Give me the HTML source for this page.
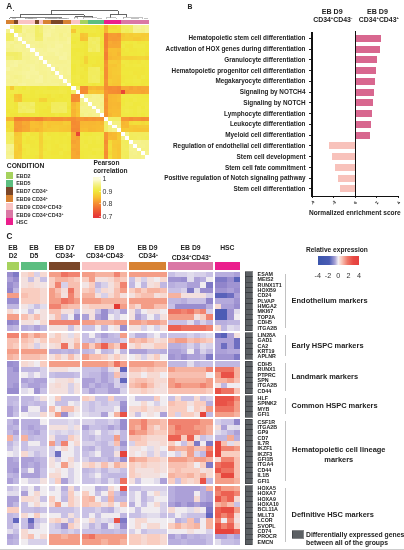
<!DOCTYPE html>
<html><head><meta charset="utf-8"><title>Figure</title>
<style>html,body{margin:0;padding:0;background:#fff;width:404px;height:550px;overflow:hidden} svg{display:block;filter:blur(0.45px)} text{shape-rendering:auto}</style>
</head><body>
<svg width="404" height="550" viewBox="0 0 404 550" shape-rendering="crispEdges"><rect x="0" y="0" width="404" height="550" fill="#fff"/>
<text x="6.2" y="8.9" font-family="Liberation Sans, Arial, sans-serif" font-weight="bold" font-size="8.2" fill="#222">A</text>
<circle cx="13.4" cy="10.4" r="0.55" fill="#666"/>
<rect x="5.90" y="19.6" width="4.15" height="4.6" fill="#d78232"/>
<rect x="10.00" y="19.6" width="4.15" height="4.6" fill="#d78232"/>
<rect x="14.09" y="19.6" width="4.15" height="4.6" fill="#7a4628"/>
<rect x="18.19" y="19.6" width="4.15" height="4.6" fill="#fac3c3"/>
<rect x="22.29" y="19.6" width="4.15" height="4.6" fill="#fac3c3"/>
<rect x="26.39" y="19.6" width="4.15" height="4.6" fill="#fac3c3"/>
<rect x="30.48" y="19.6" width="4.15" height="4.6" fill="#fac3c3"/>
<rect x="34.58" y="19.6" width="4.15" height="4.6" fill="#7a4628"/>
<rect x="38.68" y="19.6" width="4.15" height="4.6" fill="#fac3c3"/>
<rect x="42.77" y="19.6" width="4.15" height="4.6" fill="#d78232"/>
<rect x="46.87" y="19.6" width="4.15" height="4.6" fill="#d78232"/>
<rect x="50.97" y="19.6" width="4.15" height="4.6" fill="#7a4628"/>
<rect x="55.06" y="19.6" width="4.15" height="4.6" fill="#7a4628"/>
<rect x="59.16" y="19.6" width="4.15" height="4.6" fill="#7a4628"/>
<rect x="63.26" y="19.6" width="4.15" height="4.6" fill="#d78232"/>
<rect x="67.36" y="19.6" width="4.15" height="4.6" fill="#d78232"/>
<rect x="71.45" y="19.6" width="4.15" height="4.6" fill="#fac3c3"/>
<rect x="75.55" y="19.6" width="4.15" height="4.6" fill="#fac3c3"/>
<rect x="79.65" y="19.6" width="4.15" height="4.6" fill="#a6d25e"/>
<rect x="83.74" y="19.6" width="4.15" height="4.6" fill="#a6d25e"/>
<rect x="87.84" y="19.6" width="4.15" height="4.6" fill="#5cbe80"/>
<rect x="91.94" y="19.6" width="4.15" height="4.6" fill="#5cbe80"/>
<rect x="96.03" y="19.6" width="4.15" height="4.6" fill="#5cbe80"/>
<rect x="100.13" y="19.6" width="4.15" height="4.6" fill="#5cbe80"/>
<rect x="104.23" y="19.6" width="4.15" height="4.6" fill="#eb1e8c"/>
<rect x="108.33" y="19.6" width="4.15" height="4.6" fill="#eb1e8c"/>
<rect x="112.42" y="19.6" width="4.15" height="4.6" fill="#eb1e8c"/>
<rect x="116.52" y="19.6" width="4.15" height="4.6" fill="#eb1e8c"/>
<rect x="120.62" y="19.6" width="4.15" height="4.6" fill="#da78a5"/>
<rect x="124.71" y="19.6" width="4.15" height="4.6" fill="#da78a5"/>
<rect x="128.81" y="19.6" width="4.15" height="4.6" fill="#da78a5"/>
<rect x="132.91" y="19.6" width="4.15" height="4.6" fill="#da78a5"/>
<rect x="137.00" y="19.6" width="4.15" height="4.6" fill="#da78a5"/>
<rect x="141.10" y="19.6" width="4.15" height="4.6" fill="#da78a5"/>
<rect x="145.20" y="19.6" width="4.15" height="4.6" fill="#da78a5"/>
<rect x="5.90" y="25.30" width="4.16" height="3.88" fill="#ffffff"/>
<rect x="10.00" y="25.30" width="4.16" height="3.88" fill="#f5f28e"/>
<rect x="14.09" y="25.30" width="4.16" height="3.88" fill="#f2ed65"/>
<rect x="18.19" y="25.30" width="4.16" height="3.88" fill="#f2ed62"/>
<rect x="22.29" y="25.30" width="4.16" height="3.88" fill="#f6f394"/>
<rect x="26.39" y="25.30" width="4.16" height="3.88" fill="#f6f394"/>
<rect x="30.48" y="25.30" width="4.16" height="3.88" fill="#f5f28b"/>
<rect x="34.58" y="25.30" width="4.16" height="3.88" fill="#f2ed64"/>
<rect x="38.68" y="25.30" width="4.16" height="3.88" fill="#f3ef72"/>
<rect x="42.77" y="25.30" width="4.16" height="3.88" fill="#f6f397"/>
<rect x="46.87" y="25.30" width="4.16" height="3.88" fill="#f6f396"/>
<rect x="50.97" y="25.30" width="4.16" height="3.88" fill="#f7f5a4"/>
<rect x="55.06" y="25.30" width="4.16" height="3.88" fill="#f6f292"/>
<rect x="59.16" y="25.30" width="4.16" height="3.88" fill="#f6f398"/>
<rect x="63.26" y="25.30" width="4.16" height="3.88" fill="#f6f292"/>
<rect x="67.36" y="25.30" width="4.16" height="3.88" fill="#f6f395"/>
<rect x="71.45" y="25.30" width="4.16" height="3.88" fill="#f0e83e"/>
<rect x="75.55" y="25.30" width="4.16" height="3.88" fill="#f0e944"/>
<rect x="79.65" y="25.30" width="4.16" height="3.88" fill="#f0e941"/>
<rect x="83.74" y="25.30" width="4.16" height="3.88" fill="#f0e83c"/>
<rect x="87.84" y="25.30" width="4.16" height="3.88" fill="#f0e83f"/>
<rect x="91.94" y="25.30" width="4.16" height="3.88" fill="#f0e83e"/>
<rect x="96.03" y="25.30" width="4.16" height="3.88" fill="#f1e53b"/>
<rect x="100.13" y="25.30" width="4.16" height="3.88" fill="#f0e83f"/>
<rect x="104.23" y="25.30" width="4.16" height="3.88" fill="#f7b132"/>
<rect x="108.33" y="25.30" width="4.16" height="3.88" fill="#f3da39"/>
<rect x="112.42" y="25.30" width="4.16" height="3.88" fill="#f3d838"/>
<rect x="116.52" y="25.30" width="4.16" height="3.88" fill="#f2df3a"/>
<rect x="120.62" y="25.30" width="4.16" height="3.88" fill="#f2ec5d"/>
<rect x="124.71" y="25.30" width="4.16" height="3.88" fill="#f2ed60"/>
<rect x="128.81" y="25.30" width="4.16" height="3.88" fill="#f2ed62"/>
<rect x="132.91" y="25.30" width="4.16" height="3.88" fill="#f6f293"/>
<rect x="137.00" y="25.30" width="4.16" height="3.88" fill="#f6f396"/>
<rect x="141.10" y="25.30" width="4.16" height="3.88" fill="#f5f28d"/>
<rect x="145.20" y="25.30" width="4.16" height="3.88" fill="#f6f394"/>
<rect x="5.90" y="29.12" width="4.16" height="3.88" fill="#f5f28e"/>
<rect x="10.00" y="29.12" width="4.16" height="3.88" fill="#ffffff"/>
<rect x="14.09" y="29.12" width="4.16" height="3.88" fill="#f2ed63"/>
<rect x="18.19" y="29.12" width="4.16" height="3.88" fill="#f3ee6b"/>
<rect x="22.29" y="29.12" width="4.16" height="3.88" fill="#f6f399"/>
<rect x="26.39" y="29.12" width="4.16" height="3.88" fill="#f5f28b"/>
<rect x="30.48" y="29.12" width="4.16" height="3.88" fill="#f5f28c"/>
<rect x="34.58" y="29.12" width="4.16" height="3.88" fill="#f2ed68"/>
<rect x="38.68" y="29.12" width="4.16" height="3.88" fill="#f3ef75"/>
<rect x="42.77" y="29.12" width="4.16" height="3.88" fill="#f6f39a"/>
<rect x="46.87" y="29.12" width="4.16" height="3.88" fill="#f7f49d"/>
<rect x="50.97" y="29.12" width="4.16" height="3.88" fill="#f6f397"/>
<rect x="55.06" y="29.12" width="4.16" height="3.88" fill="#f6f292"/>
<rect x="59.16" y="29.12" width="4.16" height="3.88" fill="#f6f290"/>
<rect x="63.26" y="29.12" width="4.16" height="3.88" fill="#f6f290"/>
<rect x="67.36" y="29.12" width="4.16" height="3.88" fill="#f6f394"/>
<rect x="71.45" y="29.12" width="4.16" height="3.88" fill="#f6c934"/>
<rect x="75.55" y="29.12" width="4.16" height="3.88" fill="#f1ea48"/>
<rect x="79.65" y="29.12" width="4.16" height="3.88" fill="#f0e83e"/>
<rect x="83.74" y="29.12" width="4.16" height="3.88" fill="#f0e942"/>
<rect x="87.84" y="29.12" width="4.16" height="3.88" fill="#f0e941"/>
<rect x="91.94" y="29.12" width="4.16" height="3.88" fill="#f0e943"/>
<rect x="96.03" y="29.12" width="4.16" height="3.88" fill="#f0e83e"/>
<rect x="100.13" y="29.12" width="4.16" height="3.88" fill="#f1e53b"/>
<rect x="104.23" y="29.12" width="4.16" height="3.88" fill="#f7b432"/>
<rect x="108.33" y="29.12" width="4.16" height="3.88" fill="#f2e03a"/>
<rect x="112.42" y="29.12" width="4.16" height="3.88" fill="#f2df3a"/>
<rect x="116.52" y="29.12" width="4.16" height="3.88" fill="#f2dd39"/>
<rect x="120.62" y="29.12" width="4.16" height="3.88" fill="#f2ed60"/>
<rect x="124.71" y="29.12" width="4.16" height="3.88" fill="#f1ec59"/>
<rect x="128.81" y="29.12" width="4.16" height="3.88" fill="#f2ed62"/>
<rect x="132.91" y="29.12" width="4.16" height="3.88" fill="#f6f290"/>
<rect x="137.00" y="29.12" width="4.16" height="3.88" fill="#f5f28b"/>
<rect x="141.10" y="29.12" width="4.16" height="3.88" fill="#f5f187"/>
<rect x="145.20" y="29.12" width="4.16" height="3.88" fill="#f6f395"/>
<rect x="5.90" y="32.94" width="4.16" height="3.88" fill="#f2ed65"/>
<rect x="10.00" y="32.94" width="4.16" height="3.88" fill="#f2ed63"/>
<rect x="14.09" y="32.94" width="4.16" height="3.88" fill="#ffffff"/>
<rect x="18.19" y="32.94" width="4.16" height="3.88" fill="#f7f39b"/>
<rect x="22.29" y="32.94" width="4.16" height="3.88" fill="#f5f28b"/>
<rect x="26.39" y="32.94" width="4.16" height="3.88" fill="#f6f397"/>
<rect x="30.48" y="32.94" width="4.16" height="3.88" fill="#f6f291"/>
<rect x="34.58" y="32.94" width="4.16" height="3.88" fill="#f2ed67"/>
<rect x="38.68" y="32.94" width="4.16" height="3.88" fill="#f2ee69"/>
<rect x="42.77" y="32.94" width="4.16" height="3.88" fill="#f7f49f"/>
<rect x="46.87" y="32.94" width="4.16" height="3.88" fill="#f7f4a2"/>
<rect x="50.97" y="32.94" width="4.16" height="3.88" fill="#f6f293"/>
<rect x="55.06" y="32.94" width="4.16" height="3.88" fill="#f6f394"/>
<rect x="59.16" y="32.94" width="4.16" height="3.88" fill="#f5f18a"/>
<rect x="63.26" y="32.94" width="4.16" height="3.88" fill="#f6f396"/>
<rect x="67.36" y="32.94" width="4.16" height="3.88" fill="#f6f28f"/>
<rect x="71.45" y="32.94" width="4.16" height="3.88" fill="#f1e948"/>
<rect x="75.55" y="32.94" width="4.16" height="3.88" fill="#f1ea49"/>
<rect x="79.65" y="32.94" width="4.16" height="3.88" fill="#f7c433"/>
<rect x="83.74" y="32.94" width="4.16" height="3.88" fill="#f6c834"/>
<rect x="87.84" y="32.94" width="4.16" height="3.88" fill="#f0e63c"/>
<rect x="91.94" y="32.94" width="4.16" height="3.88" fill="#f1e53b"/>
<rect x="96.03" y="32.94" width="4.16" height="3.88" fill="#f0e83d"/>
<rect x="100.13" y="32.94" width="4.16" height="3.88" fill="#f1e43b"/>
<rect x="104.23" y="32.94" width="4.16" height="3.88" fill="#f38032"/>
<rect x="108.33" y="32.94" width="4.16" height="3.88" fill="#f69b32"/>
<rect x="112.42" y="32.94" width="4.16" height="3.88" fill="#f69d32"/>
<rect x="116.52" y="32.94" width="4.16" height="3.88" fill="#f69832"/>
<rect x="120.62" y="32.94" width="4.16" height="3.88" fill="#f6c834"/>
<rect x="124.71" y="32.94" width="4.16" height="3.88" fill="#f5cf36"/>
<rect x="128.81" y="32.94" width="4.16" height="3.88" fill="#f6cb35"/>
<rect x="132.91" y="32.94" width="4.16" height="3.88" fill="#f5d036"/>
<rect x="137.00" y="32.94" width="4.16" height="3.88" fill="#f5cf36"/>
<rect x="141.10" y="32.94" width="4.16" height="3.88" fill="#f6cb35"/>
<rect x="145.20" y="32.94" width="4.16" height="3.88" fill="#f6cc35"/>
<rect x="5.90" y="36.76" width="4.16" height="3.88" fill="#f2ed62"/>
<rect x="10.00" y="36.76" width="4.16" height="3.88" fill="#f3ee6b"/>
<rect x="14.09" y="36.76" width="4.16" height="3.88" fill="#f7f39b"/>
<rect x="18.19" y="36.76" width="4.16" height="3.88" fill="#ffffff"/>
<rect x="22.29" y="36.76" width="4.16" height="3.88" fill="#f6f293"/>
<rect x="26.39" y="36.76" width="4.16" height="3.88" fill="#f6f395"/>
<rect x="30.48" y="36.76" width="4.16" height="3.88" fill="#f6f394"/>
<rect x="34.58" y="36.76" width="4.16" height="3.88" fill="#f3ee6e"/>
<rect x="38.68" y="36.76" width="4.16" height="3.88" fill="#f3ee6f"/>
<rect x="42.77" y="36.76" width="4.16" height="3.88" fill="#f6f39a"/>
<rect x="46.87" y="36.76" width="4.16" height="3.88" fill="#f6f292"/>
<rect x="50.97" y="36.76" width="4.16" height="3.88" fill="#f6f291"/>
<rect x="55.06" y="36.76" width="4.16" height="3.88" fill="#f6f396"/>
<rect x="59.16" y="36.76" width="4.16" height="3.88" fill="#f5f28e"/>
<rect x="63.26" y="36.76" width="4.16" height="3.88" fill="#f6f28f"/>
<rect x="67.36" y="36.76" width="4.16" height="3.88" fill="#f7f39a"/>
<rect x="71.45" y="36.76" width="4.16" height="3.88" fill="#f0e943"/>
<rect x="75.55" y="36.76" width="4.16" height="3.88" fill="#f0e943"/>
<rect x="79.65" y="36.76" width="4.16" height="3.88" fill="#f8c032"/>
<rect x="83.74" y="36.76" width="4.16" height="3.88" fill="#f7c333"/>
<rect x="87.84" y="36.76" width="4.16" height="3.88" fill="#f2ed65"/>
<rect x="91.94" y="36.76" width="4.16" height="3.88" fill="#f2ec5e"/>
<rect x="96.03" y="36.76" width="4.16" height="3.88" fill="#f2ed66"/>
<rect x="100.13" y="36.76" width="4.16" height="3.88" fill="#f0e83e"/>
<rect x="104.23" y="36.76" width="4.16" height="3.88" fill="#f37f32"/>
<rect x="108.33" y="36.76" width="4.16" height="3.88" fill="#f69d32"/>
<rect x="112.42" y="36.76" width="4.16" height="3.88" fill="#f69b32"/>
<rect x="116.52" y="36.76" width="4.16" height="3.88" fill="#f69d32"/>
<rect x="120.62" y="36.76" width="4.16" height="3.88" fill="#f6cb35"/>
<rect x="124.71" y="36.76" width="4.16" height="3.88" fill="#f5ce35"/>
<rect x="128.81" y="36.76" width="4.16" height="3.88" fill="#f5ce35"/>
<rect x="132.91" y="36.76" width="4.16" height="3.88" fill="#f6c834"/>
<rect x="137.00" y="36.76" width="4.16" height="3.88" fill="#f6c834"/>
<rect x="141.10" y="36.76" width="4.16" height="3.88" fill="#f5cd35"/>
<rect x="145.20" y="36.76" width="4.16" height="3.88" fill="#f5d036"/>
<rect x="5.90" y="40.58" width="4.16" height="3.88" fill="#f6f394"/>
<rect x="10.00" y="40.58" width="4.16" height="3.88" fill="#f6f399"/>
<rect x="14.09" y="40.58" width="4.16" height="3.88" fill="#f5f28b"/>
<rect x="18.19" y="40.58" width="4.16" height="3.88" fill="#f6f293"/>
<rect x="22.29" y="40.58" width="4.16" height="3.88" fill="#ffffff"/>
<rect x="26.39" y="40.58" width="4.16" height="3.88" fill="#f6f28e"/>
<rect x="30.48" y="40.58" width="4.16" height="3.88" fill="#f6f292"/>
<rect x="34.58" y="40.58" width="4.16" height="3.88" fill="#f6f394"/>
<rect x="38.68" y="40.58" width="4.16" height="3.88" fill="#f6f28f"/>
<rect x="42.77" y="40.58" width="4.16" height="3.88" fill="#f6f397"/>
<rect x="46.87" y="40.58" width="4.16" height="3.88" fill="#f6f396"/>
<rect x="50.97" y="40.58" width="4.16" height="3.88" fill="#f6f397"/>
<rect x="55.06" y="40.58" width="4.16" height="3.88" fill="#f7f39b"/>
<rect x="59.16" y="40.58" width="4.16" height="3.88" fill="#f6f396"/>
<rect x="63.26" y="40.58" width="4.16" height="3.88" fill="#f6f397"/>
<rect x="67.36" y="40.58" width="4.16" height="3.88" fill="#f7f49e"/>
<rect x="71.45" y="40.58" width="4.16" height="3.88" fill="#f0e83c"/>
<rect x="75.55" y="40.58" width="4.16" height="3.88" fill="#f0e944"/>
<rect x="79.65" y="40.58" width="4.16" height="3.88" fill="#f0e83f"/>
<rect x="83.74" y="40.58" width="4.16" height="3.88" fill="#f0e63c"/>
<rect x="87.84" y="40.58" width="4.16" height="3.88" fill="#f2ed60"/>
<rect x="91.94" y="40.58" width="4.16" height="3.88" fill="#f2ee69"/>
<rect x="96.03" y="40.58" width="4.16" height="3.88" fill="#f2ed61"/>
<rect x="100.13" y="40.58" width="4.16" height="3.88" fill="#f1e53b"/>
<rect x="104.23" y="40.58" width="4.16" height="3.88" fill="#f48232"/>
<rect x="108.33" y="40.58" width="4.16" height="3.88" fill="#f7ab32"/>
<rect x="112.42" y="40.58" width="4.16" height="3.88" fill="#f6a532"/>
<rect x="116.52" y="40.58" width="4.16" height="3.88" fill="#f7a732"/>
<rect x="120.62" y="40.58" width="4.16" height="3.88" fill="#f0e73c"/>
<rect x="124.71" y="40.58" width="4.16" height="3.88" fill="#f0e940"/>
<rect x="128.81" y="40.58" width="4.16" height="3.88" fill="#f0e83c"/>
<rect x="132.91" y="40.58" width="4.16" height="3.88" fill="#f0e941"/>
<rect x="137.00" y="40.58" width="4.16" height="3.88" fill="#f1e53b"/>
<rect x="141.10" y="40.58" width="4.16" height="3.88" fill="#f0e73c"/>
<rect x="145.20" y="40.58" width="4.16" height="3.88" fill="#f0e83e"/>
<rect x="5.90" y="44.40" width="4.16" height="3.88" fill="#f6f394"/>
<rect x="10.00" y="44.40" width="4.16" height="3.88" fill="#f5f28b"/>
<rect x="14.09" y="44.40" width="4.16" height="3.88" fill="#f6f397"/>
<rect x="18.19" y="44.40" width="4.16" height="3.88" fill="#f6f395"/>
<rect x="22.29" y="44.40" width="4.16" height="3.88" fill="#f6f28e"/>
<rect x="26.39" y="44.40" width="4.16" height="3.88" fill="#ffffff"/>
<rect x="30.48" y="44.40" width="4.16" height="3.88" fill="#f6f399"/>
<rect x="34.58" y="44.40" width="4.16" height="3.88" fill="#f6f291"/>
<rect x="38.68" y="44.40" width="4.16" height="3.88" fill="#f5f28e"/>
<rect x="42.77" y="44.40" width="4.16" height="3.88" fill="#f6f293"/>
<rect x="46.87" y="44.40" width="4.16" height="3.88" fill="#f6f39a"/>
<rect x="50.97" y="44.40" width="4.16" height="3.88" fill="#f6f394"/>
<rect x="55.06" y="44.40" width="4.16" height="3.88" fill="#f7f49e"/>
<rect x="59.16" y="44.40" width="4.16" height="3.88" fill="#f7f49f"/>
<rect x="63.26" y="44.40" width="4.16" height="3.88" fill="#f6f394"/>
<rect x="67.36" y="44.40" width="4.16" height="3.88" fill="#f6f395"/>
<rect x="71.45" y="44.40" width="4.16" height="3.88" fill="#f1e947"/>
<rect x="75.55" y="44.40" width="4.16" height="3.88" fill="#f0e945"/>
<rect x="79.65" y="44.40" width="4.16" height="3.88" fill="#f0e940"/>
<rect x="83.74" y="44.40" width="4.16" height="3.88" fill="#f0e73c"/>
<rect x="87.84" y="44.40" width="4.16" height="3.88" fill="#f2ec5f"/>
<rect x="91.94" y="44.40" width="4.16" height="3.88" fill="#f2ed61"/>
<rect x="96.03" y="44.40" width="4.16" height="3.88" fill="#f2ee69"/>
<rect x="100.13" y="44.40" width="4.16" height="3.88" fill="#f0e63c"/>
<rect x="104.23" y="44.40" width="4.16" height="3.88" fill="#f38232"/>
<rect x="108.33" y="44.40" width="4.16" height="3.88" fill="#f7a832"/>
<rect x="112.42" y="44.40" width="4.16" height="3.88" fill="#f7a832"/>
<rect x="116.52" y="44.40" width="4.16" height="3.88" fill="#f7a832"/>
<rect x="120.62" y="44.40" width="4.16" height="3.88" fill="#f0e942"/>
<rect x="124.71" y="44.40" width="4.16" height="3.88" fill="#f1e53b"/>
<rect x="128.81" y="44.40" width="4.16" height="3.88" fill="#f1e43b"/>
<rect x="132.91" y="44.40" width="4.16" height="3.88" fill="#f0e942"/>
<rect x="137.00" y="44.40" width="4.16" height="3.88" fill="#f0e941"/>
<rect x="141.10" y="44.40" width="4.16" height="3.88" fill="#f0e942"/>
<rect x="145.20" y="44.40" width="4.16" height="3.88" fill="#f0e73c"/>
<rect x="5.90" y="48.22" width="4.16" height="3.88" fill="#f5f28b"/>
<rect x="10.00" y="48.22" width="4.16" height="3.88" fill="#f5f28c"/>
<rect x="14.09" y="48.22" width="4.16" height="3.88" fill="#f6f291"/>
<rect x="18.19" y="48.22" width="4.16" height="3.88" fill="#f6f394"/>
<rect x="22.29" y="48.22" width="4.16" height="3.88" fill="#f6f292"/>
<rect x="26.39" y="48.22" width="4.16" height="3.88" fill="#f6f399"/>
<rect x="30.48" y="48.22" width="4.16" height="3.88" fill="#ffffff"/>
<rect x="34.58" y="48.22" width="4.16" height="3.88" fill="#f7f39a"/>
<rect x="38.68" y="48.22" width="4.16" height="3.88" fill="#f6f39a"/>
<rect x="42.77" y="48.22" width="4.16" height="3.88" fill="#f6f394"/>
<rect x="46.87" y="48.22" width="4.16" height="3.88" fill="#f7f49d"/>
<rect x="50.97" y="48.22" width="4.16" height="3.88" fill="#f7f49f"/>
<rect x="55.06" y="48.22" width="4.16" height="3.88" fill="#f7f49c"/>
<rect x="59.16" y="48.22" width="4.16" height="3.88" fill="#f6f399"/>
<rect x="63.26" y="48.22" width="4.16" height="3.88" fill="#f6f396"/>
<rect x="67.36" y="48.22" width="4.16" height="3.88" fill="#f6f396"/>
<rect x="71.45" y="48.22" width="4.16" height="3.88" fill="#f0e83f"/>
<rect x="75.55" y="48.22" width="4.16" height="3.88" fill="#f0e83d"/>
<rect x="79.65" y="48.22" width="4.16" height="3.88" fill="#f0e83d"/>
<rect x="83.74" y="48.22" width="4.16" height="3.88" fill="#f0e63c"/>
<rect x="87.84" y="48.22" width="4.16" height="3.88" fill="#f2ee69"/>
<rect x="91.94" y="48.22" width="4.16" height="3.88" fill="#f2ec5e"/>
<rect x="96.03" y="48.22" width="4.16" height="3.88" fill="#f3ee6b"/>
<rect x="100.13" y="48.22" width="4.16" height="3.88" fill="#f0e83f"/>
<rect x="104.23" y="48.22" width="4.16" height="3.88" fill="#f48732"/>
<rect x="108.33" y="48.22" width="4.16" height="3.88" fill="#f8bf32"/>
<rect x="112.42" y="48.22" width="4.16" height="3.88" fill="#f8bf32"/>
<rect x="116.52" y="48.22" width="4.16" height="3.88" fill="#f8bc32"/>
<rect x="120.62" y="48.22" width="4.16" height="3.88" fill="#f1e43b"/>
<rect x="124.71" y="48.22" width="4.16" height="3.88" fill="#f0e83f"/>
<rect x="128.81" y="48.22" width="4.16" height="3.88" fill="#f1e53b"/>
<rect x="132.91" y="48.22" width="4.16" height="3.88" fill="#f0e63c"/>
<rect x="137.00" y="48.22" width="4.16" height="3.88" fill="#f0e83e"/>
<rect x="141.10" y="48.22" width="4.16" height="3.88" fill="#f0e83c"/>
<rect x="145.20" y="48.22" width="4.16" height="3.88" fill="#f0e73c"/>
<rect x="5.90" y="52.04" width="4.16" height="3.88" fill="#f2ed64"/>
<rect x="10.00" y="52.04" width="4.16" height="3.88" fill="#f2ed68"/>
<rect x="14.09" y="52.04" width="4.16" height="3.88" fill="#f2ed67"/>
<rect x="18.19" y="52.04" width="4.16" height="3.88" fill="#f3ee6e"/>
<rect x="22.29" y="52.04" width="4.16" height="3.88" fill="#f6f394"/>
<rect x="26.39" y="52.04" width="4.16" height="3.88" fill="#f6f291"/>
<rect x="30.48" y="52.04" width="4.16" height="3.88" fill="#f7f39a"/>
<rect x="34.58" y="52.04" width="4.16" height="3.88" fill="#ffffff"/>
<rect x="38.68" y="52.04" width="4.16" height="3.88" fill="#f6f39a"/>
<rect x="42.77" y="52.04" width="4.16" height="3.88" fill="#f7f39b"/>
<rect x="46.87" y="52.04" width="4.16" height="3.88" fill="#f6f396"/>
<rect x="50.97" y="52.04" width="4.16" height="3.88" fill="#f6f395"/>
<rect x="55.06" y="52.04" width="4.16" height="3.88" fill="#f7f49f"/>
<rect x="59.16" y="52.04" width="4.16" height="3.88" fill="#f6f399"/>
<rect x="63.26" y="52.04" width="4.16" height="3.88" fill="#f7f49e"/>
<rect x="67.36" y="52.04" width="4.16" height="3.88" fill="#f6f397"/>
<rect x="71.45" y="52.04" width="4.16" height="3.88" fill="#f0e83f"/>
<rect x="75.55" y="52.04" width="4.16" height="3.88" fill="#f0e943"/>
<rect x="79.65" y="52.04" width="4.16" height="3.88" fill="#f0e940"/>
<rect x="83.74" y="52.04" width="4.16" height="3.88" fill="#f1e53b"/>
<rect x="87.84" y="52.04" width="4.16" height="3.88" fill="#f0e840"/>
<rect x="91.94" y="52.04" width="4.16" height="3.88" fill="#f0e942"/>
<rect x="96.03" y="52.04" width="4.16" height="3.88" fill="#f0e940"/>
<rect x="100.13" y="52.04" width="4.16" height="3.88" fill="#f0e940"/>
<rect x="104.23" y="52.04" width="4.16" height="3.88" fill="#f37f32"/>
<rect x="108.33" y="52.04" width="4.16" height="3.88" fill="#f8bc32"/>
<rect x="112.42" y="52.04" width="4.16" height="3.88" fill="#f8bf32"/>
<rect x="116.52" y="52.04" width="4.16" height="3.88" fill="#f7b632"/>
<rect x="120.62" y="52.04" width="4.16" height="3.88" fill="#f0e63c"/>
<rect x="124.71" y="52.04" width="4.16" height="3.88" fill="#f0e63c"/>
<rect x="128.81" y="52.04" width="4.16" height="3.88" fill="#f0e83c"/>
<rect x="132.91" y="52.04" width="4.16" height="3.88" fill="#f0e73c"/>
<rect x="137.00" y="52.04" width="4.16" height="3.88" fill="#f0e83c"/>
<rect x="141.10" y="52.04" width="4.16" height="3.88" fill="#f0e840"/>
<rect x="145.20" y="52.04" width="4.16" height="3.88" fill="#f1e43b"/>
<rect x="5.90" y="55.86" width="4.16" height="3.88" fill="#f3ef72"/>
<rect x="10.00" y="55.86" width="4.16" height="3.88" fill="#f3ef75"/>
<rect x="14.09" y="55.86" width="4.16" height="3.88" fill="#f2ee69"/>
<rect x="18.19" y="55.86" width="4.16" height="3.88" fill="#f3ee6f"/>
<rect x="22.29" y="55.86" width="4.16" height="3.88" fill="#f6f28f"/>
<rect x="26.39" y="55.86" width="4.16" height="3.88" fill="#f5f28e"/>
<rect x="30.48" y="55.86" width="4.16" height="3.88" fill="#f6f39a"/>
<rect x="34.58" y="55.86" width="4.16" height="3.88" fill="#f6f39a"/>
<rect x="38.68" y="55.86" width="4.16" height="3.88" fill="#ffffff"/>
<rect x="42.77" y="55.86" width="4.16" height="3.88" fill="#f6f292"/>
<rect x="46.87" y="55.86" width="4.16" height="3.88" fill="#f6f293"/>
<rect x="50.97" y="55.86" width="4.16" height="3.88" fill="#f6f293"/>
<rect x="55.06" y="55.86" width="4.16" height="3.88" fill="#f6f292"/>
<rect x="59.16" y="55.86" width="4.16" height="3.88" fill="#f7f4a2"/>
<rect x="63.26" y="55.86" width="4.16" height="3.88" fill="#f7f49f"/>
<rect x="67.36" y="55.86" width="4.16" height="3.88" fill="#f6f292"/>
<rect x="71.45" y="55.86" width="4.16" height="3.88" fill="#f0e943"/>
<rect x="75.55" y="55.86" width="4.16" height="3.88" fill="#f0e940"/>
<rect x="79.65" y="55.86" width="4.16" height="3.88" fill="#f0e73c"/>
<rect x="83.74" y="55.86" width="4.16" height="3.88" fill="#f4d337"/>
<rect x="87.84" y="55.86" width="4.16" height="3.88" fill="#f0e83e"/>
<rect x="91.94" y="55.86" width="4.16" height="3.88" fill="#f0e83d"/>
<rect x="96.03" y="55.86" width="4.16" height="3.88" fill="#f0e73c"/>
<rect x="100.13" y="55.86" width="4.16" height="3.88" fill="#f0e63b"/>
<rect x="104.23" y="55.86" width="4.16" height="3.88" fill="#f38132"/>
<rect x="108.33" y="55.86" width="4.16" height="3.88" fill="#f7b732"/>
<rect x="112.42" y="55.86" width="4.16" height="3.88" fill="#f8bb32"/>
<rect x="116.52" y="55.86" width="4.16" height="3.88" fill="#f8bd32"/>
<rect x="120.62" y="55.86" width="4.16" height="3.88" fill="#f4d337"/>
<rect x="124.71" y="55.86" width="4.16" height="3.88" fill="#f5d136"/>
<rect x="128.81" y="55.86" width="4.16" height="3.88" fill="#f5d136"/>
<rect x="132.91" y="55.86" width="4.16" height="3.88" fill="#f4d337"/>
<rect x="137.00" y="55.86" width="4.16" height="3.88" fill="#f4d537"/>
<rect x="141.10" y="55.86" width="4.16" height="3.88" fill="#f4d638"/>
<rect x="145.20" y="55.86" width="4.16" height="3.88" fill="#f4d337"/>
<rect x="5.90" y="59.68" width="4.16" height="3.88" fill="#f6f397"/>
<rect x="10.00" y="59.68" width="4.16" height="3.88" fill="#f6f39a"/>
<rect x="14.09" y="59.68" width="4.16" height="3.88" fill="#f7f49f"/>
<rect x="18.19" y="59.68" width="4.16" height="3.88" fill="#f6f39a"/>
<rect x="22.29" y="59.68" width="4.16" height="3.88" fill="#f6f397"/>
<rect x="26.39" y="59.68" width="4.16" height="3.88" fill="#f6f293"/>
<rect x="30.48" y="59.68" width="4.16" height="3.88" fill="#f6f394"/>
<rect x="34.58" y="59.68" width="4.16" height="3.88" fill="#f7f39b"/>
<rect x="38.68" y="59.68" width="4.16" height="3.88" fill="#f6f292"/>
<rect x="42.77" y="59.68" width="4.16" height="3.88" fill="#ffffff"/>
<rect x="46.87" y="59.68" width="4.16" height="3.88" fill="#f6f397"/>
<rect x="50.97" y="59.68" width="4.16" height="3.88" fill="#f6f394"/>
<rect x="55.06" y="59.68" width="4.16" height="3.88" fill="#f6f291"/>
<rect x="59.16" y="59.68" width="4.16" height="3.88" fill="#f6f290"/>
<rect x="63.26" y="59.68" width="4.16" height="3.88" fill="#f6f292"/>
<rect x="67.36" y="59.68" width="4.16" height="3.88" fill="#f6f396"/>
<rect x="71.45" y="59.68" width="4.16" height="3.88" fill="#f0e942"/>
<rect x="75.55" y="59.68" width="4.16" height="3.88" fill="#f0e945"/>
<rect x="79.65" y="59.68" width="4.16" height="3.88" fill="#f0e83c"/>
<rect x="83.74" y="59.68" width="4.16" height="3.88" fill="#f4d236"/>
<rect x="87.84" y="59.68" width="4.16" height="3.88" fill="#f0e83c"/>
<rect x="91.94" y="59.68" width="4.16" height="3.88" fill="#f0e83f"/>
<rect x="96.03" y="59.68" width="4.16" height="3.88" fill="#f1e53b"/>
<rect x="100.13" y="59.68" width="4.16" height="3.88" fill="#f0e73c"/>
<rect x="104.23" y="59.68" width="4.16" height="3.88" fill="#f59032"/>
<rect x="108.33" y="59.68" width="4.16" height="3.88" fill="#f6cb35"/>
<rect x="112.42" y="59.68" width="4.16" height="3.88" fill="#f6cb35"/>
<rect x="116.52" y="59.68" width="4.16" height="3.88" fill="#f7c734"/>
<rect x="120.62" y="59.68" width="4.16" height="3.88" fill="#f0e941"/>
<rect x="124.71" y="59.68" width="4.16" height="3.88" fill="#f0e840"/>
<rect x="128.81" y="59.68" width="4.16" height="3.88" fill="#f0e63c"/>
<rect x="132.91" y="59.68" width="4.16" height="3.88" fill="#f0e83c"/>
<rect x="137.00" y="59.68" width="4.16" height="3.88" fill="#f1e53b"/>
<rect x="141.10" y="59.68" width="4.16" height="3.88" fill="#f0e940"/>
<rect x="145.20" y="59.68" width="4.16" height="3.88" fill="#f0e83e"/>
<rect x="5.90" y="63.50" width="4.16" height="3.88" fill="#f6f396"/>
<rect x="10.00" y="63.50" width="4.16" height="3.88" fill="#f7f49d"/>
<rect x="14.09" y="63.50" width="4.16" height="3.88" fill="#f7f4a2"/>
<rect x="18.19" y="63.50" width="4.16" height="3.88" fill="#f6f292"/>
<rect x="22.29" y="63.50" width="4.16" height="3.88" fill="#f6f396"/>
<rect x="26.39" y="63.50" width="4.16" height="3.88" fill="#f6f39a"/>
<rect x="30.48" y="63.50" width="4.16" height="3.88" fill="#f7f49d"/>
<rect x="34.58" y="63.50" width="4.16" height="3.88" fill="#f6f396"/>
<rect x="38.68" y="63.50" width="4.16" height="3.88" fill="#f6f293"/>
<rect x="42.77" y="63.50" width="4.16" height="3.88" fill="#f6f397"/>
<rect x="46.87" y="63.50" width="4.16" height="3.88" fill="#ffffff"/>
<rect x="50.97" y="63.50" width="4.16" height="3.88" fill="#f6f399"/>
<rect x="55.06" y="63.50" width="4.16" height="3.88" fill="#f6f397"/>
<rect x="59.16" y="63.50" width="4.16" height="3.88" fill="#f6f395"/>
<rect x="63.26" y="63.50" width="4.16" height="3.88" fill="#f6f396"/>
<rect x="67.36" y="63.50" width="4.16" height="3.88" fill="#f6f393"/>
<rect x="71.45" y="63.50" width="4.16" height="3.88" fill="#f0e83d"/>
<rect x="75.55" y="63.50" width="4.16" height="3.88" fill="#f0e944"/>
<rect x="79.65" y="63.50" width="4.16" height="3.88" fill="#f1e43b"/>
<rect x="83.74" y="63.50" width="4.16" height="3.88" fill="#f1e53b"/>
<rect x="87.84" y="63.50" width="4.16" height="3.88" fill="#f0e840"/>
<rect x="91.94" y="63.50" width="4.16" height="3.88" fill="#f1e43b"/>
<rect x="96.03" y="63.50" width="4.16" height="3.88" fill="#f1e53b"/>
<rect x="100.13" y="63.50" width="4.16" height="3.88" fill="#f1e53b"/>
<rect x="104.23" y="63.50" width="4.16" height="3.88" fill="#f69532"/>
<rect x="108.33" y="63.50" width="4.16" height="3.88" fill="#f7c533"/>
<rect x="112.42" y="63.50" width="4.16" height="3.88" fill="#f7c433"/>
<rect x="116.52" y="63.50" width="4.16" height="3.88" fill="#f6cb35"/>
<rect x="120.62" y="63.50" width="4.16" height="3.88" fill="#f1e53b"/>
<rect x="124.71" y="63.50" width="4.16" height="3.88" fill="#f0e941"/>
<rect x="128.81" y="63.50" width="4.16" height="3.88" fill="#f0e83e"/>
<rect x="132.91" y="63.50" width="4.16" height="3.88" fill="#f0e940"/>
<rect x="137.00" y="63.50" width="4.16" height="3.88" fill="#f0e942"/>
<rect x="141.10" y="63.50" width="4.16" height="3.88" fill="#f0e83d"/>
<rect x="145.20" y="63.50" width="4.16" height="3.88" fill="#f0e840"/>
<rect x="5.90" y="67.32" width="4.16" height="3.88" fill="#f7f5a4"/>
<rect x="10.00" y="67.32" width="4.16" height="3.88" fill="#f6f397"/>
<rect x="14.09" y="67.32" width="4.16" height="3.88" fill="#f6f293"/>
<rect x="18.19" y="67.32" width="4.16" height="3.88" fill="#f6f291"/>
<rect x="22.29" y="67.32" width="4.16" height="3.88" fill="#f6f397"/>
<rect x="26.39" y="67.32" width="4.16" height="3.88" fill="#f6f394"/>
<rect x="30.48" y="67.32" width="4.16" height="3.88" fill="#f7f49f"/>
<rect x="34.58" y="67.32" width="4.16" height="3.88" fill="#f6f395"/>
<rect x="38.68" y="67.32" width="4.16" height="3.88" fill="#f6f293"/>
<rect x="42.77" y="67.32" width="4.16" height="3.88" fill="#f6f394"/>
<rect x="46.87" y="67.32" width="4.16" height="3.88" fill="#f6f399"/>
<rect x="50.97" y="67.32" width="4.16" height="3.88" fill="#ffffff"/>
<rect x="55.06" y="67.32" width="4.16" height="3.88" fill="#f5f18a"/>
<rect x="59.16" y="67.32" width="4.16" height="3.88" fill="#f6f397"/>
<rect x="63.26" y="67.32" width="4.16" height="3.88" fill="#f6f292"/>
<rect x="67.36" y="67.32" width="4.16" height="3.88" fill="#f6f396"/>
<rect x="71.45" y="67.32" width="4.16" height="3.88" fill="#f0e83d"/>
<rect x="75.55" y="67.32" width="4.16" height="3.88" fill="#f0e946"/>
<rect x="79.65" y="67.32" width="4.16" height="3.88" fill="#f0e942"/>
<rect x="83.74" y="67.32" width="4.16" height="3.88" fill="#f1e43b"/>
<rect x="87.84" y="67.32" width="4.16" height="3.88" fill="#f2ec5b"/>
<rect x="91.94" y="67.32" width="4.16" height="3.88" fill="#f2ec5e"/>
<rect x="96.03" y="67.32" width="4.16" height="3.88" fill="#f2ed62"/>
<rect x="100.13" y="67.32" width="4.16" height="3.88" fill="#f0e63b"/>
<rect x="104.23" y="67.32" width="4.16" height="3.88" fill="#f58e32"/>
<rect x="108.33" y="67.32" width="4.16" height="3.88" fill="#f7c633"/>
<rect x="112.42" y="67.32" width="4.16" height="3.88" fill="#f6c934"/>
<rect x="116.52" y="67.32" width="4.16" height="3.88" fill="#f6ca35"/>
<rect x="120.62" y="67.32" width="4.16" height="3.88" fill="#f0e73c"/>
<rect x="124.71" y="67.32" width="4.16" height="3.88" fill="#f0e73c"/>
<rect x="128.81" y="67.32" width="4.16" height="3.88" fill="#f0e73c"/>
<rect x="132.91" y="67.32" width="4.16" height="3.88" fill="#f0e73c"/>
<rect x="137.00" y="67.32" width="4.16" height="3.88" fill="#f0e73c"/>
<rect x="141.10" y="67.32" width="4.16" height="3.88" fill="#f1e53b"/>
<rect x="145.20" y="67.32" width="4.16" height="3.88" fill="#f0e83c"/>
<rect x="5.90" y="71.14" width="4.16" height="3.88" fill="#f6f292"/>
<rect x="10.00" y="71.14" width="4.16" height="3.88" fill="#f6f292"/>
<rect x="14.09" y="71.14" width="4.16" height="3.88" fill="#f6f394"/>
<rect x="18.19" y="71.14" width="4.16" height="3.88" fill="#f6f396"/>
<rect x="22.29" y="71.14" width="4.16" height="3.88" fill="#f7f39b"/>
<rect x="26.39" y="71.14" width="4.16" height="3.88" fill="#f7f49e"/>
<rect x="30.48" y="71.14" width="4.16" height="3.88" fill="#f7f49c"/>
<rect x="34.58" y="71.14" width="4.16" height="3.88" fill="#f7f49f"/>
<rect x="38.68" y="71.14" width="4.16" height="3.88" fill="#f6f292"/>
<rect x="42.77" y="71.14" width="4.16" height="3.88" fill="#f6f291"/>
<rect x="46.87" y="71.14" width="4.16" height="3.88" fill="#f6f397"/>
<rect x="50.97" y="71.14" width="4.16" height="3.88" fill="#f5f18a"/>
<rect x="55.06" y="71.14" width="4.16" height="3.88" fill="#ffffff"/>
<rect x="59.16" y="71.14" width="4.16" height="3.88" fill="#f7f39a"/>
<rect x="63.26" y="71.14" width="4.16" height="3.88" fill="#f6f291"/>
<rect x="67.36" y="71.14" width="4.16" height="3.88" fill="#f6f397"/>
<rect x="71.45" y="71.14" width="4.16" height="3.88" fill="#f0e83e"/>
<rect x="75.55" y="71.14" width="4.16" height="3.88" fill="#f0e945"/>
<rect x="79.65" y="71.14" width="4.16" height="3.88" fill="#f0e83f"/>
<rect x="83.74" y="71.14" width="4.16" height="3.88" fill="#f0e83e"/>
<rect x="87.84" y="71.14" width="4.16" height="3.88" fill="#f2ec5e"/>
<rect x="91.94" y="71.14" width="4.16" height="3.88" fill="#f2ec5d"/>
<rect x="96.03" y="71.14" width="4.16" height="3.88" fill="#f2ec5f"/>
<rect x="100.13" y="71.14" width="4.16" height="3.88" fill="#f0e941"/>
<rect x="104.23" y="71.14" width="4.16" height="3.88" fill="#f58e32"/>
<rect x="108.33" y="71.14" width="4.16" height="3.88" fill="#f7c533"/>
<rect x="112.42" y="71.14" width="4.16" height="3.88" fill="#f6ca34"/>
<rect x="116.52" y="71.14" width="4.16" height="3.88" fill="#f6cb35"/>
<rect x="120.62" y="71.14" width="4.16" height="3.88" fill="#f0e83c"/>
<rect x="124.71" y="71.14" width="4.16" height="3.88" fill="#f0e83c"/>
<rect x="128.81" y="71.14" width="4.16" height="3.88" fill="#f0e83f"/>
<rect x="132.91" y="71.14" width="4.16" height="3.88" fill="#f1e53b"/>
<rect x="137.00" y="71.14" width="4.16" height="3.88" fill="#f0e63c"/>
<rect x="141.10" y="71.14" width="4.16" height="3.88" fill="#f0e63b"/>
<rect x="145.20" y="71.14" width="4.16" height="3.88" fill="#f0e83d"/>
<rect x="5.90" y="74.96" width="4.16" height="3.88" fill="#f6f398"/>
<rect x="10.00" y="74.96" width="4.16" height="3.88" fill="#f6f290"/>
<rect x="14.09" y="74.96" width="4.16" height="3.88" fill="#f5f18a"/>
<rect x="18.19" y="74.96" width="4.16" height="3.88" fill="#f5f28e"/>
<rect x="22.29" y="74.96" width="4.16" height="3.88" fill="#f6f396"/>
<rect x="26.39" y="74.96" width="4.16" height="3.88" fill="#f7f49f"/>
<rect x="30.48" y="74.96" width="4.16" height="3.88" fill="#f6f399"/>
<rect x="34.58" y="74.96" width="4.16" height="3.88" fill="#f6f399"/>
<rect x="38.68" y="74.96" width="4.16" height="3.88" fill="#f7f4a2"/>
<rect x="42.77" y="74.96" width="4.16" height="3.88" fill="#f6f290"/>
<rect x="46.87" y="74.96" width="4.16" height="3.88" fill="#f6f395"/>
<rect x="50.97" y="74.96" width="4.16" height="3.88" fill="#f6f397"/>
<rect x="55.06" y="74.96" width="4.16" height="3.88" fill="#f7f39a"/>
<rect x="59.16" y="74.96" width="4.16" height="3.88" fill="#ffffff"/>
<rect x="63.26" y="74.96" width="4.16" height="3.88" fill="#f6f28f"/>
<rect x="67.36" y="74.96" width="4.16" height="3.88" fill="#f5f28e"/>
<rect x="71.45" y="74.96" width="4.16" height="3.88" fill="#f0e945"/>
<rect x="75.55" y="74.96" width="4.16" height="3.88" fill="#f1ea49"/>
<rect x="79.65" y="74.96" width="4.16" height="3.88" fill="#f0e63c"/>
<rect x="83.74" y="74.96" width="4.16" height="3.88" fill="#f0e83f"/>
<rect x="87.84" y="74.96" width="4.16" height="3.88" fill="#f2ec5c"/>
<rect x="91.94" y="74.96" width="4.16" height="3.88" fill="#f2ed62"/>
<rect x="96.03" y="74.96" width="4.16" height="3.88" fill="#f2ec5e"/>
<rect x="100.13" y="74.96" width="4.16" height="3.88" fill="#f0e63c"/>
<rect x="104.23" y="74.96" width="4.16" height="3.88" fill="#f58e32"/>
<rect x="108.33" y="74.96" width="4.16" height="3.88" fill="#f7c433"/>
<rect x="112.42" y="74.96" width="4.16" height="3.88" fill="#f6c834"/>
<rect x="116.52" y="74.96" width="4.16" height="3.88" fill="#f7c734"/>
<rect x="120.62" y="74.96" width="4.16" height="3.88" fill="#f1e53b"/>
<rect x="124.71" y="74.96" width="4.16" height="3.88" fill="#f0e73c"/>
<rect x="128.81" y="74.96" width="4.16" height="3.88" fill="#f0e73c"/>
<rect x="132.91" y="74.96" width="4.16" height="3.88" fill="#f0e840"/>
<rect x="137.00" y="74.96" width="4.16" height="3.88" fill="#f1e53b"/>
<rect x="141.10" y="74.96" width="4.16" height="3.88" fill="#f0e943"/>
<rect x="145.20" y="74.96" width="4.16" height="3.88" fill="#f0e83c"/>
<rect x="5.90" y="78.78" width="4.16" height="3.88" fill="#f6f292"/>
<rect x="10.00" y="78.78" width="4.16" height="3.88" fill="#f6f290"/>
<rect x="14.09" y="78.78" width="4.16" height="3.88" fill="#f6f396"/>
<rect x="18.19" y="78.78" width="4.16" height="3.88" fill="#f6f28f"/>
<rect x="22.29" y="78.78" width="4.16" height="3.88" fill="#f6f397"/>
<rect x="26.39" y="78.78" width="4.16" height="3.88" fill="#f6f394"/>
<rect x="30.48" y="78.78" width="4.16" height="3.88" fill="#f6f396"/>
<rect x="34.58" y="78.78" width="4.16" height="3.88" fill="#f7f49e"/>
<rect x="38.68" y="78.78" width="4.16" height="3.88" fill="#f7f49f"/>
<rect x="42.77" y="78.78" width="4.16" height="3.88" fill="#f6f292"/>
<rect x="46.87" y="78.78" width="4.16" height="3.88" fill="#f6f396"/>
<rect x="50.97" y="78.78" width="4.16" height="3.88" fill="#f6f292"/>
<rect x="55.06" y="78.78" width="4.16" height="3.88" fill="#f6f291"/>
<rect x="59.16" y="78.78" width="4.16" height="3.88" fill="#f6f28f"/>
<rect x="63.26" y="78.78" width="4.16" height="3.88" fill="#ffffff"/>
<rect x="67.36" y="78.78" width="4.16" height="3.88" fill="#f6f394"/>
<rect x="71.45" y="78.78" width="4.16" height="3.88" fill="#f0e942"/>
<rect x="75.55" y="78.78" width="4.16" height="3.88" fill="#f1e947"/>
<rect x="79.65" y="78.78" width="4.16" height="3.88" fill="#f0e940"/>
<rect x="83.74" y="78.78" width="4.16" height="3.88" fill="#f0e83d"/>
<rect x="87.84" y="78.78" width="4.16" height="3.88" fill="#f2ec5d"/>
<rect x="91.94" y="78.78" width="4.16" height="3.88" fill="#f2ed60"/>
<rect x="96.03" y="78.78" width="4.16" height="3.88" fill="#f2ed62"/>
<rect x="100.13" y="78.78" width="4.16" height="3.88" fill="#f0e73c"/>
<rect x="104.23" y="78.78" width="4.16" height="3.88" fill="#f59432"/>
<rect x="108.33" y="78.78" width="4.16" height="3.88" fill="#f6cc35"/>
<rect x="112.42" y="78.78" width="4.16" height="3.88" fill="#f6c834"/>
<rect x="116.52" y="78.78" width="4.16" height="3.88" fill="#f7c633"/>
<rect x="120.62" y="78.78" width="4.16" height="3.88" fill="#f0e63b"/>
<rect x="124.71" y="78.78" width="4.16" height="3.88" fill="#f0e83f"/>
<rect x="128.81" y="78.78" width="4.16" height="3.88" fill="#f0e83e"/>
<rect x="132.91" y="78.78" width="4.16" height="3.88" fill="#f0e942"/>
<rect x="137.00" y="78.78" width="4.16" height="3.88" fill="#f0e941"/>
<rect x="141.10" y="78.78" width="4.16" height="3.88" fill="#f0e63b"/>
<rect x="145.20" y="78.78" width="4.16" height="3.88" fill="#f0e63b"/>
<rect x="5.90" y="82.60" width="4.16" height="3.88" fill="#f6f395"/>
<rect x="10.00" y="82.60" width="4.16" height="3.88" fill="#f6f394"/>
<rect x="14.09" y="82.60" width="4.16" height="3.88" fill="#f6f28f"/>
<rect x="18.19" y="82.60" width="4.16" height="3.88" fill="#f7f39a"/>
<rect x="22.29" y="82.60" width="4.16" height="3.88" fill="#f7f49e"/>
<rect x="26.39" y="82.60" width="4.16" height="3.88" fill="#f6f395"/>
<rect x="30.48" y="82.60" width="4.16" height="3.88" fill="#f6f396"/>
<rect x="34.58" y="82.60" width="4.16" height="3.88" fill="#f6f397"/>
<rect x="38.68" y="82.60" width="4.16" height="3.88" fill="#f6f292"/>
<rect x="42.77" y="82.60" width="4.16" height="3.88" fill="#f6f396"/>
<rect x="46.87" y="82.60" width="4.16" height="3.88" fill="#f6f393"/>
<rect x="50.97" y="82.60" width="4.16" height="3.88" fill="#f6f396"/>
<rect x="55.06" y="82.60" width="4.16" height="3.88" fill="#f6f397"/>
<rect x="59.16" y="82.60" width="4.16" height="3.88" fill="#f5f28e"/>
<rect x="63.26" y="82.60" width="4.16" height="3.88" fill="#f6f394"/>
<rect x="67.36" y="82.60" width="4.16" height="3.88" fill="#ffffff"/>
<rect x="71.45" y="82.60" width="4.16" height="3.88" fill="#f0e83f"/>
<rect x="75.55" y="82.60" width="4.16" height="3.88" fill="#f0e83e"/>
<rect x="79.65" y="82.60" width="4.16" height="3.88" fill="#f0e83f"/>
<rect x="83.74" y="82.60" width="4.16" height="3.88" fill="#f0e941"/>
<rect x="87.84" y="82.60" width="4.16" height="3.88" fill="#f0e941"/>
<rect x="91.94" y="82.60" width="4.16" height="3.88" fill="#f0e63c"/>
<rect x="96.03" y="82.60" width="4.16" height="3.88" fill="#f0e941"/>
<rect x="100.13" y="82.60" width="4.16" height="3.88" fill="#f0e73c"/>
<rect x="104.23" y="82.60" width="4.16" height="3.88" fill="#f59032"/>
<rect x="108.33" y="82.60" width="4.16" height="3.88" fill="#f6ca34"/>
<rect x="112.42" y="82.60" width="4.16" height="3.88" fill="#f7c533"/>
<rect x="116.52" y="82.60" width="4.16" height="3.88" fill="#f7c533"/>
<rect x="120.62" y="82.60" width="4.16" height="3.88" fill="#f0e940"/>
<rect x="124.71" y="82.60" width="4.16" height="3.88" fill="#f0e63c"/>
<rect x="128.81" y="82.60" width="4.16" height="3.88" fill="#f0e73c"/>
<rect x="132.91" y="82.60" width="4.16" height="3.88" fill="#f0e83d"/>
<rect x="137.00" y="82.60" width="4.16" height="3.88" fill="#f0e83e"/>
<rect x="141.10" y="82.60" width="4.16" height="3.88" fill="#f1e43b"/>
<rect x="145.20" y="82.60" width="4.16" height="3.88" fill="#f0e73c"/>
<rect x="5.90" y="86.42" width="4.16" height="3.88" fill="#f0e83e"/>
<rect x="10.00" y="86.42" width="4.16" height="3.88" fill="#f6c934"/>
<rect x="14.09" y="86.42" width="4.16" height="3.88" fill="#f1e948"/>
<rect x="18.19" y="86.42" width="4.16" height="3.88" fill="#f0e943"/>
<rect x="22.29" y="86.42" width="4.16" height="3.88" fill="#f0e83c"/>
<rect x="26.39" y="86.42" width="4.16" height="3.88" fill="#f1e947"/>
<rect x="30.48" y="86.42" width="4.16" height="3.88" fill="#f0e83f"/>
<rect x="34.58" y="86.42" width="4.16" height="3.88" fill="#f0e83f"/>
<rect x="38.68" y="86.42" width="4.16" height="3.88" fill="#f0e943"/>
<rect x="42.77" y="86.42" width="4.16" height="3.88" fill="#f0e942"/>
<rect x="46.87" y="86.42" width="4.16" height="3.88" fill="#f0e83d"/>
<rect x="50.97" y="86.42" width="4.16" height="3.88" fill="#f0e83d"/>
<rect x="55.06" y="86.42" width="4.16" height="3.88" fill="#f0e83e"/>
<rect x="59.16" y="86.42" width="4.16" height="3.88" fill="#f0e945"/>
<rect x="63.26" y="86.42" width="4.16" height="3.88" fill="#f0e942"/>
<rect x="67.36" y="86.42" width="4.16" height="3.88" fill="#f0e83f"/>
<rect x="71.45" y="86.42" width="4.16" height="3.88" fill="#ffffff"/>
<rect x="75.55" y="86.42" width="4.16" height="3.88" fill="#f2ed63"/>
<rect x="79.65" y="86.42" width="4.16" height="3.88" fill="#f58c32"/>
<rect x="83.74" y="86.42" width="4.16" height="3.88" fill="#f58932"/>
<rect x="87.84" y="86.42" width="4.16" height="3.88" fill="#f7b632"/>
<rect x="91.94" y="86.42" width="4.16" height="3.88" fill="#f8ba32"/>
<rect x="96.03" y="86.42" width="4.16" height="3.88" fill="#f7b432"/>
<rect x="100.13" y="86.42" width="4.16" height="3.88" fill="#f7b632"/>
<rect x="104.23" y="86.42" width="4.16" height="3.88" fill="#f58d32"/>
<rect x="108.33" y="86.42" width="4.16" height="3.88" fill="#f58a32"/>
<rect x="112.42" y="86.42" width="4.16" height="3.88" fill="#f58e32"/>
<rect x="116.52" y="86.42" width="4.16" height="3.88" fill="#f48932"/>
<rect x="120.62" y="86.42" width="4.16" height="3.88" fill="#f7aa32"/>
<rect x="124.71" y="86.42" width="4.16" height="3.88" fill="#f7aa32"/>
<rect x="128.81" y="86.42" width="4.16" height="3.88" fill="#f6a232"/>
<rect x="132.91" y="86.42" width="4.16" height="3.88" fill="#f7ab32"/>
<rect x="137.00" y="86.42" width="4.16" height="3.88" fill="#f6a532"/>
<rect x="141.10" y="86.42" width="4.16" height="3.88" fill="#f7a932"/>
<rect x="145.20" y="86.42" width="4.16" height="3.88" fill="#f7a932"/>
<rect x="5.90" y="90.24" width="4.16" height="3.88" fill="#f0e944"/>
<rect x="10.00" y="90.24" width="4.16" height="3.88" fill="#f1ea48"/>
<rect x="14.09" y="90.24" width="4.16" height="3.88" fill="#f1ea49"/>
<rect x="18.19" y="90.24" width="4.16" height="3.88" fill="#f0e943"/>
<rect x="22.29" y="90.24" width="4.16" height="3.88" fill="#f0e944"/>
<rect x="26.39" y="90.24" width="4.16" height="3.88" fill="#f0e945"/>
<rect x="30.48" y="90.24" width="4.16" height="3.88" fill="#f0e83d"/>
<rect x="34.58" y="90.24" width="4.16" height="3.88" fill="#f0e943"/>
<rect x="38.68" y="90.24" width="4.16" height="3.88" fill="#f0e940"/>
<rect x="42.77" y="90.24" width="4.16" height="3.88" fill="#f0e945"/>
<rect x="46.87" y="90.24" width="4.16" height="3.88" fill="#f0e944"/>
<rect x="50.97" y="90.24" width="4.16" height="3.88" fill="#f0e946"/>
<rect x="55.06" y="90.24" width="4.16" height="3.88" fill="#f0e945"/>
<rect x="59.16" y="90.24" width="4.16" height="3.88" fill="#f1ea49"/>
<rect x="63.26" y="90.24" width="4.16" height="3.88" fill="#f1e947"/>
<rect x="67.36" y="90.24" width="4.16" height="3.88" fill="#f0e83e"/>
<rect x="71.45" y="90.24" width="4.16" height="3.88" fill="#f2ed63"/>
<rect x="75.55" y="90.24" width="4.16" height="3.88" fill="#ffffff"/>
<rect x="79.65" y="90.24" width="4.16" height="3.88" fill="#f58a32"/>
<rect x="83.74" y="90.24" width="4.16" height="3.88" fill="#f58e32"/>
<rect x="87.84" y="90.24" width="4.16" height="3.88" fill="#f7c533"/>
<rect x="91.94" y="90.24" width="4.16" height="3.88" fill="#f7c634"/>
<rect x="96.03" y="90.24" width="4.16" height="3.88" fill="#f8c233"/>
<rect x="100.13" y="90.24" width="4.16" height="3.88" fill="#f7c634"/>
<rect x="104.23" y="90.24" width="4.16" height="3.88" fill="#f69632"/>
<rect x="108.33" y="90.24" width="4.16" height="3.88" fill="#f58e32"/>
<rect x="112.42" y="90.24" width="4.16" height="3.88" fill="#f58c32"/>
<rect x="116.52" y="90.24" width="4.16" height="3.88" fill="#f48932"/>
<rect x="120.62" y="90.24" width="4.16" height="3.88" fill="#e94735"/>
<rect x="124.71" y="90.24" width="4.16" height="3.88" fill="#f6a432"/>
<rect x="128.81" y="90.24" width="4.16" height="3.88" fill="#f7a832"/>
<rect x="132.91" y="90.24" width="4.16" height="3.88" fill="#f7a832"/>
<rect x="137.00" y="90.24" width="4.16" height="3.88" fill="#f7a732"/>
<rect x="141.10" y="90.24" width="4.16" height="3.88" fill="#f6a332"/>
<rect x="145.20" y="90.24" width="4.16" height="3.88" fill="#f7a832"/>
<rect x="5.90" y="94.06" width="4.16" height="3.88" fill="#f0e941"/>
<rect x="10.00" y="94.06" width="4.16" height="3.88" fill="#f0e83e"/>
<rect x="14.09" y="94.06" width="4.16" height="3.88" fill="#f7c433"/>
<rect x="18.19" y="94.06" width="4.16" height="3.88" fill="#f8c032"/>
<rect x="22.29" y="94.06" width="4.16" height="3.88" fill="#f0e83f"/>
<rect x="26.39" y="94.06" width="4.16" height="3.88" fill="#f0e940"/>
<rect x="30.48" y="94.06" width="4.16" height="3.88" fill="#f0e83d"/>
<rect x="34.58" y="94.06" width="4.16" height="3.88" fill="#f0e940"/>
<rect x="38.68" y="94.06" width="4.16" height="3.88" fill="#f0e73c"/>
<rect x="42.77" y="94.06" width="4.16" height="3.88" fill="#f0e83c"/>
<rect x="46.87" y="94.06" width="4.16" height="3.88" fill="#f1e43b"/>
<rect x="50.97" y="94.06" width="4.16" height="3.88" fill="#f0e942"/>
<rect x="55.06" y="94.06" width="4.16" height="3.88" fill="#f0e83f"/>
<rect x="59.16" y="94.06" width="4.16" height="3.88" fill="#f0e63c"/>
<rect x="63.26" y="94.06" width="4.16" height="3.88" fill="#f0e940"/>
<rect x="67.36" y="94.06" width="4.16" height="3.88" fill="#f0e83f"/>
<rect x="71.45" y="94.06" width="4.16" height="3.88" fill="#f58c32"/>
<rect x="75.55" y="94.06" width="4.16" height="3.88" fill="#f58a32"/>
<rect x="79.65" y="94.06" width="4.16" height="3.88" fill="#ffffff"/>
<rect x="83.74" y="94.06" width="4.16" height="3.88" fill="#f5f28e"/>
<rect x="87.84" y="94.06" width="4.16" height="3.88" fill="#f5f186"/>
<rect x="91.94" y="94.06" width="4.16" height="3.88" fill="#f6f292"/>
<rect x="96.03" y="94.06" width="4.16" height="3.88" fill="#f6f28e"/>
<rect x="100.13" y="94.06" width="4.16" height="3.88" fill="#f5f185"/>
<rect x="104.23" y="94.06" width="4.16" height="3.88" fill="#f69632"/>
<rect x="108.33" y="94.06" width="4.16" height="3.88" fill="#f7b732"/>
<rect x="112.42" y="94.06" width="4.16" height="3.88" fill="#f8b932"/>
<rect x="116.52" y="94.06" width="4.16" height="3.88" fill="#f8bd32"/>
<rect x="120.62" y="94.06" width="4.16" height="3.88" fill="#f0e944"/>
<rect x="124.71" y="94.06" width="4.16" height="3.88" fill="#f0e943"/>
<rect x="128.81" y="94.06" width="4.16" height="3.88" fill="#f0e945"/>
<rect x="132.91" y="94.06" width="4.16" height="3.88" fill="#f0e942"/>
<rect x="137.00" y="94.06" width="4.16" height="3.88" fill="#f0e940"/>
<rect x="141.10" y="94.06" width="4.16" height="3.88" fill="#f0e83e"/>
<rect x="145.20" y="94.06" width="4.16" height="3.88" fill="#f0e83d"/>
<rect x="5.90" y="97.88" width="4.16" height="3.88" fill="#f0e83c"/>
<rect x="10.00" y="97.88" width="4.16" height="3.88" fill="#f0e942"/>
<rect x="14.09" y="97.88" width="4.16" height="3.88" fill="#f6c834"/>
<rect x="18.19" y="97.88" width="4.16" height="3.88" fill="#f7c333"/>
<rect x="22.29" y="97.88" width="4.16" height="3.88" fill="#f0e63c"/>
<rect x="26.39" y="97.88" width="4.16" height="3.88" fill="#f0e73c"/>
<rect x="30.48" y="97.88" width="4.16" height="3.88" fill="#f0e63c"/>
<rect x="34.58" y="97.88" width="4.16" height="3.88" fill="#f1e53b"/>
<rect x="38.68" y="97.88" width="4.16" height="3.88" fill="#f4d337"/>
<rect x="42.77" y="97.88" width="4.16" height="3.88" fill="#f4d236"/>
<rect x="46.87" y="97.88" width="4.16" height="3.88" fill="#f1e53b"/>
<rect x="50.97" y="97.88" width="4.16" height="3.88" fill="#f1e43b"/>
<rect x="55.06" y="97.88" width="4.16" height="3.88" fill="#f0e83e"/>
<rect x="59.16" y="97.88" width="4.16" height="3.88" fill="#f0e83f"/>
<rect x="63.26" y="97.88" width="4.16" height="3.88" fill="#f0e83d"/>
<rect x="67.36" y="97.88" width="4.16" height="3.88" fill="#f0e941"/>
<rect x="71.45" y="97.88" width="4.16" height="3.88" fill="#f58932"/>
<rect x="75.55" y="97.88" width="4.16" height="3.88" fill="#f58e32"/>
<rect x="79.65" y="97.88" width="4.16" height="3.88" fill="#f5f28e"/>
<rect x="83.74" y="97.88" width="4.16" height="3.88" fill="#ffffff"/>
<rect x="87.84" y="97.88" width="4.16" height="3.88" fill="#f6f28f"/>
<rect x="91.94" y="97.88" width="4.16" height="3.88" fill="#f6f290"/>
<rect x="96.03" y="97.88" width="4.16" height="3.88" fill="#f5f28c"/>
<rect x="100.13" y="97.88" width="4.16" height="3.88" fill="#f6f290"/>
<rect x="104.23" y="97.88" width="4.16" height="3.88" fill="#f59032"/>
<rect x="108.33" y="97.88" width="4.16" height="3.88" fill="#f8b832"/>
<rect x="112.42" y="97.88" width="4.16" height="3.88" fill="#f8ba32"/>
<rect x="116.52" y="97.88" width="4.16" height="3.88" fill="#f8bf32"/>
<rect x="120.62" y="97.88" width="4.16" height="3.88" fill="#f0e83d"/>
<rect x="124.71" y="97.88" width="4.16" height="3.88" fill="#f0e943"/>
<rect x="128.81" y="97.88" width="4.16" height="3.88" fill="#f0e83f"/>
<rect x="132.91" y="97.88" width="4.16" height="3.88" fill="#f1e946"/>
<rect x="137.00" y="97.88" width="4.16" height="3.88" fill="#f0e941"/>
<rect x="141.10" y="97.88" width="4.16" height="3.88" fill="#f0e940"/>
<rect x="145.20" y="97.88" width="4.16" height="3.88" fill="#f0e941"/>
<rect x="5.90" y="101.70" width="4.16" height="3.88" fill="#f0e83f"/>
<rect x="10.00" y="101.70" width="4.16" height="3.88" fill="#f0e941"/>
<rect x="14.09" y="101.70" width="4.16" height="3.88" fill="#f0e63c"/>
<rect x="18.19" y="101.70" width="4.16" height="3.88" fill="#f2ed65"/>
<rect x="22.29" y="101.70" width="4.16" height="3.88" fill="#f2ed60"/>
<rect x="26.39" y="101.70" width="4.16" height="3.88" fill="#f2ec5f"/>
<rect x="30.48" y="101.70" width="4.16" height="3.88" fill="#f2ee69"/>
<rect x="34.58" y="101.70" width="4.16" height="3.88" fill="#f0e840"/>
<rect x="38.68" y="101.70" width="4.16" height="3.88" fill="#f0e83e"/>
<rect x="42.77" y="101.70" width="4.16" height="3.88" fill="#f0e83c"/>
<rect x="46.87" y="101.70" width="4.16" height="3.88" fill="#f0e840"/>
<rect x="50.97" y="101.70" width="4.16" height="3.88" fill="#f2ec5b"/>
<rect x="55.06" y="101.70" width="4.16" height="3.88" fill="#f2ec5e"/>
<rect x="59.16" y="101.70" width="4.16" height="3.88" fill="#f2ec5c"/>
<rect x="63.26" y="101.70" width="4.16" height="3.88" fill="#f2ec5d"/>
<rect x="67.36" y="101.70" width="4.16" height="3.88" fill="#f0e941"/>
<rect x="71.45" y="101.70" width="4.16" height="3.88" fill="#f7b632"/>
<rect x="75.55" y="101.70" width="4.16" height="3.88" fill="#f7c533"/>
<rect x="79.65" y="101.70" width="4.16" height="3.88" fill="#f5f186"/>
<rect x="83.74" y="101.70" width="4.16" height="3.88" fill="#f6f28f"/>
<rect x="87.84" y="101.70" width="4.16" height="3.88" fill="#ffffff"/>
<rect x="91.94" y="101.70" width="4.16" height="3.88" fill="#f5f28c"/>
<rect x="96.03" y="101.70" width="4.16" height="3.88" fill="#f6f290"/>
<rect x="100.13" y="101.70" width="4.16" height="3.88" fill="#f5f189"/>
<rect x="104.23" y="101.70" width="4.16" height="3.88" fill="#f69532"/>
<rect x="108.33" y="101.70" width="4.16" height="3.88" fill="#f7b732"/>
<rect x="112.42" y="101.70" width="4.16" height="3.88" fill="#f8b832"/>
<rect x="116.52" y="101.70" width="4.16" height="3.88" fill="#f7b732"/>
<rect x="120.62" y="101.70" width="4.16" height="3.88" fill="#f0e83e"/>
<rect x="124.71" y="101.70" width="4.16" height="3.88" fill="#f1e946"/>
<rect x="128.81" y="101.70" width="4.16" height="3.88" fill="#f0e946"/>
<rect x="132.91" y="101.70" width="4.16" height="3.88" fill="#f0e83e"/>
<rect x="137.00" y="101.70" width="4.16" height="3.88" fill="#f0e83f"/>
<rect x="141.10" y="101.70" width="4.16" height="3.88" fill="#f0e942"/>
<rect x="145.20" y="101.70" width="4.16" height="3.88" fill="#f0e946"/>
<rect x="5.90" y="105.52" width="4.16" height="3.88" fill="#f0e83e"/>
<rect x="10.00" y="105.52" width="4.16" height="3.88" fill="#f0e943"/>
<rect x="14.09" y="105.52" width="4.16" height="3.88" fill="#f1e53b"/>
<rect x="18.19" y="105.52" width="4.16" height="3.88" fill="#f2ec5e"/>
<rect x="22.29" y="105.52" width="4.16" height="3.88" fill="#f2ee69"/>
<rect x="26.39" y="105.52" width="4.16" height="3.88" fill="#f2ed61"/>
<rect x="30.48" y="105.52" width="4.16" height="3.88" fill="#f2ec5e"/>
<rect x="34.58" y="105.52" width="4.16" height="3.88" fill="#f0e942"/>
<rect x="38.68" y="105.52" width="4.16" height="3.88" fill="#f0e83d"/>
<rect x="42.77" y="105.52" width="4.16" height="3.88" fill="#f0e83f"/>
<rect x="46.87" y="105.52" width="4.16" height="3.88" fill="#f1e43b"/>
<rect x="50.97" y="105.52" width="4.16" height="3.88" fill="#f2ec5e"/>
<rect x="55.06" y="105.52" width="4.16" height="3.88" fill="#f2ec5d"/>
<rect x="59.16" y="105.52" width="4.16" height="3.88" fill="#f2ed62"/>
<rect x="63.26" y="105.52" width="4.16" height="3.88" fill="#f2ed60"/>
<rect x="67.36" y="105.52" width="4.16" height="3.88" fill="#f0e63c"/>
<rect x="71.45" y="105.52" width="4.16" height="3.88" fill="#f8ba32"/>
<rect x="75.55" y="105.52" width="4.16" height="3.88" fill="#f7c634"/>
<rect x="79.65" y="105.52" width="4.16" height="3.88" fill="#f6f292"/>
<rect x="83.74" y="105.52" width="4.16" height="3.88" fill="#f6f290"/>
<rect x="87.84" y="105.52" width="4.16" height="3.88" fill="#f5f28c"/>
<rect x="91.94" y="105.52" width="4.16" height="3.88" fill="#ffffff"/>
<rect x="96.03" y="105.52" width="4.16" height="3.88" fill="#f6f291"/>
<rect x="100.13" y="105.52" width="4.16" height="3.88" fill="#f6f290"/>
<rect x="104.23" y="105.52" width="4.16" height="3.88" fill="#f59232"/>
<rect x="108.33" y="105.52" width="4.16" height="3.88" fill="#f7b732"/>
<rect x="112.42" y="105.52" width="4.16" height="3.88" fill="#f8ba32"/>
<rect x="116.52" y="105.52" width="4.16" height="3.88" fill="#f8b832"/>
<rect x="120.62" y="105.52" width="4.16" height="3.88" fill="#f0e943"/>
<rect x="124.71" y="105.52" width="4.16" height="3.88" fill="#f0e944"/>
<rect x="128.81" y="105.52" width="4.16" height="3.88" fill="#f0e83f"/>
<rect x="132.91" y="105.52" width="4.16" height="3.88" fill="#f0e83f"/>
<rect x="137.00" y="105.52" width="4.16" height="3.88" fill="#f1e946"/>
<rect x="141.10" y="105.52" width="4.16" height="3.88" fill="#f0e83c"/>
<rect x="145.20" y="105.52" width="4.16" height="3.88" fill="#f1e947"/>
<rect x="5.90" y="109.34" width="4.16" height="3.88" fill="#f1e53b"/>
<rect x="10.00" y="109.34" width="4.16" height="3.88" fill="#f0e83e"/>
<rect x="14.09" y="109.34" width="4.16" height="3.88" fill="#f0e83d"/>
<rect x="18.19" y="109.34" width="4.16" height="3.88" fill="#f2ed66"/>
<rect x="22.29" y="109.34" width="4.16" height="3.88" fill="#f2ed61"/>
<rect x="26.39" y="109.34" width="4.16" height="3.88" fill="#f2ee69"/>
<rect x="30.48" y="109.34" width="4.16" height="3.88" fill="#f3ee6b"/>
<rect x="34.58" y="109.34" width="4.16" height="3.88" fill="#f0e940"/>
<rect x="38.68" y="109.34" width="4.16" height="3.88" fill="#f0e73c"/>
<rect x="42.77" y="109.34" width="4.16" height="3.88" fill="#f1e53b"/>
<rect x="46.87" y="109.34" width="4.16" height="3.88" fill="#f1e53b"/>
<rect x="50.97" y="109.34" width="4.16" height="3.88" fill="#f2ed62"/>
<rect x="55.06" y="109.34" width="4.16" height="3.88" fill="#f2ec5f"/>
<rect x="59.16" y="109.34" width="4.16" height="3.88" fill="#f2ec5e"/>
<rect x="63.26" y="109.34" width="4.16" height="3.88" fill="#f2ed62"/>
<rect x="67.36" y="109.34" width="4.16" height="3.88" fill="#f0e941"/>
<rect x="71.45" y="109.34" width="4.16" height="3.88" fill="#f7b432"/>
<rect x="75.55" y="109.34" width="4.16" height="3.88" fill="#f8c233"/>
<rect x="79.65" y="109.34" width="4.16" height="3.88" fill="#f6f28e"/>
<rect x="83.74" y="109.34" width="4.16" height="3.88" fill="#f5f28c"/>
<rect x="87.84" y="109.34" width="4.16" height="3.88" fill="#f6f290"/>
<rect x="91.94" y="109.34" width="4.16" height="3.88" fill="#f6f291"/>
<rect x="96.03" y="109.34" width="4.16" height="3.88" fill="#ffffff"/>
<rect x="100.13" y="109.34" width="4.16" height="3.88" fill="#f6f292"/>
<rect x="104.23" y="109.34" width="4.16" height="3.88" fill="#f69632"/>
<rect x="108.33" y="109.34" width="4.16" height="3.88" fill="#f8ba32"/>
<rect x="112.42" y="109.34" width="4.16" height="3.88" fill="#f8bb32"/>
<rect x="116.52" y="109.34" width="4.16" height="3.88" fill="#f8bc32"/>
<rect x="120.62" y="109.34" width="4.16" height="3.88" fill="#f0e944"/>
<rect x="124.71" y="109.34" width="4.16" height="3.88" fill="#f1ea49"/>
<rect x="128.81" y="109.34" width="4.16" height="3.88" fill="#f0e945"/>
<rect x="132.91" y="109.34" width="4.16" height="3.88" fill="#f0e840"/>
<rect x="137.00" y="109.34" width="4.16" height="3.88" fill="#f1e947"/>
<rect x="141.10" y="109.34" width="4.16" height="3.88" fill="#f0e942"/>
<rect x="145.20" y="109.34" width="4.16" height="3.88" fill="#f0e944"/>
<rect x="5.90" y="113.16" width="4.16" height="3.88" fill="#f0e83f"/>
<rect x="10.00" y="113.16" width="4.16" height="3.88" fill="#f1e53b"/>
<rect x="14.09" y="113.16" width="4.16" height="3.88" fill="#f1e43b"/>
<rect x="18.19" y="113.16" width="4.16" height="3.88" fill="#f0e83e"/>
<rect x="22.29" y="113.16" width="4.16" height="3.88" fill="#f1e53b"/>
<rect x="26.39" y="113.16" width="4.16" height="3.88" fill="#f0e63c"/>
<rect x="30.48" y="113.16" width="4.16" height="3.88" fill="#f0e83f"/>
<rect x="34.58" y="113.16" width="4.16" height="3.88" fill="#f0e940"/>
<rect x="38.68" y="113.16" width="4.16" height="3.88" fill="#f0e63b"/>
<rect x="42.77" y="113.16" width="4.16" height="3.88" fill="#f0e73c"/>
<rect x="46.87" y="113.16" width="4.16" height="3.88" fill="#f1e53b"/>
<rect x="50.97" y="113.16" width="4.16" height="3.88" fill="#f0e63b"/>
<rect x="55.06" y="113.16" width="4.16" height="3.88" fill="#f0e941"/>
<rect x="59.16" y="113.16" width="4.16" height="3.88" fill="#f0e63c"/>
<rect x="63.26" y="113.16" width="4.16" height="3.88" fill="#f0e73c"/>
<rect x="67.36" y="113.16" width="4.16" height="3.88" fill="#f0e73c"/>
<rect x="71.45" y="113.16" width="4.16" height="3.88" fill="#f7b632"/>
<rect x="75.55" y="113.16" width="4.16" height="3.88" fill="#f7c634"/>
<rect x="79.65" y="113.16" width="4.16" height="3.88" fill="#f5f185"/>
<rect x="83.74" y="113.16" width="4.16" height="3.88" fill="#f6f290"/>
<rect x="87.84" y="113.16" width="4.16" height="3.88" fill="#f5f189"/>
<rect x="91.94" y="113.16" width="4.16" height="3.88" fill="#f6f290"/>
<rect x="96.03" y="113.16" width="4.16" height="3.88" fill="#f6f292"/>
<rect x="100.13" y="113.16" width="4.16" height="3.88" fill="#ffffff"/>
<rect x="104.23" y="113.16" width="4.16" height="3.88" fill="#f59432"/>
<rect x="108.33" y="113.16" width="4.16" height="3.88" fill="#f7b632"/>
<rect x="112.42" y="113.16" width="4.16" height="3.88" fill="#f8be32"/>
<rect x="116.52" y="113.16" width="4.16" height="3.88" fill="#f8bc32"/>
<rect x="120.62" y="113.16" width="4.16" height="3.88" fill="#f0e943"/>
<rect x="124.71" y="113.16" width="4.16" height="3.88" fill="#f0e943"/>
<rect x="128.81" y="113.16" width="4.16" height="3.88" fill="#f0e942"/>
<rect x="132.91" y="113.16" width="4.16" height="3.88" fill="#f0e83f"/>
<rect x="137.00" y="113.16" width="4.16" height="3.88" fill="#f0e943"/>
<rect x="141.10" y="113.16" width="4.16" height="3.88" fill="#f0e83c"/>
<rect x="145.20" y="113.16" width="4.16" height="3.88" fill="#f0e943"/>
<rect x="5.90" y="116.98" width="4.16" height="3.88" fill="#f7b132"/>
<rect x="10.00" y="116.98" width="4.16" height="3.88" fill="#f7b432"/>
<rect x="14.09" y="116.98" width="4.16" height="3.88" fill="#f38032"/>
<rect x="18.19" y="116.98" width="4.16" height="3.88" fill="#f37f32"/>
<rect x="22.29" y="116.98" width="4.16" height="3.88" fill="#f48232"/>
<rect x="26.39" y="116.98" width="4.16" height="3.88" fill="#f38232"/>
<rect x="30.48" y="116.98" width="4.16" height="3.88" fill="#f48732"/>
<rect x="34.58" y="116.98" width="4.16" height="3.88" fill="#f37f32"/>
<rect x="38.68" y="116.98" width="4.16" height="3.88" fill="#f38132"/>
<rect x="42.77" y="116.98" width="4.16" height="3.88" fill="#f59032"/>
<rect x="46.87" y="116.98" width="4.16" height="3.88" fill="#f69532"/>
<rect x="50.97" y="116.98" width="4.16" height="3.88" fill="#f58e32"/>
<rect x="55.06" y="116.98" width="4.16" height="3.88" fill="#f58e32"/>
<rect x="59.16" y="116.98" width="4.16" height="3.88" fill="#f58e32"/>
<rect x="63.26" y="116.98" width="4.16" height="3.88" fill="#f59432"/>
<rect x="67.36" y="116.98" width="4.16" height="3.88" fill="#f59032"/>
<rect x="71.45" y="116.98" width="4.16" height="3.88" fill="#f58d32"/>
<rect x="75.55" y="116.98" width="4.16" height="3.88" fill="#f69632"/>
<rect x="79.65" y="116.98" width="4.16" height="3.88" fill="#f69632"/>
<rect x="83.74" y="116.98" width="4.16" height="3.88" fill="#f59032"/>
<rect x="87.84" y="116.98" width="4.16" height="3.88" fill="#f69532"/>
<rect x="91.94" y="116.98" width="4.16" height="3.88" fill="#f59232"/>
<rect x="96.03" y="116.98" width="4.16" height="3.88" fill="#f69632"/>
<rect x="100.13" y="116.98" width="4.16" height="3.88" fill="#f59432"/>
<rect x="104.23" y="116.98" width="4.16" height="3.88" fill="#ffffff"/>
<rect x="108.33" y="116.98" width="4.16" height="3.88" fill="#f2ed67"/>
<rect x="112.42" y="116.98" width="4.16" height="3.88" fill="#f2ed63"/>
<rect x="116.52" y="116.98" width="4.16" height="3.88" fill="#f2ed65"/>
<rect x="120.62" y="116.98" width="4.16" height="3.88" fill="#f69632"/>
<rect x="124.71" y="116.98" width="4.16" height="3.88" fill="#f69532"/>
<rect x="128.81" y="116.98" width="4.16" height="3.88" fill="#f58d32"/>
<rect x="132.91" y="116.98" width="4.16" height="3.88" fill="#f59432"/>
<rect x="137.00" y="116.98" width="4.16" height="3.88" fill="#f59232"/>
<rect x="141.10" y="116.98" width="4.16" height="3.88" fill="#f58d32"/>
<rect x="145.20" y="116.98" width="4.16" height="3.88" fill="#f59032"/>
<rect x="5.90" y="120.80" width="4.16" height="3.88" fill="#f3da39"/>
<rect x="10.00" y="120.80" width="4.16" height="3.88" fill="#f2e03a"/>
<rect x="14.09" y="120.80" width="4.16" height="3.88" fill="#f69b32"/>
<rect x="18.19" y="120.80" width="4.16" height="3.88" fill="#f69d32"/>
<rect x="22.29" y="120.80" width="4.16" height="3.88" fill="#f7ab32"/>
<rect x="26.39" y="120.80" width="4.16" height="3.88" fill="#f7a832"/>
<rect x="30.48" y="120.80" width="4.16" height="3.88" fill="#f8bf32"/>
<rect x="34.58" y="120.80" width="4.16" height="3.88" fill="#f8bc32"/>
<rect x="38.68" y="120.80" width="4.16" height="3.88" fill="#f7b732"/>
<rect x="42.77" y="120.80" width="4.16" height="3.88" fill="#f6cb35"/>
<rect x="46.87" y="120.80" width="4.16" height="3.88" fill="#f7c533"/>
<rect x="50.97" y="120.80" width="4.16" height="3.88" fill="#f7c633"/>
<rect x="55.06" y="120.80" width="4.16" height="3.88" fill="#f7c533"/>
<rect x="59.16" y="120.80" width="4.16" height="3.88" fill="#f7c433"/>
<rect x="63.26" y="120.80" width="4.16" height="3.88" fill="#f6cc35"/>
<rect x="67.36" y="120.80" width="4.16" height="3.88" fill="#f6ca34"/>
<rect x="71.45" y="120.80" width="4.16" height="3.88" fill="#f58a32"/>
<rect x="75.55" y="120.80" width="4.16" height="3.88" fill="#f58e32"/>
<rect x="79.65" y="120.80" width="4.16" height="3.88" fill="#f7b732"/>
<rect x="83.74" y="120.80" width="4.16" height="3.88" fill="#f8b832"/>
<rect x="87.84" y="120.80" width="4.16" height="3.88" fill="#f7b732"/>
<rect x="91.94" y="120.80" width="4.16" height="3.88" fill="#f7b732"/>
<rect x="96.03" y="120.80" width="4.16" height="3.88" fill="#f8ba32"/>
<rect x="100.13" y="120.80" width="4.16" height="3.88" fill="#f7b632"/>
<rect x="104.23" y="120.80" width="4.16" height="3.88" fill="#f2ed67"/>
<rect x="108.33" y="120.80" width="4.16" height="3.88" fill="#ffffff"/>
<rect x="112.42" y="120.80" width="4.16" height="3.88" fill="#f4f082"/>
<rect x="116.52" y="120.80" width="4.16" height="3.88" fill="#f4f07f"/>
<rect x="120.62" y="120.80" width="4.16" height="3.88" fill="#f7b632"/>
<rect x="124.71" y="120.80" width="4.16" height="3.88" fill="#f8ba32"/>
<rect x="128.81" y="120.80" width="4.16" height="3.88" fill="#f3db39"/>
<rect x="132.91" y="120.80" width="4.16" height="3.88" fill="#f2df3a"/>
<rect x="137.00" y="120.80" width="4.16" height="3.88" fill="#f2de39"/>
<rect x="141.10" y="120.80" width="4.16" height="3.88" fill="#f3d938"/>
<rect x="145.20" y="120.80" width="4.16" height="3.88" fill="#f2df3a"/>
<rect x="5.90" y="124.62" width="4.16" height="3.88" fill="#f3d838"/>
<rect x="10.00" y="124.62" width="4.16" height="3.88" fill="#f2df3a"/>
<rect x="14.09" y="124.62" width="4.16" height="3.88" fill="#f69d32"/>
<rect x="18.19" y="124.62" width="4.16" height="3.88" fill="#f69b32"/>
<rect x="22.29" y="124.62" width="4.16" height="3.88" fill="#f6a532"/>
<rect x="26.39" y="124.62" width="4.16" height="3.88" fill="#f7a832"/>
<rect x="30.48" y="124.62" width="4.16" height="3.88" fill="#f8bf32"/>
<rect x="34.58" y="124.62" width="4.16" height="3.88" fill="#f8bf32"/>
<rect x="38.68" y="124.62" width="4.16" height="3.88" fill="#f8bb32"/>
<rect x="42.77" y="124.62" width="4.16" height="3.88" fill="#f6cb35"/>
<rect x="46.87" y="124.62" width="4.16" height="3.88" fill="#f7c433"/>
<rect x="50.97" y="124.62" width="4.16" height="3.88" fill="#f6c934"/>
<rect x="55.06" y="124.62" width="4.16" height="3.88" fill="#f6ca34"/>
<rect x="59.16" y="124.62" width="4.16" height="3.88" fill="#f6c834"/>
<rect x="63.26" y="124.62" width="4.16" height="3.88" fill="#f6c834"/>
<rect x="67.36" y="124.62" width="4.16" height="3.88" fill="#f7c533"/>
<rect x="71.45" y="124.62" width="4.16" height="3.88" fill="#f58e32"/>
<rect x="75.55" y="124.62" width="4.16" height="3.88" fill="#f58c32"/>
<rect x="79.65" y="124.62" width="4.16" height="3.88" fill="#f8b932"/>
<rect x="83.74" y="124.62" width="4.16" height="3.88" fill="#f8ba32"/>
<rect x="87.84" y="124.62" width="4.16" height="3.88" fill="#f8b832"/>
<rect x="91.94" y="124.62" width="4.16" height="3.88" fill="#f8ba32"/>
<rect x="96.03" y="124.62" width="4.16" height="3.88" fill="#f8bb32"/>
<rect x="100.13" y="124.62" width="4.16" height="3.88" fill="#f8be32"/>
<rect x="104.23" y="124.62" width="4.16" height="3.88" fill="#f2ed63"/>
<rect x="108.33" y="124.62" width="4.16" height="3.88" fill="#f4f082"/>
<rect x="112.42" y="124.62" width="4.16" height="3.88" fill="#ffffff"/>
<rect x="116.52" y="124.62" width="4.16" height="3.88" fill="#f5f188"/>
<rect x="120.62" y="124.62" width="4.16" height="3.88" fill="#f8ba32"/>
<rect x="124.71" y="124.62" width="4.16" height="3.88" fill="#f8b832"/>
<rect x="128.81" y="124.62" width="4.16" height="3.88" fill="#f6ca34"/>
<rect x="132.91" y="124.62" width="4.16" height="3.88" fill="#f7c734"/>
<rect x="137.00" y="124.62" width="4.16" height="3.88" fill="#f6ca35"/>
<rect x="141.10" y="124.62" width="4.16" height="3.88" fill="#f6cb35"/>
<rect x="145.20" y="124.62" width="4.16" height="3.88" fill="#f6cb35"/>
<rect x="5.90" y="128.44" width="4.16" height="3.88" fill="#f2df3a"/>
<rect x="10.00" y="128.44" width="4.16" height="3.88" fill="#f2dd39"/>
<rect x="14.09" y="128.44" width="4.16" height="3.88" fill="#f69832"/>
<rect x="18.19" y="128.44" width="4.16" height="3.88" fill="#f69d32"/>
<rect x="22.29" y="128.44" width="4.16" height="3.88" fill="#f7a732"/>
<rect x="26.39" y="128.44" width="4.16" height="3.88" fill="#f7a832"/>
<rect x="30.48" y="128.44" width="4.16" height="3.88" fill="#f8bc32"/>
<rect x="34.58" y="128.44" width="4.16" height="3.88" fill="#f7b632"/>
<rect x="38.68" y="128.44" width="4.16" height="3.88" fill="#f8bd32"/>
<rect x="42.77" y="128.44" width="4.16" height="3.88" fill="#f7c734"/>
<rect x="46.87" y="128.44" width="4.16" height="3.88" fill="#f6cb35"/>
<rect x="50.97" y="128.44" width="4.16" height="3.88" fill="#f6ca35"/>
<rect x="55.06" y="128.44" width="4.16" height="3.88" fill="#f6cb35"/>
<rect x="59.16" y="128.44" width="4.16" height="3.88" fill="#f7c734"/>
<rect x="63.26" y="128.44" width="4.16" height="3.88" fill="#f7c633"/>
<rect x="67.36" y="128.44" width="4.16" height="3.88" fill="#f7c533"/>
<rect x="71.45" y="128.44" width="4.16" height="3.88" fill="#f48932"/>
<rect x="75.55" y="128.44" width="4.16" height="3.88" fill="#f48932"/>
<rect x="79.65" y="128.44" width="4.16" height="3.88" fill="#f8bd32"/>
<rect x="83.74" y="128.44" width="4.16" height="3.88" fill="#f8bf32"/>
<rect x="87.84" y="128.44" width="4.16" height="3.88" fill="#f7b732"/>
<rect x="91.94" y="128.44" width="4.16" height="3.88" fill="#f8b832"/>
<rect x="96.03" y="128.44" width="4.16" height="3.88" fill="#f8bc32"/>
<rect x="100.13" y="128.44" width="4.16" height="3.88" fill="#f8bc32"/>
<rect x="104.23" y="128.44" width="4.16" height="3.88" fill="#f2ed65"/>
<rect x="108.33" y="128.44" width="4.16" height="3.88" fill="#f4f07f"/>
<rect x="112.42" y="128.44" width="4.16" height="3.88" fill="#f5f188"/>
<rect x="116.52" y="128.44" width="4.16" height="3.88" fill="#ffffff"/>
<rect x="120.62" y="128.44" width="4.16" height="3.88" fill="#f7c734"/>
<rect x="124.71" y="128.44" width="4.16" height="3.88" fill="#f6ca35"/>
<rect x="128.81" y="128.44" width="4.16" height="3.88" fill="#f6c834"/>
<rect x="132.91" y="128.44" width="4.16" height="3.88" fill="#f7c533"/>
<rect x="137.00" y="128.44" width="4.16" height="3.88" fill="#f7c433"/>
<rect x="141.10" y="128.44" width="4.16" height="3.88" fill="#f7c533"/>
<rect x="145.20" y="128.44" width="4.16" height="3.88" fill="#f7c633"/>
<rect x="5.90" y="132.26" width="4.16" height="3.88" fill="#f2ec5d"/>
<rect x="10.00" y="132.26" width="4.16" height="3.88" fill="#f2ed60"/>
<rect x="14.09" y="132.26" width="4.16" height="3.88" fill="#f6c834"/>
<rect x="18.19" y="132.26" width="4.16" height="3.88" fill="#f6cb35"/>
<rect x="22.29" y="132.26" width="4.16" height="3.88" fill="#f0e73c"/>
<rect x="26.39" y="132.26" width="4.16" height="3.88" fill="#f0e942"/>
<rect x="30.48" y="132.26" width="4.16" height="3.88" fill="#f1e43b"/>
<rect x="34.58" y="132.26" width="4.16" height="3.88" fill="#f0e63c"/>
<rect x="38.68" y="132.26" width="4.16" height="3.88" fill="#f4d337"/>
<rect x="42.77" y="132.26" width="4.16" height="3.88" fill="#f0e941"/>
<rect x="46.87" y="132.26" width="4.16" height="3.88" fill="#f1e53b"/>
<rect x="50.97" y="132.26" width="4.16" height="3.88" fill="#f0e73c"/>
<rect x="55.06" y="132.26" width="4.16" height="3.88" fill="#f0e83c"/>
<rect x="59.16" y="132.26" width="4.16" height="3.88" fill="#f1e53b"/>
<rect x="63.26" y="132.26" width="4.16" height="3.88" fill="#f0e63b"/>
<rect x="67.36" y="132.26" width="4.16" height="3.88" fill="#f0e940"/>
<rect x="71.45" y="132.26" width="4.16" height="3.88" fill="#f7aa32"/>
<rect x="75.55" y="132.26" width="4.16" height="3.88" fill="#e94735"/>
<rect x="79.65" y="132.26" width="4.16" height="3.88" fill="#f0e944"/>
<rect x="83.74" y="132.26" width="4.16" height="3.88" fill="#f0e83d"/>
<rect x="87.84" y="132.26" width="4.16" height="3.88" fill="#f0e83e"/>
<rect x="91.94" y="132.26" width="4.16" height="3.88" fill="#f0e943"/>
<rect x="96.03" y="132.26" width="4.16" height="3.88" fill="#f0e944"/>
<rect x="100.13" y="132.26" width="4.16" height="3.88" fill="#f0e943"/>
<rect x="104.23" y="132.26" width="4.16" height="3.88" fill="#f69632"/>
<rect x="108.33" y="132.26" width="4.16" height="3.88" fill="#f7b632"/>
<rect x="112.42" y="132.26" width="4.16" height="3.88" fill="#f8ba32"/>
<rect x="116.52" y="132.26" width="4.16" height="3.88" fill="#f7c734"/>
<rect x="120.62" y="132.26" width="4.16" height="3.88" fill="#ffffff"/>
<rect x="124.71" y="132.26" width="4.16" height="3.88" fill="#f5f186"/>
<rect x="128.81" y="132.26" width="4.16" height="3.88" fill="#f2ec5d"/>
<rect x="132.91" y="132.26" width="4.16" height="3.88" fill="#f2ec60"/>
<rect x="137.00" y="132.26" width="4.16" height="3.88" fill="#f2ec5e"/>
<rect x="141.10" y="132.26" width="4.16" height="3.88" fill="#f2ec5c"/>
<rect x="145.20" y="132.26" width="4.16" height="3.88" fill="#f2ec5f"/>
<rect x="5.90" y="136.08" width="4.16" height="3.88" fill="#f2ed60"/>
<rect x="10.00" y="136.08" width="4.16" height="3.88" fill="#f1ec59"/>
<rect x="14.09" y="136.08" width="4.16" height="3.88" fill="#f5cf36"/>
<rect x="18.19" y="136.08" width="4.16" height="3.88" fill="#f5ce35"/>
<rect x="22.29" y="136.08" width="4.16" height="3.88" fill="#f0e940"/>
<rect x="26.39" y="136.08" width="4.16" height="3.88" fill="#f1e53b"/>
<rect x="30.48" y="136.08" width="4.16" height="3.88" fill="#f0e83f"/>
<rect x="34.58" y="136.08" width="4.16" height="3.88" fill="#f0e63c"/>
<rect x="38.68" y="136.08" width="4.16" height="3.88" fill="#f5d136"/>
<rect x="42.77" y="136.08" width="4.16" height="3.88" fill="#f0e840"/>
<rect x="46.87" y="136.08" width="4.16" height="3.88" fill="#f0e941"/>
<rect x="50.97" y="136.08" width="4.16" height="3.88" fill="#f0e73c"/>
<rect x="55.06" y="136.08" width="4.16" height="3.88" fill="#f0e83c"/>
<rect x="59.16" y="136.08" width="4.16" height="3.88" fill="#f0e73c"/>
<rect x="63.26" y="136.08" width="4.16" height="3.88" fill="#f0e83f"/>
<rect x="67.36" y="136.08" width="4.16" height="3.88" fill="#f0e63c"/>
<rect x="71.45" y="136.08" width="4.16" height="3.88" fill="#f7aa32"/>
<rect x="75.55" y="136.08" width="4.16" height="3.88" fill="#f6a432"/>
<rect x="79.65" y="136.08" width="4.16" height="3.88" fill="#f0e943"/>
<rect x="83.74" y="136.08" width="4.16" height="3.88" fill="#f0e943"/>
<rect x="87.84" y="136.08" width="4.16" height="3.88" fill="#f1e946"/>
<rect x="91.94" y="136.08" width="4.16" height="3.88" fill="#f0e944"/>
<rect x="96.03" y="136.08" width="4.16" height="3.88" fill="#f1ea49"/>
<rect x="100.13" y="136.08" width="4.16" height="3.88" fill="#f0e943"/>
<rect x="104.23" y="136.08" width="4.16" height="3.88" fill="#f69532"/>
<rect x="108.33" y="136.08" width="4.16" height="3.88" fill="#f8ba32"/>
<rect x="112.42" y="136.08" width="4.16" height="3.88" fill="#f8b832"/>
<rect x="116.52" y="136.08" width="4.16" height="3.88" fill="#f6ca35"/>
<rect x="120.62" y="136.08" width="4.16" height="3.88" fill="#f5f186"/>
<rect x="124.71" y="136.08" width="4.16" height="3.88" fill="#ffffff"/>
<rect x="128.81" y="136.08" width="4.16" height="3.88" fill="#f2ec5b"/>
<rect x="132.91" y="136.08" width="4.16" height="3.88" fill="#f2ec5d"/>
<rect x="137.00" y="136.08" width="4.16" height="3.88" fill="#f2ed61"/>
<rect x="141.10" y="136.08" width="4.16" height="3.88" fill="#f2ec5c"/>
<rect x="145.20" y="136.08" width="4.16" height="3.88" fill="#f1ec59"/>
<rect x="5.90" y="139.90" width="4.16" height="3.88" fill="#f2ed62"/>
<rect x="10.00" y="139.90" width="4.16" height="3.88" fill="#f2ed62"/>
<rect x="14.09" y="139.90" width="4.16" height="3.88" fill="#f6cb35"/>
<rect x="18.19" y="139.90" width="4.16" height="3.88" fill="#f5ce35"/>
<rect x="22.29" y="139.90" width="4.16" height="3.88" fill="#f0e83c"/>
<rect x="26.39" y="139.90" width="4.16" height="3.88" fill="#f1e43b"/>
<rect x="30.48" y="139.90" width="4.16" height="3.88" fill="#f1e53b"/>
<rect x="34.58" y="139.90" width="4.16" height="3.88" fill="#f0e83c"/>
<rect x="38.68" y="139.90" width="4.16" height="3.88" fill="#f5d136"/>
<rect x="42.77" y="139.90" width="4.16" height="3.88" fill="#f0e63c"/>
<rect x="46.87" y="139.90" width="4.16" height="3.88" fill="#f0e83e"/>
<rect x="50.97" y="139.90" width="4.16" height="3.88" fill="#f0e73c"/>
<rect x="55.06" y="139.90" width="4.16" height="3.88" fill="#f0e83f"/>
<rect x="59.16" y="139.90" width="4.16" height="3.88" fill="#f0e73c"/>
<rect x="63.26" y="139.90" width="4.16" height="3.88" fill="#f0e83e"/>
<rect x="67.36" y="139.90" width="4.16" height="3.88" fill="#f0e73c"/>
<rect x="71.45" y="139.90" width="4.16" height="3.88" fill="#f6a232"/>
<rect x="75.55" y="139.90" width="4.16" height="3.88" fill="#f7a832"/>
<rect x="79.65" y="139.90" width="4.16" height="3.88" fill="#f0e945"/>
<rect x="83.74" y="139.90" width="4.16" height="3.88" fill="#f0e83f"/>
<rect x="87.84" y="139.90" width="4.16" height="3.88" fill="#f0e946"/>
<rect x="91.94" y="139.90" width="4.16" height="3.88" fill="#f0e83f"/>
<rect x="96.03" y="139.90" width="4.16" height="3.88" fill="#f0e945"/>
<rect x="100.13" y="139.90" width="4.16" height="3.88" fill="#f0e942"/>
<rect x="104.23" y="139.90" width="4.16" height="3.88" fill="#f58d32"/>
<rect x="108.33" y="139.90" width="4.16" height="3.88" fill="#f3db39"/>
<rect x="112.42" y="139.90" width="4.16" height="3.88" fill="#f6ca34"/>
<rect x="116.52" y="139.90" width="4.16" height="3.88" fill="#f6c834"/>
<rect x="120.62" y="139.90" width="4.16" height="3.88" fill="#f2ec5d"/>
<rect x="124.71" y="139.90" width="4.16" height="3.88" fill="#f2ec5b"/>
<rect x="128.81" y="139.90" width="4.16" height="3.88" fill="#ffffff"/>
<rect x="132.91" y="139.90" width="4.16" height="3.88" fill="#f6f292"/>
<rect x="137.00" y="139.90" width="4.16" height="3.88" fill="#f6f28f"/>
<rect x="141.10" y="139.90" width="4.16" height="3.88" fill="#f5f189"/>
<rect x="145.20" y="139.90" width="4.16" height="3.88" fill="#f5f189"/>
<rect x="5.90" y="143.72" width="4.16" height="3.88" fill="#f6f293"/>
<rect x="10.00" y="143.72" width="4.16" height="3.88" fill="#f6f290"/>
<rect x="14.09" y="143.72" width="4.16" height="3.88" fill="#f5d036"/>
<rect x="18.19" y="143.72" width="4.16" height="3.88" fill="#f6c834"/>
<rect x="22.29" y="143.72" width="4.16" height="3.88" fill="#f0e941"/>
<rect x="26.39" y="143.72" width="4.16" height="3.88" fill="#f0e942"/>
<rect x="30.48" y="143.72" width="4.16" height="3.88" fill="#f0e63c"/>
<rect x="34.58" y="143.72" width="4.16" height="3.88" fill="#f0e73c"/>
<rect x="38.68" y="143.72" width="4.16" height="3.88" fill="#f4d337"/>
<rect x="42.77" y="143.72" width="4.16" height="3.88" fill="#f0e83c"/>
<rect x="46.87" y="143.72" width="4.16" height="3.88" fill="#f0e940"/>
<rect x="50.97" y="143.72" width="4.16" height="3.88" fill="#f0e73c"/>
<rect x="55.06" y="143.72" width="4.16" height="3.88" fill="#f1e53b"/>
<rect x="59.16" y="143.72" width="4.16" height="3.88" fill="#f0e840"/>
<rect x="63.26" y="143.72" width="4.16" height="3.88" fill="#f0e942"/>
<rect x="67.36" y="143.72" width="4.16" height="3.88" fill="#f0e83d"/>
<rect x="71.45" y="143.72" width="4.16" height="3.88" fill="#f7ab32"/>
<rect x="75.55" y="143.72" width="4.16" height="3.88" fill="#f7a832"/>
<rect x="79.65" y="143.72" width="4.16" height="3.88" fill="#f0e942"/>
<rect x="83.74" y="143.72" width="4.16" height="3.88" fill="#f1e946"/>
<rect x="87.84" y="143.72" width="4.16" height="3.88" fill="#f0e83e"/>
<rect x="91.94" y="143.72" width="4.16" height="3.88" fill="#f0e83f"/>
<rect x="96.03" y="143.72" width="4.16" height="3.88" fill="#f0e840"/>
<rect x="100.13" y="143.72" width="4.16" height="3.88" fill="#f0e83f"/>
<rect x="104.23" y="143.72" width="4.16" height="3.88" fill="#f59432"/>
<rect x="108.33" y="143.72" width="4.16" height="3.88" fill="#f2df3a"/>
<rect x="112.42" y="143.72" width="4.16" height="3.88" fill="#f7c734"/>
<rect x="116.52" y="143.72" width="4.16" height="3.88" fill="#f7c533"/>
<rect x="120.62" y="143.72" width="4.16" height="3.88" fill="#f2ec60"/>
<rect x="124.71" y="143.72" width="4.16" height="3.88" fill="#f2ec5d"/>
<rect x="128.81" y="143.72" width="4.16" height="3.88" fill="#f6f292"/>
<rect x="132.91" y="143.72" width="4.16" height="3.88" fill="#ffffff"/>
<rect x="137.00" y="143.72" width="4.16" height="3.88" fill="#f5f28c"/>
<rect x="141.10" y="143.72" width="4.16" height="3.88" fill="#f5f28d"/>
<rect x="145.20" y="143.72" width="4.16" height="3.88" fill="#f5f187"/>
<rect x="5.90" y="147.54" width="4.16" height="3.88" fill="#f6f396"/>
<rect x="10.00" y="147.54" width="4.16" height="3.88" fill="#f5f28b"/>
<rect x="14.09" y="147.54" width="4.16" height="3.88" fill="#f5cf36"/>
<rect x="18.19" y="147.54" width="4.16" height="3.88" fill="#f6c834"/>
<rect x="22.29" y="147.54" width="4.16" height="3.88" fill="#f1e53b"/>
<rect x="26.39" y="147.54" width="4.16" height="3.88" fill="#f0e941"/>
<rect x="30.48" y="147.54" width="4.16" height="3.88" fill="#f0e83e"/>
<rect x="34.58" y="147.54" width="4.16" height="3.88" fill="#f0e83c"/>
<rect x="38.68" y="147.54" width="4.16" height="3.88" fill="#f4d537"/>
<rect x="42.77" y="147.54" width="4.16" height="3.88" fill="#f1e53b"/>
<rect x="46.87" y="147.54" width="4.16" height="3.88" fill="#f0e942"/>
<rect x="50.97" y="147.54" width="4.16" height="3.88" fill="#f0e73c"/>
<rect x="55.06" y="147.54" width="4.16" height="3.88" fill="#f0e63c"/>
<rect x="59.16" y="147.54" width="4.16" height="3.88" fill="#f1e53b"/>
<rect x="63.26" y="147.54" width="4.16" height="3.88" fill="#f0e941"/>
<rect x="67.36" y="147.54" width="4.16" height="3.88" fill="#f0e83e"/>
<rect x="71.45" y="147.54" width="4.16" height="3.88" fill="#f6a532"/>
<rect x="75.55" y="147.54" width="4.16" height="3.88" fill="#f7a732"/>
<rect x="79.65" y="147.54" width="4.16" height="3.88" fill="#f0e940"/>
<rect x="83.74" y="147.54" width="4.16" height="3.88" fill="#f0e941"/>
<rect x="87.84" y="147.54" width="4.16" height="3.88" fill="#f0e83f"/>
<rect x="91.94" y="147.54" width="4.16" height="3.88" fill="#f1e946"/>
<rect x="96.03" y="147.54" width="4.16" height="3.88" fill="#f1e947"/>
<rect x="100.13" y="147.54" width="4.16" height="3.88" fill="#f0e943"/>
<rect x="104.23" y="147.54" width="4.16" height="3.88" fill="#f59232"/>
<rect x="108.33" y="147.54" width="4.16" height="3.88" fill="#f2de39"/>
<rect x="112.42" y="147.54" width="4.16" height="3.88" fill="#f6ca35"/>
<rect x="116.52" y="147.54" width="4.16" height="3.88" fill="#f7c433"/>
<rect x="120.62" y="147.54" width="4.16" height="3.88" fill="#f2ec5e"/>
<rect x="124.71" y="147.54" width="4.16" height="3.88" fill="#f2ed61"/>
<rect x="128.81" y="147.54" width="4.16" height="3.88" fill="#f6f28f"/>
<rect x="132.91" y="147.54" width="4.16" height="3.88" fill="#f5f28c"/>
<rect x="137.00" y="147.54" width="4.16" height="3.88" fill="#ffffff"/>
<rect x="141.10" y="147.54" width="4.16" height="3.88" fill="#f5f183"/>
<rect x="145.20" y="147.54" width="4.16" height="3.88" fill="#f5f186"/>
<rect x="5.90" y="151.36" width="4.16" height="3.88" fill="#f5f28d"/>
<rect x="10.00" y="151.36" width="4.16" height="3.88" fill="#f5f187"/>
<rect x="14.09" y="151.36" width="4.16" height="3.88" fill="#f6cb35"/>
<rect x="18.19" y="151.36" width="4.16" height="3.88" fill="#f5cd35"/>
<rect x="22.29" y="151.36" width="4.16" height="3.88" fill="#f0e73c"/>
<rect x="26.39" y="151.36" width="4.16" height="3.88" fill="#f0e942"/>
<rect x="30.48" y="151.36" width="4.16" height="3.88" fill="#f0e83c"/>
<rect x="34.58" y="151.36" width="4.16" height="3.88" fill="#f0e840"/>
<rect x="38.68" y="151.36" width="4.16" height="3.88" fill="#f4d638"/>
<rect x="42.77" y="151.36" width="4.16" height="3.88" fill="#f0e940"/>
<rect x="46.87" y="151.36" width="4.16" height="3.88" fill="#f0e83d"/>
<rect x="50.97" y="151.36" width="4.16" height="3.88" fill="#f1e53b"/>
<rect x="55.06" y="151.36" width="4.16" height="3.88" fill="#f0e63b"/>
<rect x="59.16" y="151.36" width="4.16" height="3.88" fill="#f0e943"/>
<rect x="63.26" y="151.36" width="4.16" height="3.88" fill="#f0e63b"/>
<rect x="67.36" y="151.36" width="4.16" height="3.88" fill="#f1e43b"/>
<rect x="71.45" y="151.36" width="4.16" height="3.88" fill="#f7a932"/>
<rect x="75.55" y="151.36" width="4.16" height="3.88" fill="#f6a332"/>
<rect x="79.65" y="151.36" width="4.16" height="3.88" fill="#f0e83e"/>
<rect x="83.74" y="151.36" width="4.16" height="3.88" fill="#f0e940"/>
<rect x="87.84" y="151.36" width="4.16" height="3.88" fill="#f0e942"/>
<rect x="91.94" y="151.36" width="4.16" height="3.88" fill="#f0e83c"/>
<rect x="96.03" y="151.36" width="4.16" height="3.88" fill="#f0e942"/>
<rect x="100.13" y="151.36" width="4.16" height="3.88" fill="#f0e83c"/>
<rect x="104.23" y="151.36" width="4.16" height="3.88" fill="#f58d32"/>
<rect x="108.33" y="151.36" width="4.16" height="3.88" fill="#f3d938"/>
<rect x="112.42" y="151.36" width="4.16" height="3.88" fill="#f6cb35"/>
<rect x="116.52" y="151.36" width="4.16" height="3.88" fill="#f7c533"/>
<rect x="120.62" y="151.36" width="4.16" height="3.88" fill="#f2ec5c"/>
<rect x="124.71" y="151.36" width="4.16" height="3.88" fill="#f2ec5c"/>
<rect x="128.81" y="151.36" width="4.16" height="3.88" fill="#f5f189"/>
<rect x="132.91" y="151.36" width="4.16" height="3.88" fill="#f5f28d"/>
<rect x="137.00" y="151.36" width="4.16" height="3.88" fill="#f5f183"/>
<rect x="141.10" y="151.36" width="4.16" height="3.88" fill="#ffffff"/>
<rect x="145.20" y="151.36" width="4.16" height="3.88" fill="#f6f290"/>
<rect x="5.90" y="155.18" width="4.16" height="3.88" fill="#f6f394"/>
<rect x="10.00" y="155.18" width="4.16" height="3.88" fill="#f6f395"/>
<rect x="14.09" y="155.18" width="4.16" height="3.88" fill="#f6cc35"/>
<rect x="18.19" y="155.18" width="4.16" height="3.88" fill="#f5d036"/>
<rect x="22.29" y="155.18" width="4.16" height="3.88" fill="#f0e83e"/>
<rect x="26.39" y="155.18" width="4.16" height="3.88" fill="#f0e73c"/>
<rect x="30.48" y="155.18" width="4.16" height="3.88" fill="#f0e73c"/>
<rect x="34.58" y="155.18" width="4.16" height="3.88" fill="#f1e43b"/>
<rect x="38.68" y="155.18" width="4.16" height="3.88" fill="#f4d337"/>
<rect x="42.77" y="155.18" width="4.16" height="3.88" fill="#f0e83e"/>
<rect x="46.87" y="155.18" width="4.16" height="3.88" fill="#f0e840"/>
<rect x="50.97" y="155.18" width="4.16" height="3.88" fill="#f0e83c"/>
<rect x="55.06" y="155.18" width="4.16" height="3.88" fill="#f0e83d"/>
<rect x="59.16" y="155.18" width="4.16" height="3.88" fill="#f0e83c"/>
<rect x="63.26" y="155.18" width="4.16" height="3.88" fill="#f0e63b"/>
<rect x="67.36" y="155.18" width="4.16" height="3.88" fill="#f0e73c"/>
<rect x="71.45" y="155.18" width="4.16" height="3.88" fill="#f7a932"/>
<rect x="75.55" y="155.18" width="4.16" height="3.88" fill="#f7a832"/>
<rect x="79.65" y="155.18" width="4.16" height="3.88" fill="#f0e83d"/>
<rect x="83.74" y="155.18" width="4.16" height="3.88" fill="#f0e941"/>
<rect x="87.84" y="155.18" width="4.16" height="3.88" fill="#f0e946"/>
<rect x="91.94" y="155.18" width="4.16" height="3.88" fill="#f1e947"/>
<rect x="96.03" y="155.18" width="4.16" height="3.88" fill="#f0e944"/>
<rect x="100.13" y="155.18" width="4.16" height="3.88" fill="#f0e943"/>
<rect x="104.23" y="155.18" width="4.16" height="3.88" fill="#f59032"/>
<rect x="108.33" y="155.18" width="4.16" height="3.88" fill="#f2df3a"/>
<rect x="112.42" y="155.18" width="4.16" height="3.88" fill="#f6cb35"/>
<rect x="116.52" y="155.18" width="4.16" height="3.88" fill="#f7c633"/>
<rect x="120.62" y="155.18" width="4.16" height="3.88" fill="#f2ec5f"/>
<rect x="124.71" y="155.18" width="4.16" height="3.88" fill="#f1ec59"/>
<rect x="128.81" y="155.18" width="4.16" height="3.88" fill="#f5f189"/>
<rect x="132.91" y="155.18" width="4.16" height="3.88" fill="#f5f187"/>
<rect x="137.00" y="155.18" width="4.16" height="3.88" fill="#f5f186"/>
<rect x="141.10" y="155.18" width="4.16" height="3.88" fill="#f6f290"/>
<rect x="145.20" y="155.18" width="4.16" height="3.88" fill="#ffffff"/>
<polyline points="51.4,14.7 51.4,10.5 118.4,10.5 118.4,14.7" stroke="#555" stroke-width="0.9" fill="none"/>
<polyline points="20.3,17.7 20.3,14.7 84.0,14.7 84.0,16.3" stroke="#555" stroke-width="0.9" fill="none"/>
<polyline points="110.0,17.7 110.0,14.7 126.8,14.7 126.8,17.2" stroke="#555" stroke-width="0.9" fill="none"/>
<polyline points="9.5,18.8 9.5,17.5 62.0,17.5 62.0,18.4" stroke="#666" stroke-width="0.8" fill="none"/>
<polyline points="12.0,19.3 12.0,18.8 16.0,18.8 16.0,19.3" stroke="#999" stroke-width="0.6" fill="none"/>
<polyline points="28.0,19.3 28.0,18.6 33.0,18.6 33.0,19.3" stroke="#999" stroke-width="0.6" fill="none"/>
<polyline points="48.0,19.3 48.0,18.7 57.0,18.7 57.0,19.3" stroke="#999" stroke-width="0.6" fill="none"/>
<polyline points="59.0,19.3 59.0,18.4 68.0,18.4 68.0,19.3" stroke="#999" stroke-width="0.6" fill="none"/>
<polyline points="98.0,19.3 98.0,18.6 102.0,18.6 102.0,19.3" stroke="#999" stroke-width="0.6" fill="none"/>
<polyline points="131.0,19.3 131.0,18.5 139.0,18.5 139.0,19.3" stroke="#999" stroke-width="0.6" fill="none"/>
<polyline points="144.0,19.3 144.0,18.6 148.0,18.6 148.0,19.3" stroke="#999" stroke-width="0.6" fill="none"/>
<polyline points="75.9,16.3 92.0,16.3" stroke="#555" stroke-width="0.9" fill="none"/>
<polyline points="75.9,16.3 75.9,17.2" stroke="#555" stroke-width="0.9" fill="none"/>
<polyline points="74.2,19.2 74.2,17.2 77.6,17.2 77.6,19.2" stroke="#999" stroke-width="0.6" fill="none"/>
<polyline points="92.0,16.3 92.0,17.8" stroke="#555" stroke-width="0.9" fill="none"/>
<polyline points="83.0,19.2 83.0,17.8 97.0,17.8 97.0,19.2" stroke="#999" stroke-width="0.6" fill="none"/>
<polyline points="106.0,19.2 106.0,17.7 116.0,17.7 116.0,19.2" stroke="#999" stroke-width="0.6" fill="none"/>
<polyline points="123.0,19.2 123.0,17.2 142.0,17.2 142.0,19.2" stroke="#999" stroke-width="0.6" fill="none"/>
<polyline points="25.0,19.2 25.0,18.4 36.0,18.4 36.0,19.2" stroke="#999" stroke-width="0.6" fill="none"/>
<polyline points="45.0,19.2 45.0,18.2 66.0,18.2 66.0,19.2" stroke="#999" stroke-width="0.6" fill="none"/>
<text x="6.8" y="167.6" font-family="Liberation Sans, Arial, sans-serif" font-weight="bold" font-size="6.7" fill="#222">CONDITION</text>
<rect x="6" y="172.00" width="7.1" height="7.3" fill="#a6d25e"/>
<text x="16.2" y="177.60" font-family="Liberation Sans, Arial, sans-serif" font-weight="bold" font-size="5.4" fill="#333">EBD2</text>
<rect x="6" y="179.68" width="7.1" height="7.3" fill="#5cbe80"/>
<text x="16.2" y="185.40" font-family="Liberation Sans, Arial, sans-serif" font-weight="bold" font-size="5.4" fill="#333">EBD5</text>
<rect x="6" y="187.36" width="7.1" height="7.3" fill="#7a4628"/>
<text x="16.2" y="193.20" font-family="Liberation Sans, Arial, sans-serif" font-weight="bold" font-size="5.4" fill="#333">EBD7 CD34<tspan font-size="3.3" dy="-1.8">+</tspan></text>
<rect x="6" y="195.04" width="7.1" height="7.3" fill="#d78232"/>
<text x="16.2" y="201.00" font-family="Liberation Sans, Arial, sans-serif" font-weight="bold" font-size="5.4" fill="#333">EBD9 CD34<tspan font-size="3.3" dy="-1.8">+</tspan></text>
<rect x="6" y="202.72" width="7.1" height="7.3" fill="#fac3c3"/>
<text x="16.2" y="208.80" font-family="Liberation Sans, Arial, sans-serif" font-weight="bold" font-size="5.4" fill="#333">EBD9 CD34<tspan font-size="3.3" dy="-1.8">+</tspan><tspan dy="1.8">CD43</tspan><tspan font-size="3.3" dy="-1.8">-</tspan></text>
<rect x="6" y="210.40" width="7.1" height="7.3" fill="#da78a5"/>
<text x="16.2" y="216.60" font-family="Liberation Sans, Arial, sans-serif" font-weight="bold" font-size="5.4" fill="#333">EBD9 CD34<tspan font-size="3.3" dy="-1.8">+</tspan><tspan dy="1.8">CD43</tspan><tspan font-size="3.3" dy="-1.8">+</tspan></text>
<rect x="6" y="218.08" width="7.1" height="7.3" fill="#eb1e8c"/>
<text x="16.2" y="224.40" font-family="Liberation Sans, Arial, sans-serif" font-weight="bold" font-size="5.4" fill="#333">HSC</text>
<text x="93.4" y="165.2" font-family="Liberation Sans, Arial, sans-serif" font-weight="bold" font-size="6.6" fill="#222">Pearson</text>
<text x="93.4" y="172.6" font-family="Liberation Sans, Arial, sans-serif" font-weight="bold" font-size="6.6" fill="#222">correlation</text>
<defs><linearGradient id="pg" x1="0" y1="0" x2="0" y2="1"><stop offset="0.077" stop-color="#fcfbd7"/><stop offset="0.154" stop-color="#f7f4a0"/><stop offset="0.263" stop-color="#f2ed64"/><stop offset="0.355" stop-color="#f0e83c"/><stop offset="0.510" stop-color="#f8c032"/><stop offset="0.664" stop-color="#f58c32"/><stop offset="0.819" stop-color="#ee5f32"/><stop offset="0.973" stop-color="#e63737"/></linearGradient><linearGradient id="eg" x1="0" y1="0" x2="1" y2="0"><stop offset="0" stop-color="#3a55ac"/><stop offset="0.28" stop-color="#4a5cb4"/><stop offset="0.42" stop-color="#a9a3d6"/><stop offset="0.5" stop-color="#f4f0f4"/><stop offset="0.58" stop-color="#f8c8bc"/><stop offset="0.72" stop-color="#ef7a6a"/><stop offset="0.86" stop-color="#e84a44"/><stop offset="1" stop-color="#e63f3f"/></linearGradient></defs>
<rect x="93.3" y="176.5" width="7.9" height="41" fill="url(#pg)"/>
<line x1="99.4" y1="178.4" x2="101.2" y2="178.4" stroke="#fff" stroke-width="0.6" stroke-opacity="0.8"/>
<line x1="99.4" y1="191.1" x2="101.2" y2="191.1" stroke="#fff" stroke-width="0.6" stroke-opacity="0.8"/>
<line x1="99.4" y1="203.7" x2="101.2" y2="203.7" stroke="#fff" stroke-width="0.6" stroke-opacity="0.8"/>
<line x1="99.4" y1="216.4" x2="101.2" y2="216.4" stroke="#fff" stroke-width="0.6" stroke-opacity="0.8"/>
<text x="102.6" y="180.9" font-family="Liberation Sans, Arial, sans-serif" font-size="7" fill="#333">1</text>
<text x="102.6" y="193.6" font-family="Liberation Sans, Arial, sans-serif" font-size="7" fill="#333">0.9</text>
<text x="102.6" y="206.2" font-family="Liberation Sans, Arial, sans-serif" font-size="7" fill="#333">0.8</text>
<text x="102.6" y="218.9" font-family="Liberation Sans, Arial, sans-serif" font-size="7" fill="#333">0.7</text>
<text x="187.4" y="8.8" font-family="Liberation Sans, Arial, sans-serif" font-weight="bold" font-size="6.8" fill="#222">B</text>
<text x="332.2" y="14.1" font-family="Liberation Sans, Arial, sans-serif" font-weight="bold" font-size="7.1" text-anchor="middle" fill="#222">EB D9</text>
<text x="332.8" y="21.8" font-family="Liberation Sans, Arial, sans-serif" font-weight="bold" font-size="6.9" text-anchor="middle" fill="#222">CD34<tspan font-size="4.2" dy="-2.4">+</tspan><tspan dy="2.4">CD43</tspan><tspan font-size="4.2" dy="-2.4">-</tspan></text>
<text x="377.5" y="14.1" font-family="Liberation Sans, Arial, sans-serif" font-weight="bold" font-size="7.1" text-anchor="middle" fill="#222">EB D9</text>
<text x="378.9" y="21.8" font-family="Liberation Sans, Arial, sans-serif" font-weight="bold" font-size="6.9" text-anchor="middle" fill="#222">CD34<tspan font-size="4.2" dy="-2.4">+</tspan><tspan dy="2.4">CD43</tspan><tspan font-size="4.2" dy="-2.4">+</tspan></text>
<text x="305.5" y="40.40" font-family="Liberation Sans, Arial, sans-serif" font-weight="bold" font-size="6.36" text-anchor="end" fill="#222">Hematopoietic stem cell differentiation</text>
<line x1="309.3" y1="38.30" x2="312" y2="38.30" stroke="#111" stroke-width="0.9"/>
<rect x="355.50" y="34.80" width="25.40" height="7" fill="#d8678f"/>
<text x="305.5" y="51.16" font-family="Liberation Sans, Arial, sans-serif" font-weight="bold" font-size="6.36" text-anchor="end" fill="#222">Activation of HOX genes during differentiation</text>
<line x1="309.3" y1="49.06" x2="312" y2="49.06" stroke="#111" stroke-width="0.9"/>
<rect x="355.50" y="45.56" width="24.80" height="7" fill="#d8678f"/>
<text x="305.5" y="61.92" font-family="Liberation Sans, Arial, sans-serif" font-weight="bold" font-size="6.36" text-anchor="end" fill="#222">Granulocyte differentiation</text>
<line x1="309.3" y1="59.82" x2="312" y2="59.82" stroke="#111" stroke-width="0.9"/>
<rect x="355.50" y="56.32" width="21.40" height="7" fill="#d8678f"/>
<text x="305.5" y="72.68" font-family="Liberation Sans, Arial, sans-serif" font-weight="bold" font-size="6.36" text-anchor="end" fill="#222">Hematopoietic progenitor cell differentiation</text>
<line x1="309.3" y1="70.58" x2="312" y2="70.58" stroke="#111" stroke-width="0.9"/>
<rect x="355.50" y="67.08" width="20.80" height="7" fill="#d8678f"/>
<text x="305.5" y="83.44" font-family="Liberation Sans, Arial, sans-serif" font-weight="bold" font-size="6.36" text-anchor="end" fill="#222">Megakaryocyte differentiation</text>
<line x1="309.3" y1="81.34" x2="312" y2="81.34" stroke="#111" stroke-width="0.9"/>
<rect x="355.50" y="77.84" width="19.10" height="7" fill="#d8678f"/>
<text x="305.5" y="94.20" font-family="Liberation Sans, Arial, sans-serif" font-weight="bold" font-size="6.36" text-anchor="end" fill="#222">Signaling by NOTCH4</text>
<line x1="309.3" y1="92.10" x2="312" y2="92.10" stroke="#111" stroke-width="0.9"/>
<rect x="355.50" y="88.60" width="18.30" height="7" fill="#d8678f"/>
<text x="305.5" y="104.96" font-family="Liberation Sans, Arial, sans-serif" font-weight="bold" font-size="6.36" text-anchor="end" fill="#222">Signaling by NOTCH</text>
<line x1="309.3" y1="102.86" x2="312" y2="102.86" stroke="#111" stroke-width="0.9"/>
<rect x="355.50" y="99.36" width="17.20" height="7" fill="#d8678f"/>
<text x="305.5" y="115.72" font-family="Liberation Sans, Arial, sans-serif" font-weight="bold" font-size="6.36" text-anchor="end" fill="#222">Lymphocyte differentiation</text>
<line x1="309.3" y1="113.62" x2="312" y2="113.62" stroke="#111" stroke-width="0.9"/>
<rect x="355.50" y="110.12" width="16.30" height="7" fill="#d8678f"/>
<text x="305.5" y="126.48" font-family="Liberation Sans, Arial, sans-serif" font-weight="bold" font-size="6.36" text-anchor="end" fill="#222">Leukocyte differentiation</text>
<line x1="309.3" y1="124.38" x2="312" y2="124.38" stroke="#111" stroke-width="0.9"/>
<rect x="355.50" y="120.88" width="15.20" height="7" fill="#d8678f"/>
<text x="305.5" y="137.24" font-family="Liberation Sans, Arial, sans-serif" font-weight="bold" font-size="6.36" text-anchor="end" fill="#222">Myeloid cell differentiation</text>
<line x1="309.3" y1="135.14" x2="312" y2="135.14" stroke="#111" stroke-width="0.9"/>
<rect x="355.50" y="131.64" width="14.40" height="7" fill="#d8678f"/>
<text x="305.5" y="148.00" font-family="Liberation Sans, Arial, sans-serif" font-weight="bold" font-size="6.36" text-anchor="end" fill="#222">Regulation of endothelial cell differentiation</text>
<line x1="309.3" y1="145.90" x2="312" y2="145.90" stroke="#111" stroke-width="0.9"/>
<rect x="328.60" y="142.40" width="26.90" height="7" fill="#f8c2bb"/>
<text x="305.5" y="158.76" font-family="Liberation Sans, Arial, sans-serif" font-weight="bold" font-size="6.36" text-anchor="end" fill="#222">Stem cell development</text>
<line x1="309.3" y1="156.66" x2="312" y2="156.66" stroke="#111" stroke-width="0.9"/>
<rect x="332.10" y="153.16" width="23.40" height="7" fill="#f8c2bb"/>
<text x="305.5" y="169.52" font-family="Liberation Sans, Arial, sans-serif" font-weight="bold" font-size="6.36" text-anchor="end" fill="#222">Stem cell fate commitment</text>
<line x1="309.3" y1="167.42" x2="312" y2="167.42" stroke="#111" stroke-width="0.9"/>
<rect x="335.10" y="163.92" width="20.40" height="7" fill="#f8c2bb"/>
<text x="305.5" y="180.28" font-family="Liberation Sans, Arial, sans-serif" font-weight="bold" font-size="6.36" text-anchor="end" fill="#222">Positive regulation of Notch signaling pathway</text>
<line x1="309.3" y1="178.18" x2="312" y2="178.18" stroke="#111" stroke-width="0.9"/>
<rect x="338.00" y="174.68" width="17.50" height="7" fill="#f8c2bb"/>
<text x="305.5" y="191.04" font-family="Liberation Sans, Arial, sans-serif" font-weight="bold" font-size="6.36" text-anchor="end" fill="#222">Stem cell differentiation</text>
<line x1="309.3" y1="188.94" x2="312" y2="188.94" stroke="#111" stroke-width="0.9"/>
<rect x="340.10" y="185.44" width="15.40" height="7" fill="#f8c2bb"/>
<line x1="312.0" y1="31.5" x2="312.0" y2="196.6" stroke="#111" stroke-width="1.1"/>
<line x1="355.5" y1="31.3" x2="355.5" y2="196.3" stroke="#111" stroke-width="1.1"/>
<line x1="311.8" y1="196.1" x2="398.8" y2="196.1" stroke="#111" stroke-width="1.1"/>
<line x1="312.3" y1="195.8" x2="312.3" y2="198.4" stroke="#111" stroke-width="0.9"/>
<text x="312.90000000000003" y="204.0" font-family="Liberation Sans, Arial, sans-serif" font-weight="bold" font-size="4.2" text-anchor="middle" fill="#111" transform="rotate(-60 312.90000000000003 202.9)">-4</text>
<line x1="333.6" y1="195.8" x2="333.6" y2="198.4" stroke="#111" stroke-width="0.9"/>
<text x="334.20000000000005" y="204.0" font-family="Liberation Sans, Arial, sans-serif" font-weight="bold" font-size="4.2" text-anchor="middle" fill="#111" transform="rotate(-60 334.20000000000005 202.9)">-2</text>
<line x1="355.0" y1="195.8" x2="355.0" y2="198.4" stroke="#111" stroke-width="0.9"/>
<text x="355.6" y="204.0" font-family="Liberation Sans, Arial, sans-serif" font-weight="bold" font-size="4.2" text-anchor="middle" fill="#111" transform="rotate(-60 355.6 202.9)">0</text>
<line x1="376.6" y1="195.8" x2="376.6" y2="198.4" stroke="#111" stroke-width="0.9"/>
<text x="377.20000000000005" y="204.0" font-family="Liberation Sans, Arial, sans-serif" font-weight="bold" font-size="4.2" text-anchor="middle" fill="#111" transform="rotate(-60 377.20000000000005 202.9)">2</text>
<line x1="398.3" y1="195.8" x2="398.3" y2="198.4" stroke="#111" stroke-width="0.9"/>
<text x="398.90000000000003" y="204.0" font-family="Liberation Sans, Arial, sans-serif" font-weight="bold" font-size="4.2" text-anchor="middle" fill="#111" transform="rotate(-60 398.90000000000003 202.9)">4</text>
<text x="354.9" y="214.7" font-family="Liberation Sans, Arial, sans-serif" font-weight="bold" font-size="6.55" text-anchor="middle" fill="#222">Normalized enrichment score</text>
<text x="6.4" y="239.0" font-family="Liberation Sans, Arial, sans-serif" font-weight="bold" font-size="8.2" fill="#222">C</text>
<rect x="6.70" y="262.3" width="12.65" height="7.4" fill="#a6d25e"/>
<text x="13.02" y="250.1" font-family="Liberation Sans, Arial, sans-serif" font-weight="bold" font-size="6.8" text-anchor="middle" fill="#222">EB</text>
<text x="13.02" y="258.0" font-family="Liberation Sans, Arial, sans-serif" font-weight="bold" font-size="6.8" text-anchor="middle" fill="#222">D2</text>
<rect x="21.35" y="262.3" width="25.29" height="7.4" fill="#5cbe80"/>
<text x="33.99" y="250.1" font-family="Liberation Sans, Arial, sans-serif" font-weight="bold" font-size="6.8" text-anchor="middle" fill="#222">EB</text>
<text x="33.99" y="258.0" font-family="Liberation Sans, Arial, sans-serif" font-weight="bold" font-size="6.8" text-anchor="middle" fill="#222">D5</text>
<rect x="48.64" y="262.3" width="31.62" height="7.4" fill="#7a4628"/>
<text x="64.45" y="250.1" font-family="Liberation Sans, Arial, sans-serif" font-weight="bold" font-size="6.8" text-anchor="middle" fill="#222">EB D7</text>
<text x="65.25" y="258.0" font-family="Liberation Sans, Arial, sans-serif" font-weight="bold" font-size="6.8" text-anchor="middle" fill="#222">CD34<tspan font-size="4" dy="-2.3">+</tspan></text>
<rect x="82.25" y="262.3" width="44.26" height="7.4" fill="#fac3c3"/>
<text x="104.38" y="250.1" font-family="Liberation Sans, Arial, sans-serif" font-weight="bold" font-size="6.8" text-anchor="middle" fill="#222">EB D9</text>
<text x="105.18" y="258.0" font-family="Liberation Sans, Arial, sans-serif" font-weight="bold" font-size="6.8" text-anchor="middle" fill="#222">CD34<tspan font-size="4" dy="-2.3">+</tspan><tspan dy="2.3">CD43</tspan><tspan font-size="4" dy="-2.3">-</tspan></text>
<rect x="128.51" y="262.3" width="37.94" height="7.4" fill="#d78232"/>
<text x="147.48" y="250.1" font-family="Liberation Sans, Arial, sans-serif" font-weight="bold" font-size="6.8" text-anchor="middle" fill="#222">EB D9</text>
<text x="148.28" y="258.0" font-family="Liberation Sans, Arial, sans-serif" font-weight="bold" font-size="6.8" text-anchor="middle" fill="#222">CD34<tspan font-size="4" dy="-2.3">+</tspan></text>
<rect x="168.45" y="262.3" width="44.26" height="7.4" fill="#da78a5"/>
<text x="190.58" y="250.1" font-family="Liberation Sans, Arial, sans-serif" font-weight="bold" font-size="6.8" text-anchor="middle" fill="#222">EB D9</text>
<text x="191.38" y="259.5" font-family="Liberation Sans, Arial, sans-serif" font-weight="bold" font-size="6.8" text-anchor="middle" fill="#222">CD34<tspan font-size="4" dy="-2.3">+</tspan><tspan dy="2.3">CD43</tspan><tspan font-size="4" dy="-2.3">+</tspan></text>
<rect x="214.71" y="262.3" width="25.29" height="7.4" fill="#eb1e8c"/>
<text x="227.36" y="250.1" font-family="Liberation Sans, Arial, sans-serif" font-weight="bold" font-size="6.8" text-anchor="middle" fill="#222">HSC</text>
<rect x="6.70" y="271.50" width="6.37" height="5.42" fill="#998dcf"/>
<rect x="13.02" y="271.50" width="6.37" height="5.42" fill="#7f79c6"/>
<rect x="21.35" y="271.50" width="6.37" height="5.42" fill="#f6d9d2"/>
<rect x="27.67" y="271.50" width="6.37" height="5.42" fill="#f9cdc0"/>
<rect x="33.99" y="271.50" width="6.37" height="5.42" fill="#d7d0e9"/>
<rect x="40.31" y="271.50" width="6.37" height="5.42" fill="#f6d9d2"/>
<rect x="48.64" y="271.50" width="6.37" height="5.42" fill="#f49d87"/>
<rect x="54.96" y="271.50" width="6.37" height="5.42" fill="#f49d87"/>
<rect x="61.28" y="271.50" width="6.37" height="5.42" fill="#ee7261"/>
<rect x="67.61" y="271.50" width="6.37" height="5.42" fill="#f18370"/>
<rect x="73.93" y="271.50" width="6.37" height="5.42" fill="#f18370"/>
<rect x="82.25" y="271.50" width="6.37" height="5.42" fill="#f49d87"/>
<rect x="88.58" y="271.50" width="6.37" height="5.42" fill="#f49d87"/>
<rect x="94.90" y="271.50" width="6.37" height="5.42" fill="#f6b29f"/>
<rect x="101.22" y="271.50" width="6.37" height="5.42" fill="#f6b29f"/>
<rect x="107.55" y="271.50" width="6.37" height="5.42" fill="#f6b29f"/>
<rect x="113.87" y="271.50" width="6.37" height="5.42" fill="#f18370"/>
<rect x="120.19" y="271.50" width="6.37" height="5.42" fill="#f6b29f"/>
<rect x="128.51" y="271.50" width="6.37" height="5.42" fill="#f49d87"/>
<rect x="134.84" y="271.50" width="6.37" height="5.42" fill="#f49d87"/>
<rect x="141.16" y="271.50" width="6.37" height="5.42" fill="#f49d87"/>
<rect x="147.48" y="271.50" width="6.37" height="5.42" fill="#f49d87"/>
<rect x="153.81" y="271.50" width="6.37" height="5.42" fill="#f49d87"/>
<rect x="160.13" y="271.50" width="6.37" height="5.42" fill="#f49d87"/>
<rect x="168.45" y="271.50" width="6.37" height="5.42" fill="#c8c0e5"/>
<rect x="174.78" y="271.50" width="6.37" height="5.42" fill="#d7d0e9"/>
<rect x="181.10" y="271.50" width="6.37" height="5.42" fill="#d7d0e9"/>
<rect x="187.42" y="271.50" width="6.37" height="5.42" fill="#e1dcec"/>
<rect x="193.74" y="271.50" width="6.37" height="5.42" fill="#d7d0e9"/>
<rect x="200.07" y="271.50" width="6.37" height="5.42" fill="#d7d0e9"/>
<rect x="206.39" y="271.50" width="6.37" height="5.42" fill="#c8c0e5"/>
<rect x="214.71" y="271.50" width="6.37" height="5.42" fill="#b8aede"/>
<rect x="221.04" y="271.50" width="6.37" height="5.42" fill="#b8aede"/>
<rect x="227.36" y="271.50" width="6.37" height="5.42" fill="#b8aede"/>
<rect x="233.68" y="271.50" width="6.37" height="5.42" fill="#aca0d8"/>
<rect x="6.70" y="276.87" width="6.37" height="5.42" fill="#aca0d8"/>
<rect x="13.02" y="276.87" width="6.37" height="5.42" fill="#998dcf"/>
<rect x="21.35" y="276.87" width="6.37" height="5.42" fill="#f3e0de"/>
<rect x="27.67" y="276.87" width="6.37" height="5.42" fill="#c8c0e5"/>
<rect x="33.99" y="276.87" width="6.37" height="5.42" fill="#f3e0de"/>
<rect x="40.31" y="276.87" width="6.37" height="5.42" fill="#c8c0e5"/>
<rect x="48.64" y="276.87" width="6.37" height="5.42" fill="#f9cdc0"/>
<rect x="54.96" y="276.87" width="6.37" height="5.42" fill="#f6b29f"/>
<rect x="61.28" y="276.87" width="6.37" height="5.42" fill="#f6b29f"/>
<rect x="67.61" y="276.87" width="6.37" height="5.42" fill="#f8bfb0"/>
<rect x="73.93" y="276.87" width="6.37" height="5.42" fill="#f9cdc0"/>
<rect x="82.25" y="276.87" width="6.37" height="5.42" fill="#f9cdc0"/>
<rect x="88.58" y="276.87" width="6.37" height="5.42" fill="#f49d87"/>
<rect x="94.90" y="276.87" width="6.37" height="5.42" fill="#f3e0de"/>
<rect x="101.22" y="276.87" width="6.37" height="5.42" fill="#f3e0de"/>
<rect x="107.55" y="276.87" width="6.37" height="5.42" fill="#f6d9d2"/>
<rect x="113.87" y="276.87" width="6.37" height="5.42" fill="#f8bfb0"/>
<rect x="120.19" y="276.87" width="6.37" height="5.42" fill="#f9cdc0"/>
<rect x="128.51" y="276.87" width="6.37" height="5.42" fill="#c8c0e5"/>
<rect x="134.84" y="276.87" width="6.37" height="5.42" fill="#f3e0de"/>
<rect x="141.16" y="276.87" width="6.37" height="5.42" fill="#d7d0e9"/>
<rect x="147.48" y="276.87" width="6.37" height="5.42" fill="#f3e0de"/>
<rect x="153.81" y="276.87" width="6.37" height="5.42" fill="#f0ecf0"/>
<rect x="160.13" y="276.87" width="6.37" height="5.42" fill="#f6d9d2"/>
<rect x="168.45" y="276.87" width="6.37" height="5.42" fill="#a094d2"/>
<rect x="174.78" y="276.87" width="6.37" height="5.42" fill="#a094d2"/>
<rect x="181.10" y="276.87" width="6.37" height="5.42" fill="#998dcf"/>
<rect x="187.42" y="276.87" width="6.37" height="5.42" fill="#e1dcec"/>
<rect x="193.74" y="276.87" width="6.37" height="5.42" fill="#aca0d8"/>
<rect x="200.07" y="276.87" width="6.37" height="5.42" fill="#b8aede"/>
<rect x="206.39" y="276.87" width="6.37" height="5.42" fill="#f0ecf0"/>
<rect x="214.71" y="276.87" width="6.37" height="5.42" fill="#7f79c6"/>
<rect x="221.04" y="276.87" width="6.37" height="5.42" fill="#7f79c6"/>
<rect x="227.36" y="276.87" width="6.37" height="5.42" fill="#998dcf"/>
<rect x="233.68" y="276.87" width="6.37" height="5.42" fill="#5962ba"/>
<rect x="6.70" y="282.25" width="6.37" height="5.42" fill="#998dcf"/>
<rect x="13.02" y="282.25" width="6.37" height="5.42" fill="#aca0d8"/>
<rect x="21.35" y="282.25" width="6.37" height="5.42" fill="#f3e0de"/>
<rect x="27.67" y="282.25" width="6.37" height="5.42" fill="#f6d9d2"/>
<rect x="33.99" y="282.25" width="6.37" height="5.42" fill="#f3e0de"/>
<rect x="40.31" y="282.25" width="6.37" height="5.42" fill="#f2e4e4"/>
<rect x="48.64" y="282.25" width="6.37" height="5.42" fill="#f9cdc0"/>
<rect x="54.96" y="282.25" width="6.37" height="5.42" fill="#f18370"/>
<rect x="61.28" y="282.25" width="6.37" height="5.42" fill="#d7d0e9"/>
<rect x="67.61" y="282.25" width="6.37" height="5.42" fill="#f8bfb0"/>
<rect x="73.93" y="282.25" width="6.37" height="5.42" fill="#f8bfb0"/>
<rect x="82.25" y="282.25" width="6.37" height="5.42" fill="#f2e4e4"/>
<rect x="88.58" y="282.25" width="6.37" height="5.42" fill="#f9cdc0"/>
<rect x="94.90" y="282.25" width="6.37" height="5.42" fill="#c0b7e1"/>
<rect x="101.22" y="282.25" width="6.37" height="5.42" fill="#d7d0e9"/>
<rect x="107.55" y="282.25" width="6.37" height="5.42" fill="#f3e0de"/>
<rect x="113.87" y="282.25" width="6.37" height="5.42" fill="#f9cdc0"/>
<rect x="120.19" y="282.25" width="6.37" height="5.42" fill="#f18370"/>
<rect x="128.51" y="282.25" width="6.37" height="5.42" fill="#c0b7e1"/>
<rect x="134.84" y="282.25" width="6.37" height="5.42" fill="#f0ecf0"/>
<rect x="141.16" y="282.25" width="6.37" height="5.42" fill="#c0b7e1"/>
<rect x="147.48" y="282.25" width="6.37" height="5.42" fill="#f3e0de"/>
<rect x="153.81" y="282.25" width="6.37" height="5.42" fill="#f6d9d2"/>
<rect x="160.13" y="282.25" width="6.37" height="5.42" fill="#c0b7e1"/>
<rect x="168.45" y="282.25" width="6.37" height="5.42" fill="#b8aede"/>
<rect x="174.78" y="282.25" width="6.37" height="5.42" fill="#c0b7e1"/>
<rect x="181.10" y="282.25" width="6.37" height="5.42" fill="#c0b7e1"/>
<rect x="187.42" y="282.25" width="6.37" height="5.42" fill="#aca0d8"/>
<rect x="193.74" y="282.25" width="6.37" height="5.42" fill="#aca0d8"/>
<rect x="200.07" y="282.25" width="6.37" height="5.42" fill="#f0ecf0"/>
<rect x="206.39" y="282.25" width="6.37" height="5.42" fill="#7f79c6"/>
<rect x="214.71" y="282.25" width="6.37" height="5.42" fill="#9185cb"/>
<rect x="221.04" y="282.25" width="6.37" height="5.42" fill="#9185cb"/>
<rect x="227.36" y="282.25" width="6.37" height="5.42" fill="#a094d2"/>
<rect x="233.68" y="282.25" width="6.37" height="5.42" fill="#a094d2"/>
<rect x="6.70" y="287.62" width="6.37" height="5.42" fill="#9185cb"/>
<rect x="13.02" y="287.62" width="6.37" height="5.42" fill="#c0b7e1"/>
<rect x="21.35" y="287.62" width="6.37" height="5.42" fill="#f9cdc0"/>
<rect x="27.67" y="287.62" width="6.37" height="5.42" fill="#f9cdc0"/>
<rect x="33.99" y="287.62" width="6.37" height="5.42" fill="#f9cdc0"/>
<rect x="40.31" y="287.62" width="6.37" height="5.42" fill="#f6d9d2"/>
<rect x="48.64" y="287.62" width="6.37" height="5.42" fill="#f49d87"/>
<rect x="54.96" y="287.62" width="6.37" height="5.42" fill="#f8bfb0"/>
<rect x="61.28" y="287.62" width="6.37" height="5.42" fill="#f4dcd8"/>
<rect x="67.61" y="287.62" width="6.37" height="5.42" fill="#ee7261"/>
<rect x="73.93" y="287.62" width="6.37" height="5.42" fill="#f8bfb0"/>
<rect x="82.25" y="287.62" width="6.37" height="5.42" fill="#f9cdc0"/>
<rect x="88.58" y="287.62" width="6.37" height="5.42" fill="#f8bfb0"/>
<rect x="94.90" y="287.62" width="6.37" height="5.42" fill="#d7d0e9"/>
<rect x="101.22" y="287.62" width="6.37" height="5.42" fill="#f6d9d2"/>
<rect x="107.55" y="287.62" width="6.37" height="5.42" fill="#f3e0de"/>
<rect x="113.87" y="287.62" width="6.37" height="5.42" fill="#f8bfb0"/>
<rect x="120.19" y="287.62" width="6.37" height="5.42" fill="#f49d87"/>
<rect x="128.51" y="287.62" width="6.37" height="5.42" fill="#f9cdc0"/>
<rect x="134.84" y="287.62" width="6.37" height="5.42" fill="#f6b29f"/>
<rect x="141.16" y="287.62" width="6.37" height="5.42" fill="#f9cdc0"/>
<rect x="147.48" y="287.62" width="6.37" height="5.42" fill="#f6b29f"/>
<rect x="153.81" y="287.62" width="6.37" height="5.42" fill="#f6b29f"/>
<rect x="160.13" y="287.62" width="6.37" height="5.42" fill="#f8bfb0"/>
<rect x="168.45" y="287.62" width="6.37" height="5.42" fill="#c8c0e5"/>
<rect x="174.78" y="287.62" width="6.37" height="5.42" fill="#c8c0e5"/>
<rect x="181.10" y="287.62" width="6.37" height="5.42" fill="#d7d0e9"/>
<rect x="187.42" y="287.62" width="6.37" height="5.42" fill="#7f79c6"/>
<rect x="193.74" y="287.62" width="6.37" height="5.42" fill="#e1dcec"/>
<rect x="200.07" y="287.62" width="6.37" height="5.42" fill="#998dcf"/>
<rect x="206.39" y="287.62" width="6.37" height="5.42" fill="#998dcf"/>
<rect x="214.71" y="287.62" width="6.37" height="5.42" fill="#a094d2"/>
<rect x="221.04" y="287.62" width="6.37" height="5.42" fill="#a094d2"/>
<rect x="227.36" y="287.62" width="6.37" height="5.42" fill="#aca0d8"/>
<rect x="233.68" y="287.62" width="6.37" height="5.42" fill="#998dcf"/>
<rect x="6.70" y="292.99" width="6.37" height="5.42" fill="#f49d87"/>
<rect x="13.02" y="292.99" width="6.37" height="5.42" fill="#f49d87"/>
<rect x="21.35" y="292.99" width="6.37" height="5.42" fill="#f8bfb0"/>
<rect x="27.67" y="292.99" width="6.37" height="5.42" fill="#f9cdc0"/>
<rect x="33.99" y="292.99" width="6.37" height="5.42" fill="#f9cdc0"/>
<rect x="40.31" y="292.99" width="6.37" height="5.42" fill="#f6d9d2"/>
<rect x="48.64" y="292.99" width="6.37" height="5.42" fill="#f49d87"/>
<rect x="54.96" y="292.99" width="6.37" height="5.42" fill="#f6b29f"/>
<rect x="61.28" y="292.99" width="6.37" height="5.42" fill="#f3e0de"/>
<rect x="67.61" y="292.99" width="6.37" height="5.42" fill="#f18370"/>
<rect x="73.93" y="292.99" width="6.37" height="5.42" fill="#f8bfb0"/>
<rect x="82.25" y="292.99" width="6.37" height="5.42" fill="#f6b29f"/>
<rect x="88.58" y="292.99" width="6.37" height="5.42" fill="#f6b29f"/>
<rect x="94.90" y="292.99" width="6.37" height="5.42" fill="#f3e0de"/>
<rect x="101.22" y="292.99" width="6.37" height="5.42" fill="#d7d0e9"/>
<rect x="107.55" y="292.99" width="6.37" height="5.42" fill="#f6d9d2"/>
<rect x="113.87" y="292.99" width="6.37" height="5.42" fill="#f8bfb0"/>
<rect x="120.19" y="292.99" width="6.37" height="5.42" fill="#f3e0de"/>
<rect x="128.51" y="292.99" width="6.37" height="5.42" fill="#f3e0de"/>
<rect x="134.84" y="292.99" width="6.37" height="5.42" fill="#f9cdc0"/>
<rect x="141.16" y="292.99" width="6.37" height="5.42" fill="#f8bfb0"/>
<rect x="147.48" y="292.99" width="6.37" height="5.42" fill="#f8bfb0"/>
<rect x="153.81" y="292.99" width="6.37" height="5.42" fill="#f3e0de"/>
<rect x="160.13" y="292.99" width="6.37" height="5.42" fill="#f6d9d2"/>
<rect x="168.45" y="292.99" width="6.37" height="5.42" fill="#f6b29f"/>
<rect x="174.78" y="292.99" width="6.37" height="5.42" fill="#f6b29f"/>
<rect x="181.10" y="292.99" width="6.37" height="5.42" fill="#f3e0de"/>
<rect x="187.42" y="292.99" width="6.37" height="5.42" fill="#f3e0de"/>
<rect x="193.74" y="292.99" width="6.37" height="5.42" fill="#f3e0de"/>
<rect x="200.07" y="292.99" width="6.37" height="5.42" fill="#f3e0de"/>
<rect x="206.39" y="292.99" width="6.37" height="5.42" fill="#d7d0e9"/>
<rect x="214.71" y="292.99" width="6.37" height="5.42" fill="#5962ba"/>
<rect x="221.04" y="292.99" width="6.37" height="5.42" fill="#5962ba"/>
<rect x="227.36" y="292.99" width="6.37" height="5.42" fill="#6e6ec1"/>
<rect x="233.68" y="292.99" width="6.37" height="5.42" fill="#aca0d8"/>
<rect x="6.70" y="298.37" width="6.37" height="5.42" fill="#998dcf"/>
<rect x="13.02" y="298.37" width="6.37" height="5.42" fill="#998dcf"/>
<rect x="21.35" y="298.37" width="6.37" height="5.42" fill="#f9cdc0"/>
<rect x="27.67" y="298.37" width="6.37" height="5.42" fill="#f9cdc0"/>
<rect x="33.99" y="298.37" width="6.37" height="5.42" fill="#f9cdc0"/>
<rect x="40.31" y="298.37" width="6.37" height="5.42" fill="#f6d9d2"/>
<rect x="48.64" y="298.37" width="6.37" height="5.42" fill="#f49d87"/>
<rect x="54.96" y="298.37" width="6.37" height="5.42" fill="#f49d87"/>
<rect x="61.28" y="298.37" width="6.37" height="5.42" fill="#ee7261"/>
<rect x="67.61" y="298.37" width="6.37" height="5.42" fill="#f18370"/>
<rect x="73.93" y="298.37" width="6.37" height="5.42" fill="#f49d87"/>
<rect x="82.25" y="298.37" width="6.37" height="5.42" fill="#f49d87"/>
<rect x="88.58" y="298.37" width="6.37" height="5.42" fill="#f49d87"/>
<rect x="94.90" y="298.37" width="6.37" height="5.42" fill="#f49d87"/>
<rect x="101.22" y="298.37" width="6.37" height="5.42" fill="#f6b29f"/>
<rect x="107.55" y="298.37" width="6.37" height="5.42" fill="#f6b29f"/>
<rect x="113.87" y="298.37" width="6.37" height="5.42" fill="#f6b29f"/>
<rect x="120.19" y="298.37" width="6.37" height="5.42" fill="#f6b29f"/>
<rect x="128.51" y="298.37" width="6.37" height="5.42" fill="#f49d87"/>
<rect x="134.84" y="298.37" width="6.37" height="5.42" fill="#f49d87"/>
<rect x="141.16" y="298.37" width="6.37" height="5.42" fill="#f49d87"/>
<rect x="147.48" y="298.37" width="6.37" height="5.42" fill="#f49d87"/>
<rect x="153.81" y="298.37" width="6.37" height="5.42" fill="#f49d87"/>
<rect x="160.13" y="298.37" width="6.37" height="5.42" fill="#f49d87"/>
<rect x="168.45" y="298.37" width="6.37" height="5.42" fill="#c0b7e1"/>
<rect x="174.78" y="298.37" width="6.37" height="5.42" fill="#c0b7e1"/>
<rect x="181.10" y="298.37" width="6.37" height="5.42" fill="#b8aede"/>
<rect x="187.42" y="298.37" width="6.37" height="5.42" fill="#c8c0e5"/>
<rect x="193.74" y="298.37" width="6.37" height="5.42" fill="#c8c0e5"/>
<rect x="200.07" y="298.37" width="6.37" height="5.42" fill="#c8c0e5"/>
<rect x="206.39" y="298.37" width="6.37" height="5.42" fill="#9185cb"/>
<rect x="214.71" y="298.37" width="6.37" height="5.42" fill="#b4a9dc"/>
<rect x="221.04" y="298.37" width="6.37" height="5.42" fill="#b4a9dc"/>
<rect x="227.36" y="298.37" width="6.37" height="5.42" fill="#b4a9dc"/>
<rect x="233.68" y="298.37" width="6.37" height="5.42" fill="#a094d2"/>
<rect x="6.70" y="303.74" width="6.37" height="5.42" fill="#c0b7e1"/>
<rect x="13.02" y="303.74" width="6.37" height="5.42" fill="#c0b7e1"/>
<rect x="21.35" y="303.74" width="6.37" height="5.42" fill="#f2e4e4"/>
<rect x="27.67" y="303.74" width="6.37" height="5.42" fill="#e1dcec"/>
<rect x="33.99" y="303.74" width="6.37" height="5.42" fill="#c8c0e5"/>
<rect x="40.31" y="303.74" width="6.37" height="5.42" fill="#e1dcec"/>
<rect x="48.64" y="303.74" width="6.37" height="5.42" fill="#f18370"/>
<rect x="54.96" y="303.74" width="6.37" height="5.42" fill="#f18370"/>
<rect x="61.28" y="303.74" width="6.37" height="5.42" fill="#f6b29f"/>
<rect x="67.61" y="303.74" width="6.37" height="5.42" fill="#f8bfb0"/>
<rect x="73.93" y="303.74" width="6.37" height="5.42" fill="#f8bfb0"/>
<rect x="82.25" y="303.74" width="6.37" height="5.42" fill="#f6d9d2"/>
<rect x="88.58" y="303.74" width="6.37" height="5.42" fill="#f9cdc0"/>
<rect x="94.90" y="303.74" width="6.37" height="5.42" fill="#f9cdc0"/>
<rect x="101.22" y="303.74" width="6.37" height="5.42" fill="#f9cdc0"/>
<rect x="107.55" y="303.74" width="6.37" height="5.42" fill="#f9cdc0"/>
<rect x="113.87" y="303.74" width="6.37" height="5.42" fill="#e43a34"/>
<rect x="120.19" y="303.74" width="6.37" height="5.42" fill="#f49d87"/>
<rect x="128.51" y="303.74" width="6.37" height="5.42" fill="#f8bfb0"/>
<rect x="134.84" y="303.74" width="6.37" height="5.42" fill="#f6d9d2"/>
<rect x="141.16" y="303.74" width="6.37" height="5.42" fill="#f49d87"/>
<rect x="147.48" y="303.74" width="6.37" height="5.42" fill="#f49d87"/>
<rect x="153.81" y="303.74" width="6.37" height="5.42" fill="#f8bfb0"/>
<rect x="160.13" y="303.74" width="6.37" height="5.42" fill="#f8bfb0"/>
<rect x="168.45" y="303.74" width="6.37" height="5.42" fill="#c8c0e5"/>
<rect x="174.78" y="303.74" width="6.37" height="5.42" fill="#998dcf"/>
<rect x="181.10" y="303.74" width="6.37" height="5.42" fill="#998dcf"/>
<rect x="187.42" y="303.74" width="6.37" height="5.42" fill="#998dcf"/>
<rect x="193.74" y="303.74" width="6.37" height="5.42" fill="#998dcf"/>
<rect x="200.07" y="303.74" width="6.37" height="5.42" fill="#998dcf"/>
<rect x="206.39" y="303.74" width="6.37" height="5.42" fill="#b8aede"/>
<rect x="214.71" y="303.74" width="6.37" height="5.42" fill="#f6d9d2"/>
<rect x="221.04" y="303.74" width="6.37" height="5.42" fill="#aca0d8"/>
<rect x="227.36" y="303.74" width="6.37" height="5.42" fill="#aca0d8"/>
<rect x="233.68" y="303.74" width="6.37" height="5.42" fill="#998dcf"/>
<rect x="6.70" y="309.11" width="6.37" height="5.42" fill="#f6d9d2"/>
<rect x="13.02" y="309.11" width="6.37" height="5.42" fill="#f0ecf0"/>
<rect x="21.35" y="309.11" width="6.37" height="5.42" fill="#f0ecf0"/>
<rect x="27.67" y="309.11" width="6.37" height="5.42" fill="#c8c0e5"/>
<rect x="33.99" y="309.11" width="6.37" height="5.42" fill="#f0ecf0"/>
<rect x="40.31" y="309.11" width="6.37" height="5.42" fill="#f3e0de"/>
<rect x="48.64" y="309.11" width="6.37" height="5.42" fill="#f8bfb0"/>
<rect x="54.96" y="309.11" width="6.37" height="5.42" fill="#f8bfb0"/>
<rect x="61.28" y="309.11" width="6.37" height="5.42" fill="#f3e0de"/>
<rect x="67.61" y="309.11" width="6.37" height="5.42" fill="#f3e0de"/>
<rect x="73.93" y="309.11" width="6.37" height="5.42" fill="#c8c0e5"/>
<rect x="82.25" y="309.11" width="6.37" height="5.42" fill="#f3e0de"/>
<rect x="88.58" y="309.11" width="6.37" height="5.42" fill="#f3e0de"/>
<rect x="94.90" y="309.11" width="6.37" height="5.42" fill="#c8c0e5"/>
<rect x="101.22" y="309.11" width="6.37" height="5.42" fill="#998dcf"/>
<rect x="107.55" y="309.11" width="6.37" height="5.42" fill="#c8c0e5"/>
<rect x="113.87" y="309.11" width="6.37" height="5.42" fill="#d7d0e9"/>
<rect x="120.19" y="309.11" width="6.37" height="5.42" fill="#aca0d8"/>
<rect x="128.51" y="309.11" width="6.37" height="5.42" fill="#f3e0de"/>
<rect x="134.84" y="309.11" width="6.37" height="5.42" fill="#c0b7e1"/>
<rect x="141.16" y="309.11" width="6.37" height="5.42" fill="#f0ecf0"/>
<rect x="147.48" y="309.11" width="6.37" height="5.42" fill="#f3e0de"/>
<rect x="153.81" y="309.11" width="6.37" height="5.42" fill="#f3e0de"/>
<rect x="160.13" y="309.11" width="6.37" height="5.42" fill="#f0ecf0"/>
<rect x="168.45" y="309.11" width="6.37" height="5.42" fill="#ee7261"/>
<rect x="174.78" y="309.11" width="6.37" height="5.42" fill="#ee7261"/>
<rect x="181.10" y="309.11" width="6.37" height="5.42" fill="#f18370"/>
<rect x="187.42" y="309.11" width="6.37" height="5.42" fill="#ee7261"/>
<rect x="193.74" y="309.11" width="6.37" height="5.42" fill="#f49d87"/>
<rect x="200.07" y="309.11" width="6.37" height="5.42" fill="#f18370"/>
<rect x="206.39" y="309.11" width="6.37" height="5.42" fill="#d7d0e9"/>
<rect x="214.71" y="309.11" width="6.37" height="5.42" fill="#4c5bb5"/>
<rect x="221.04" y="309.11" width="6.37" height="5.42" fill="#4c5bb5"/>
<rect x="227.36" y="309.11" width="6.37" height="5.42" fill="#a094d2"/>
<rect x="233.68" y="309.11" width="6.37" height="5.42" fill="#e1dcec"/>
<rect x="6.70" y="314.48" width="6.37" height="5.42" fill="#f49d87"/>
<rect x="13.02" y="314.48" width="6.37" height="5.42" fill="#f49d87"/>
<rect x="21.35" y="314.48" width="6.37" height="5.42" fill="#f8bfb0"/>
<rect x="27.67" y="314.48" width="6.37" height="5.42" fill="#f6d9d2"/>
<rect x="33.99" y="314.48" width="6.37" height="5.42" fill="#f8bfb0"/>
<rect x="40.31" y="314.48" width="6.37" height="5.42" fill="#f3e0de"/>
<rect x="48.64" y="314.48" width="6.37" height="5.42" fill="#f3e0de"/>
<rect x="54.96" y="314.48" width="6.37" height="5.42" fill="#f8bfb0"/>
<rect x="61.28" y="314.48" width="6.37" height="5.42" fill="#c8c0e5"/>
<rect x="67.61" y="314.48" width="6.37" height="5.42" fill="#f0ecf0"/>
<rect x="73.93" y="314.48" width="6.37" height="5.42" fill="#998dcf"/>
<rect x="82.25" y="314.48" width="6.37" height="5.42" fill="#aca0d8"/>
<rect x="88.58" y="314.48" width="6.37" height="5.42" fill="#f3e0de"/>
<rect x="94.90" y="314.48" width="6.37" height="5.42" fill="#aca0d8"/>
<rect x="101.22" y="314.48" width="6.37" height="5.42" fill="#998dcf"/>
<rect x="107.55" y="314.48" width="6.37" height="5.42" fill="#f0ecf0"/>
<rect x="113.87" y="314.48" width="6.37" height="5.42" fill="#d7d0e9"/>
<rect x="120.19" y="314.48" width="6.37" height="5.42" fill="#f0ecf0"/>
<rect x="128.51" y="314.48" width="6.37" height="5.42" fill="#f3e0de"/>
<rect x="134.84" y="314.48" width="6.37" height="5.42" fill="#aca0d8"/>
<rect x="141.16" y="314.48" width="6.37" height="5.42" fill="#c8c0e5"/>
<rect x="147.48" y="314.48" width="6.37" height="5.42" fill="#f0ecf0"/>
<rect x="153.81" y="314.48" width="6.37" height="5.42" fill="#c8c0e5"/>
<rect x="160.13" y="314.48" width="6.37" height="5.42" fill="#f3e0de"/>
<rect x="168.45" y="314.48" width="6.37" height="5.42" fill="#f49d87"/>
<rect x="174.78" y="314.48" width="6.37" height="5.42" fill="#f49d87"/>
<rect x="181.10" y="314.48" width="6.37" height="5.42" fill="#f49d87"/>
<rect x="187.42" y="314.48" width="6.37" height="5.42" fill="#f49d87"/>
<rect x="193.74" y="314.48" width="6.37" height="5.42" fill="#f3e0de"/>
<rect x="200.07" y="314.48" width="6.37" height="5.42" fill="#f9cdc0"/>
<rect x="206.39" y="314.48" width="6.37" height="5.42" fill="#f18370"/>
<rect x="214.71" y="314.48" width="6.37" height="5.42" fill="#4c5bb5"/>
<rect x="221.04" y="314.48" width="6.37" height="5.42" fill="#4c5bb5"/>
<rect x="227.36" y="314.48" width="6.37" height="5.42" fill="#a094d2"/>
<rect x="233.68" y="314.48" width="6.37" height="5.42" fill="#f0ecf0"/>
<rect x="6.70" y="319.86" width="6.37" height="5.42" fill="#9185cb"/>
<rect x="13.02" y="319.86" width="6.37" height="5.42" fill="#998dcf"/>
<rect x="21.35" y="319.86" width="6.37" height="5.42" fill="#f3e0de"/>
<rect x="27.67" y="319.86" width="6.37" height="5.42" fill="#f3e0de"/>
<rect x="33.99" y="319.86" width="6.37" height="5.42" fill="#f0ecf0"/>
<rect x="40.31" y="319.86" width="6.37" height="5.42" fill="#f6d9d2"/>
<rect x="48.64" y="319.86" width="6.37" height="5.42" fill="#f18370"/>
<rect x="54.96" y="319.86" width="6.37" height="5.42" fill="#f18370"/>
<rect x="61.28" y="319.86" width="6.37" height="5.42" fill="#f18370"/>
<rect x="67.61" y="319.86" width="6.37" height="5.42" fill="#f18370"/>
<rect x="73.93" y="319.86" width="6.37" height="5.42" fill="#f18370"/>
<rect x="82.25" y="319.86" width="6.37" height="5.42" fill="#f49d87"/>
<rect x="88.58" y="319.86" width="6.37" height="5.42" fill="#f49d87"/>
<rect x="94.90" y="319.86" width="6.37" height="5.42" fill="#f6b29f"/>
<rect x="101.22" y="319.86" width="6.37" height="5.42" fill="#f6b29f"/>
<rect x="107.55" y="319.86" width="6.37" height="5.42" fill="#f6b29f"/>
<rect x="113.87" y="319.86" width="6.37" height="5.42" fill="#f49d87"/>
<rect x="120.19" y="319.86" width="6.37" height="5.42" fill="#f49d87"/>
<rect x="128.51" y="319.86" width="6.37" height="5.42" fill="#f49d87"/>
<rect x="134.84" y="319.86" width="6.37" height="5.42" fill="#f49d87"/>
<rect x="141.16" y="319.86" width="6.37" height="5.42" fill="#f6b29f"/>
<rect x="147.48" y="319.86" width="6.37" height="5.42" fill="#f49d87"/>
<rect x="153.81" y="319.86" width="6.37" height="5.42" fill="#f49d87"/>
<rect x="160.13" y="319.86" width="6.37" height="5.42" fill="#f6b29f"/>
<rect x="168.45" y="319.86" width="6.37" height="5.42" fill="#c8c0e5"/>
<rect x="174.78" y="319.86" width="6.37" height="5.42" fill="#c8c0e5"/>
<rect x="181.10" y="319.86" width="6.37" height="5.42" fill="#c8c0e5"/>
<rect x="187.42" y="319.86" width="6.37" height="5.42" fill="#e1dcec"/>
<rect x="193.74" y="319.86" width="6.37" height="5.42" fill="#b8aede"/>
<rect x="200.07" y="319.86" width="6.37" height="5.42" fill="#d7d0e9"/>
<rect x="206.39" y="319.86" width="6.37" height="5.42" fill="#c0b7e1"/>
<rect x="214.71" y="319.86" width="6.37" height="5.42" fill="#b8aede"/>
<rect x="221.04" y="319.86" width="6.37" height="5.42" fill="#b8aede"/>
<rect x="227.36" y="319.86" width="6.37" height="5.42" fill="#c0b7e1"/>
<rect x="233.68" y="319.86" width="6.37" height="5.42" fill="#c0b7e1"/>
<rect x="6.70" y="325.23" width="6.37" height="5.42" fill="#b8aede"/>
<rect x="13.02" y="325.23" width="6.37" height="5.42" fill="#c0b7e1"/>
<rect x="21.35" y="325.23" width="6.37" height="5.42" fill="#b8aede"/>
<rect x="27.67" y="325.23" width="6.37" height="5.42" fill="#c0b7e1"/>
<rect x="33.99" y="325.23" width="6.37" height="5.42" fill="#aca0d8"/>
<rect x="40.31" y="325.23" width="6.37" height="5.42" fill="#c0b7e1"/>
<rect x="48.64" y="325.23" width="6.37" height="5.42" fill="#f3e0de"/>
<rect x="54.96" y="325.23" width="6.37" height="5.42" fill="#f3e0de"/>
<rect x="61.28" y="325.23" width="6.37" height="5.42" fill="#f3e0de"/>
<rect x="67.61" y="325.23" width="6.37" height="5.42" fill="#c8c0e5"/>
<rect x="73.93" y="325.23" width="6.37" height="5.42" fill="#f3e0de"/>
<rect x="82.25" y="325.23" width="6.37" height="5.42" fill="#c8c0e5"/>
<rect x="88.58" y="325.23" width="6.37" height="5.42" fill="#c8c0e5"/>
<rect x="94.90" y="325.23" width="6.37" height="5.42" fill="#f0ecf0"/>
<rect x="101.22" y="325.23" width="6.37" height="5.42" fill="#c0b7e1"/>
<rect x="107.55" y="325.23" width="6.37" height="5.42" fill="#f0ecf0"/>
<rect x="113.87" y="325.23" width="6.37" height="5.42" fill="#f3e0de"/>
<rect x="120.19" y="325.23" width="6.37" height="5.42" fill="#998dcf"/>
<rect x="128.51" y="325.23" width="6.37" height="5.42" fill="#f3e0de"/>
<rect x="134.84" y="325.23" width="6.37" height="5.42" fill="#f3e0de"/>
<rect x="141.16" y="325.23" width="6.37" height="5.42" fill="#d7d0e9"/>
<rect x="147.48" y="325.23" width="6.37" height="5.42" fill="#f0ecf0"/>
<rect x="153.81" y="325.23" width="6.37" height="5.42" fill="#d7d0e9"/>
<rect x="160.13" y="325.23" width="6.37" height="5.42" fill="#f3e0de"/>
<rect x="168.45" y="325.23" width="6.37" height="5.42" fill="#ec6152"/>
<rect x="174.78" y="325.23" width="6.37" height="5.42" fill="#ec6152"/>
<rect x="181.10" y="325.23" width="6.37" height="5.42" fill="#ee7261"/>
<rect x="187.42" y="325.23" width="6.37" height="5.42" fill="#ee7261"/>
<rect x="193.74" y="325.23" width="6.37" height="5.42" fill="#ee7261"/>
<rect x="200.07" y="325.23" width="6.37" height="5.42" fill="#ee7261"/>
<rect x="206.39" y="325.23" width="6.37" height="5.42" fill="#f18370"/>
<rect x="214.71" y="325.23" width="6.37" height="5.42" fill="#f6d9d2"/>
<rect x="221.04" y="325.23" width="6.37" height="5.42" fill="#c0b7e1"/>
<rect x="227.36" y="325.23" width="6.37" height="5.42" fill="#e1dcec"/>
<rect x="233.68" y="325.23" width="6.37" height="5.42" fill="#d7d0e9"/>
<rect x="6.70" y="332.60" width="6.37" height="5.42" fill="#f18370"/>
<rect x="13.02" y="332.60" width="6.37" height="5.42" fill="#f18370"/>
<rect x="21.35" y="332.60" width="6.37" height="5.42" fill="#f49d87"/>
<rect x="27.67" y="332.60" width="6.37" height="5.42" fill="#f8bfb0"/>
<rect x="33.99" y="332.60" width="6.37" height="5.42" fill="#f49d87"/>
<rect x="40.31" y="332.60" width="6.37" height="5.42" fill="#f6b29f"/>
<rect x="48.64" y="332.60" width="6.37" height="5.42" fill="#f3e0de"/>
<rect x="54.96" y="332.60" width="6.37" height="5.42" fill="#f9cdc0"/>
<rect x="61.28" y="332.60" width="6.37" height="5.42" fill="#f3e0de"/>
<rect x="67.61" y="332.60" width="6.37" height="5.42" fill="#e1dcec"/>
<rect x="73.93" y="332.60" width="6.37" height="5.42" fill="#f6d9d2"/>
<rect x="82.25" y="332.60" width="6.37" height="5.42" fill="#c8c0e5"/>
<rect x="88.58" y="332.60" width="6.37" height="5.42" fill="#f0ecf0"/>
<rect x="94.90" y="332.60" width="6.37" height="5.42" fill="#c0b7e1"/>
<rect x="101.22" y="332.60" width="6.37" height="5.42" fill="#aca0d8"/>
<rect x="107.55" y="332.60" width="6.37" height="5.42" fill="#c0b7e1"/>
<rect x="113.87" y="332.60" width="6.37" height="5.42" fill="#c8c0e5"/>
<rect x="120.19" y="332.60" width="6.37" height="5.42" fill="#f49d87"/>
<rect x="128.51" y="332.60" width="6.37" height="5.42" fill="#d7d0e9"/>
<rect x="134.84" y="332.60" width="6.37" height="5.42" fill="#b8aede"/>
<rect x="141.16" y="332.60" width="6.37" height="5.42" fill="#b8aede"/>
<rect x="147.48" y="332.60" width="6.37" height="5.42" fill="#d7d0e9"/>
<rect x="153.81" y="332.60" width="6.37" height="5.42" fill="#f0ecf0"/>
<rect x="160.13" y="332.60" width="6.37" height="5.42" fill="#c8c0e5"/>
<rect x="168.45" y="332.60" width="6.37" height="5.42" fill="#c8c0e5"/>
<rect x="174.78" y="332.60" width="6.37" height="5.42" fill="#c8c0e5"/>
<rect x="181.10" y="332.60" width="6.37" height="5.42" fill="#c8c0e5"/>
<rect x="187.42" y="332.60" width="6.37" height="5.42" fill="#d7d0e9"/>
<rect x="193.74" y="332.60" width="6.37" height="5.42" fill="#c8c0e5"/>
<rect x="200.07" y="332.60" width="6.37" height="5.42" fill="#d7d0e9"/>
<rect x="206.39" y="332.60" width="6.37" height="5.42" fill="#e1dcec"/>
<rect x="214.71" y="332.60" width="6.37" height="5.42" fill="#6e6ec1"/>
<rect x="221.04" y="332.60" width="6.37" height="5.42" fill="#5962ba"/>
<rect x="227.36" y="332.60" width="6.37" height="5.42" fill="#aca0d8"/>
<rect x="233.68" y="332.60" width="6.37" height="5.42" fill="#f3e0de"/>
<rect x="6.70" y="337.98" width="6.37" height="5.42" fill="#f8bfb0"/>
<rect x="13.02" y="337.98" width="6.37" height="5.42" fill="#f8bfb0"/>
<rect x="21.35" y="337.98" width="6.37" height="5.42" fill="#f8bfb0"/>
<rect x="27.67" y="337.98" width="6.37" height="5.42" fill="#f9cdc0"/>
<rect x="33.99" y="337.98" width="6.37" height="5.42" fill="#f3e0de"/>
<rect x="40.31" y="337.98" width="6.37" height="5.42" fill="#f9cdc0"/>
<rect x="48.64" y="337.98" width="6.37" height="5.42" fill="#f9cdc0"/>
<rect x="54.96" y="337.98" width="6.37" height="5.42" fill="#f9cdc0"/>
<rect x="61.28" y="337.98" width="6.37" height="5.42" fill="#f3e0de"/>
<rect x="67.61" y="337.98" width="6.37" height="5.42" fill="#f3e0de"/>
<rect x="73.93" y="337.98" width="6.37" height="5.42" fill="#f9cdc0"/>
<rect x="82.25" y="337.98" width="6.37" height="5.42" fill="#c8c0e5"/>
<rect x="88.58" y="337.98" width="6.37" height="5.42" fill="#c0b7e1"/>
<rect x="94.90" y="337.98" width="6.37" height="5.42" fill="#d7d0e9"/>
<rect x="101.22" y="337.98" width="6.37" height="5.42" fill="#c0b7e1"/>
<rect x="107.55" y="337.98" width="6.37" height="5.42" fill="#c0b7e1"/>
<rect x="113.87" y="337.98" width="6.37" height="5.42" fill="#c0b7e1"/>
<rect x="120.19" y="337.98" width="6.37" height="5.42" fill="#d7d0e9"/>
<rect x="128.51" y="337.98" width="6.37" height="5.42" fill="#f6b29f"/>
<rect x="134.84" y="337.98" width="6.37" height="5.42" fill="#f8bfb0"/>
<rect x="141.16" y="337.98" width="6.37" height="5.42" fill="#f6b29f"/>
<rect x="147.48" y="337.98" width="6.37" height="5.42" fill="#f9cdc0"/>
<rect x="153.81" y="337.98" width="6.37" height="5.42" fill="#f3e0de"/>
<rect x="160.13" y="337.98" width="6.37" height="5.42" fill="#f6d9d2"/>
<rect x="168.45" y="337.98" width="6.37" height="5.42" fill="#f6b29f"/>
<rect x="174.78" y="337.98" width="6.37" height="5.42" fill="#f49d87"/>
<rect x="181.10" y="337.98" width="6.37" height="5.42" fill="#f49d87"/>
<rect x="187.42" y="337.98" width="6.37" height="5.42" fill="#f8bfb0"/>
<rect x="193.74" y="337.98" width="6.37" height="5.42" fill="#f6b29f"/>
<rect x="200.07" y="337.98" width="6.37" height="5.42" fill="#f8bfb0"/>
<rect x="206.39" y="337.98" width="6.37" height="5.42" fill="#f9cdc0"/>
<rect x="214.71" y="337.98" width="6.37" height="5.42" fill="#aca0d8"/>
<rect x="221.04" y="337.98" width="6.37" height="5.42" fill="#aca0d8"/>
<rect x="227.36" y="337.98" width="6.37" height="5.42" fill="#aca0d8"/>
<rect x="233.68" y="337.98" width="6.37" height="5.42" fill="#6e6ec1"/>
<rect x="6.70" y="343.35" width="6.37" height="5.42" fill="#f8bfb0"/>
<rect x="13.02" y="343.35" width="6.37" height="5.42" fill="#f9cdc0"/>
<rect x="21.35" y="343.35" width="6.37" height="5.42" fill="#f9cdc0"/>
<rect x="27.67" y="343.35" width="6.37" height="5.42" fill="#f6d9d2"/>
<rect x="33.99" y="343.35" width="6.37" height="5.42" fill="#d7d0e9"/>
<rect x="40.31" y="343.35" width="6.37" height="5.42" fill="#f3e0de"/>
<rect x="48.64" y="343.35" width="6.37" height="5.42" fill="#f3e0de"/>
<rect x="54.96" y="343.35" width="6.37" height="5.42" fill="#f6d9d2"/>
<rect x="61.28" y="343.35" width="6.37" height="5.42" fill="#ee7261"/>
<rect x="67.61" y="343.35" width="6.37" height="5.42" fill="#f3e0de"/>
<rect x="73.93" y="343.35" width="6.37" height="5.42" fill="#f6b29f"/>
<rect x="82.25" y="343.35" width="6.37" height="5.42" fill="#f49d87"/>
<rect x="88.58" y="343.35" width="6.37" height="5.42" fill="#f9cdc0"/>
<rect x="94.90" y="343.35" width="6.37" height="5.42" fill="#f49d87"/>
<rect x="101.22" y="343.35" width="6.37" height="5.42" fill="#ec6152"/>
<rect x="107.55" y="343.35" width="6.37" height="5.42" fill="#f6b29f"/>
<rect x="113.87" y="343.35" width="6.37" height="5.42" fill="#f9cdc0"/>
<rect x="120.19" y="343.35" width="6.37" height="5.42" fill="#ec6152"/>
<rect x="128.51" y="343.35" width="6.37" height="5.42" fill="#f3e0de"/>
<rect x="134.84" y="343.35" width="6.37" height="5.42" fill="#f9cdc0"/>
<rect x="141.16" y="343.35" width="6.37" height="5.42" fill="#f3e0de"/>
<rect x="147.48" y="343.35" width="6.37" height="5.42" fill="#f3e0de"/>
<rect x="153.81" y="343.35" width="6.37" height="5.42" fill="#f9cdc0"/>
<rect x="160.13" y="343.35" width="6.37" height="5.42" fill="#f9cdc0"/>
<rect x="168.45" y="343.35" width="6.37" height="5.42" fill="#b8aede"/>
<rect x="174.78" y="343.35" width="6.37" height="5.42" fill="#b8aede"/>
<rect x="181.10" y="343.35" width="6.37" height="5.42" fill="#c0b7e1"/>
<rect x="187.42" y="343.35" width="6.37" height="5.42" fill="#d7d0e9"/>
<rect x="193.74" y="343.35" width="6.37" height="5.42" fill="#c0b7e1"/>
<rect x="200.07" y="343.35" width="6.37" height="5.42" fill="#e1dcec"/>
<rect x="206.39" y="343.35" width="6.37" height="5.42" fill="#d7d0e9"/>
<rect x="214.71" y="343.35" width="6.37" height="5.42" fill="#aca0d8"/>
<rect x="221.04" y="343.35" width="6.37" height="5.42" fill="#6e6ec1"/>
<rect x="227.36" y="343.35" width="6.37" height="5.42" fill="#aca0d8"/>
<rect x="233.68" y="343.35" width="6.37" height="5.42" fill="#6e6ec1"/>
<rect x="6.70" y="348.72" width="6.37" height="5.42" fill="#f49d87"/>
<rect x="13.02" y="348.72" width="6.37" height="5.42" fill="#f49d87"/>
<rect x="21.35" y="348.72" width="6.37" height="5.42" fill="#f49d87"/>
<rect x="27.67" y="348.72" width="6.37" height="5.42" fill="#f49d87"/>
<rect x="33.99" y="348.72" width="6.37" height="5.42" fill="#f49d87"/>
<rect x="40.31" y="348.72" width="6.37" height="5.42" fill="#f49d87"/>
<rect x="48.64" y="348.72" width="6.37" height="5.42" fill="#b8aede"/>
<rect x="54.96" y="348.72" width="6.37" height="5.42" fill="#b8aede"/>
<rect x="61.28" y="348.72" width="6.37" height="5.42" fill="#c0b7e1"/>
<rect x="67.61" y="348.72" width="6.37" height="5.42" fill="#b8aede"/>
<rect x="73.93" y="348.72" width="6.37" height="5.42" fill="#c0b7e1"/>
<rect x="82.25" y="348.72" width="6.37" height="5.42" fill="#c0b7e1"/>
<rect x="88.58" y="348.72" width="6.37" height="5.42" fill="#c8c0e5"/>
<rect x="94.90" y="348.72" width="6.37" height="5.42" fill="#f0ecf0"/>
<rect x="101.22" y="348.72" width="6.37" height="5.42" fill="#c0b7e1"/>
<rect x="107.55" y="348.72" width="6.37" height="5.42" fill="#c8c0e5"/>
<rect x="113.87" y="348.72" width="6.37" height="5.42" fill="#f0ecf0"/>
<rect x="120.19" y="348.72" width="6.37" height="5.42" fill="#c0b7e1"/>
<rect x="128.51" y="348.72" width="6.37" height="5.42" fill="#aca0d8"/>
<rect x="134.84" y="348.72" width="6.37" height="5.42" fill="#aca0d8"/>
<rect x="141.16" y="348.72" width="6.37" height="5.42" fill="#aca0d8"/>
<rect x="147.48" y="348.72" width="6.37" height="5.42" fill="#c0b7e1"/>
<rect x="153.81" y="348.72" width="6.37" height="5.42" fill="#c0b7e1"/>
<rect x="160.13" y="348.72" width="6.37" height="5.42" fill="#b8aede"/>
<rect x="168.45" y="348.72" width="6.37" height="5.42" fill="#aca0d8"/>
<rect x="174.78" y="348.72" width="6.37" height="5.42" fill="#aca0d8"/>
<rect x="181.10" y="348.72" width="6.37" height="5.42" fill="#b8aede"/>
<rect x="187.42" y="348.72" width="6.37" height="5.42" fill="#f0ecf0"/>
<rect x="193.74" y="348.72" width="6.37" height="5.42" fill="#aca0d8"/>
<rect x="200.07" y="348.72" width="6.37" height="5.42" fill="#d7d0e9"/>
<rect x="206.39" y="348.72" width="6.37" height="5.42" fill="#c0b7e1"/>
<rect x="214.71" y="348.72" width="6.37" height="5.42" fill="#aca0d8"/>
<rect x="221.04" y="348.72" width="6.37" height="5.42" fill="#aca0d8"/>
<rect x="227.36" y="348.72" width="6.37" height="5.42" fill="#b4a9dc"/>
<rect x="233.68" y="348.72" width="6.37" height="5.42" fill="#b4a9dc"/>
<rect x="6.70" y="354.10" width="6.37" height="5.42" fill="#f6b29f"/>
<rect x="13.02" y="354.10" width="6.37" height="5.42" fill="#f8bfb0"/>
<rect x="21.35" y="354.10" width="6.37" height="5.42" fill="#f8bfb0"/>
<rect x="27.67" y="354.10" width="6.37" height="5.42" fill="#f8bfb0"/>
<rect x="33.99" y="354.10" width="6.37" height="5.42" fill="#f8bfb0"/>
<rect x="40.31" y="354.10" width="6.37" height="5.42" fill="#f9cdc0"/>
<rect x="48.64" y="354.10" width="6.37" height="5.42" fill="#f3e0de"/>
<rect x="54.96" y="354.10" width="6.37" height="5.42" fill="#f9cdc0"/>
<rect x="61.28" y="354.10" width="6.37" height="5.42" fill="#f3e0de"/>
<rect x="67.61" y="354.10" width="6.37" height="5.42" fill="#f8bfb0"/>
<rect x="73.93" y="354.10" width="6.37" height="5.42" fill="#f3e0de"/>
<rect x="82.25" y="354.10" width="6.37" height="5.42" fill="#f49d87"/>
<rect x="88.58" y="354.10" width="6.37" height="5.42" fill="#f8bfb0"/>
<rect x="94.90" y="354.10" width="6.37" height="5.42" fill="#f8bfb0"/>
<rect x="101.22" y="354.10" width="6.37" height="5.42" fill="#f9cdc0"/>
<rect x="107.55" y="354.10" width="6.37" height="5.42" fill="#f3e0de"/>
<rect x="113.87" y="354.10" width="6.37" height="5.42" fill="#f9cdc0"/>
<rect x="120.19" y="354.10" width="6.37" height="5.42" fill="#f3e0de"/>
<rect x="128.51" y="354.10" width="6.37" height="5.42" fill="#f0ecf0"/>
<rect x="134.84" y="354.10" width="6.37" height="5.42" fill="#f3e0de"/>
<rect x="141.16" y="354.10" width="6.37" height="5.42" fill="#d7d0e9"/>
<rect x="147.48" y="354.10" width="6.37" height="5.42" fill="#f3e0de"/>
<rect x="153.81" y="354.10" width="6.37" height="5.42" fill="#f9cdc0"/>
<rect x="160.13" y="354.10" width="6.37" height="5.42" fill="#f0ecf0"/>
<rect x="168.45" y="354.10" width="6.37" height="5.42" fill="#a094d2"/>
<rect x="174.78" y="354.10" width="6.37" height="5.42" fill="#aca0d8"/>
<rect x="181.10" y="354.10" width="6.37" height="5.42" fill="#998dcf"/>
<rect x="187.42" y="354.10" width="6.37" height="5.42" fill="#aca0d8"/>
<rect x="193.74" y="354.10" width="6.37" height="5.42" fill="#aca0d8"/>
<rect x="200.07" y="354.10" width="6.37" height="5.42" fill="#b8aede"/>
<rect x="206.39" y="354.10" width="6.37" height="5.42" fill="#7f79c6"/>
<rect x="214.71" y="354.10" width="6.37" height="5.42" fill="#a094d2"/>
<rect x="221.04" y="354.10" width="6.37" height="5.42" fill="#a094d2"/>
<rect x="227.36" y="354.10" width="6.37" height="5.42" fill="#a094d2"/>
<rect x="233.68" y="354.10" width="6.37" height="5.42" fill="#7f79c6"/>
<rect x="6.70" y="361.47" width="6.37" height="5.42" fill="#998dcf"/>
<rect x="13.02" y="361.47" width="6.37" height="5.42" fill="#a094d2"/>
<rect x="21.35" y="361.47" width="6.37" height="5.42" fill="#f6d9d2"/>
<rect x="27.67" y="361.47" width="6.37" height="5.42" fill="#f3e0de"/>
<rect x="33.99" y="361.47" width="6.37" height="5.42" fill="#f0ecf0"/>
<rect x="40.31" y="361.47" width="6.37" height="5.42" fill="#f9cdc0"/>
<rect x="48.64" y="361.47" width="6.37" height="5.42" fill="#f49d87"/>
<rect x="54.96" y="361.47" width="6.37" height="5.42" fill="#f49d87"/>
<rect x="61.28" y="361.47" width="6.37" height="5.42" fill="#f49d87"/>
<rect x="67.61" y="361.47" width="6.37" height="5.42" fill="#f49d87"/>
<rect x="73.93" y="361.47" width="6.37" height="5.42" fill="#f49d87"/>
<rect x="82.25" y="361.47" width="6.37" height="5.42" fill="#f49d87"/>
<rect x="88.58" y="361.47" width="6.37" height="5.42" fill="#f49d87"/>
<rect x="94.90" y="361.47" width="6.37" height="5.42" fill="#f49d87"/>
<rect x="101.22" y="361.47" width="6.37" height="5.42" fill="#f49d87"/>
<rect x="107.55" y="361.47" width="6.37" height="5.42" fill="#f6b29f"/>
<rect x="113.87" y="361.47" width="6.37" height="5.42" fill="#ee7261"/>
<rect x="120.19" y="361.47" width="6.37" height="5.42" fill="#f49d87"/>
<rect x="128.51" y="361.47" width="6.37" height="5.42" fill="#f49d87"/>
<rect x="134.84" y="361.47" width="6.37" height="5.42" fill="#f49d87"/>
<rect x="141.16" y="361.47" width="6.37" height="5.42" fill="#f49d87"/>
<rect x="147.48" y="361.47" width="6.37" height="5.42" fill="#f49d87"/>
<rect x="153.81" y="361.47" width="6.37" height="5.42" fill="#f6b29f"/>
<rect x="160.13" y="361.47" width="6.37" height="5.42" fill="#f6b29f"/>
<rect x="168.45" y="361.47" width="6.37" height="5.42" fill="#c0b7e1"/>
<rect x="174.78" y="361.47" width="6.37" height="5.42" fill="#c0b7e1"/>
<rect x="181.10" y="361.47" width="6.37" height="5.42" fill="#c0b7e1"/>
<rect x="187.42" y="361.47" width="6.37" height="5.42" fill="#e1dcec"/>
<rect x="193.74" y="361.47" width="6.37" height="5.42" fill="#c0b7e1"/>
<rect x="200.07" y="361.47" width="6.37" height="5.42" fill="#c8c0e5"/>
<rect x="206.39" y="361.47" width="6.37" height="5.42" fill="#c8c0e5"/>
<rect x="214.71" y="361.47" width="6.37" height="5.42" fill="#c0b7e1"/>
<rect x="221.04" y="361.47" width="6.37" height="5.42" fill="#c0b7e1"/>
<rect x="227.36" y="361.47" width="6.37" height="5.42" fill="#c0b7e1"/>
<rect x="233.68" y="361.47" width="6.37" height="5.42" fill="#c0b7e1"/>
<rect x="6.70" y="366.84" width="6.37" height="5.42" fill="#aca0d8"/>
<rect x="13.02" y="366.84" width="6.37" height="5.42" fill="#998dcf"/>
<rect x="21.35" y="366.84" width="6.37" height="5.42" fill="#c0b7e1"/>
<rect x="27.67" y="366.84" width="6.37" height="5.42" fill="#c0b7e1"/>
<rect x="33.99" y="366.84" width="6.37" height="5.42" fill="#c0b7e1"/>
<rect x="40.31" y="366.84" width="6.37" height="5.42" fill="#d7d0e9"/>
<rect x="48.64" y="366.84" width="6.37" height="5.42" fill="#f3e0de"/>
<rect x="54.96" y="366.84" width="6.37" height="5.42" fill="#f3e0de"/>
<rect x="61.28" y="366.84" width="6.37" height="5.42" fill="#f3e0de"/>
<rect x="67.61" y="366.84" width="6.37" height="5.42" fill="#f0ecf0"/>
<rect x="73.93" y="366.84" width="6.37" height="5.42" fill="#f0ecf0"/>
<rect x="82.25" y="366.84" width="6.37" height="5.42" fill="#c8c0e5"/>
<rect x="88.58" y="366.84" width="6.37" height="5.42" fill="#c8c0e5"/>
<rect x="94.90" y="366.84" width="6.37" height="5.42" fill="#c8c0e5"/>
<rect x="101.22" y="366.84" width="6.37" height="5.42" fill="#b8aede"/>
<rect x="107.55" y="366.84" width="6.37" height="5.42" fill="#e1dcec"/>
<rect x="113.87" y="366.84" width="6.37" height="5.42" fill="#f3e0de"/>
<rect x="120.19" y="366.84" width="6.37" height="5.42" fill="#6266be"/>
<rect x="128.51" y="366.84" width="6.37" height="5.42" fill="#f8bfb0"/>
<rect x="134.84" y="366.84" width="6.37" height="5.42" fill="#f8bfb0"/>
<rect x="141.16" y="366.84" width="6.37" height="5.42" fill="#f9cdc0"/>
<rect x="147.48" y="366.84" width="6.37" height="5.42" fill="#f8bfb0"/>
<rect x="153.81" y="366.84" width="6.37" height="5.42" fill="#f9cdc0"/>
<rect x="160.13" y="366.84" width="6.37" height="5.42" fill="#f9cdc0"/>
<rect x="168.45" y="366.84" width="6.37" height="5.42" fill="#f49d87"/>
<rect x="174.78" y="366.84" width="6.37" height="5.42" fill="#f6b29f"/>
<rect x="181.10" y="366.84" width="6.37" height="5.42" fill="#f6b29f"/>
<rect x="187.42" y="366.84" width="6.37" height="5.42" fill="#f6b29f"/>
<rect x="193.74" y="366.84" width="6.37" height="5.42" fill="#f6b29f"/>
<rect x="200.07" y="366.84" width="6.37" height="5.42" fill="#f6b29f"/>
<rect x="206.39" y="366.84" width="6.37" height="5.42" fill="#f18370"/>
<rect x="214.71" y="366.84" width="6.37" height="5.42" fill="#ee7261"/>
<rect x="221.04" y="366.84" width="6.37" height="5.42" fill="#ee7261"/>
<rect x="227.36" y="366.84" width="6.37" height="5.42" fill="#ee7261"/>
<rect x="233.68" y="366.84" width="6.37" height="5.42" fill="#f6b29f"/>
<rect x="6.70" y="372.21" width="6.37" height="5.42" fill="#aca0d8"/>
<rect x="13.02" y="372.21" width="6.37" height="5.42" fill="#aca0d8"/>
<rect x="21.35" y="372.21" width="6.37" height="5.42" fill="#f0ecf0"/>
<rect x="27.67" y="372.21" width="6.37" height="5.42" fill="#d7d0e9"/>
<rect x="33.99" y="372.21" width="6.37" height="5.42" fill="#f0ecf0"/>
<rect x="40.31" y="372.21" width="6.37" height="5.42" fill="#d7d0e9"/>
<rect x="48.64" y="372.21" width="6.37" height="5.42" fill="#c8c0e5"/>
<rect x="54.96" y="372.21" width="6.37" height="5.42" fill="#c0b7e1"/>
<rect x="61.28" y="372.21" width="6.37" height="5.42" fill="#c0b7e1"/>
<rect x="67.61" y="372.21" width="6.37" height="5.42" fill="#c0b7e1"/>
<rect x="73.93" y="372.21" width="6.37" height="5.42" fill="#c8c0e5"/>
<rect x="82.25" y="372.21" width="6.37" height="5.42" fill="#c8c0e5"/>
<rect x="88.58" y="372.21" width="6.37" height="5.42" fill="#c0b7e1"/>
<rect x="94.90" y="372.21" width="6.37" height="5.42" fill="#c0b7e1"/>
<rect x="101.22" y="372.21" width="6.37" height="5.42" fill="#aca0d8"/>
<rect x="107.55" y="372.21" width="6.37" height="5.42" fill="#c0b7e1"/>
<rect x="113.87" y="372.21" width="6.37" height="5.42" fill="#f8bfb0"/>
<rect x="120.19" y="372.21" width="6.37" height="5.42" fill="#c8c0e5"/>
<rect x="128.51" y="372.21" width="6.37" height="5.42" fill="#f6d9d2"/>
<rect x="134.84" y="372.21" width="6.37" height="5.42" fill="#f6d9d2"/>
<rect x="141.16" y="372.21" width="6.37" height="5.42" fill="#f0ecf0"/>
<rect x="147.48" y="372.21" width="6.37" height="5.42" fill="#f6d9d2"/>
<rect x="153.81" y="372.21" width="6.37" height="5.42" fill="#f6d9d2"/>
<rect x="160.13" y="372.21" width="6.37" height="5.42" fill="#f0ecf0"/>
<rect x="168.45" y="372.21" width="6.37" height="5.42" fill="#f8bfb0"/>
<rect x="174.78" y="372.21" width="6.37" height="5.42" fill="#f8bfb0"/>
<rect x="181.10" y="372.21" width="6.37" height="5.42" fill="#f8bfb0"/>
<rect x="187.42" y="372.21" width="6.37" height="5.42" fill="#f8bfb0"/>
<rect x="193.74" y="372.21" width="6.37" height="5.42" fill="#f8bfb0"/>
<rect x="200.07" y="372.21" width="6.37" height="5.42" fill="#f8bfb0"/>
<rect x="206.39" y="372.21" width="6.37" height="5.42" fill="#f0ecf0"/>
<rect x="214.71" y="372.21" width="6.37" height="5.42" fill="#f49d87"/>
<rect x="221.04" y="372.21" width="6.37" height="5.42" fill="#e95247"/>
<rect x="227.36" y="372.21" width="6.37" height="5.42" fill="#e95247"/>
<rect x="233.68" y="372.21" width="6.37" height="5.42" fill="#f6b29f"/>
<rect x="6.70" y="377.59" width="6.37" height="5.42" fill="#aca0d8"/>
<rect x="13.02" y="377.59" width="6.37" height="5.42" fill="#aca0d8"/>
<rect x="21.35" y="377.59" width="6.37" height="5.42" fill="#aca0d8"/>
<rect x="27.67" y="377.59" width="6.37" height="5.42" fill="#b8aede"/>
<rect x="33.99" y="377.59" width="6.37" height="5.42" fill="#aca0d8"/>
<rect x="40.31" y="377.59" width="6.37" height="5.42" fill="#aca0d8"/>
<rect x="48.64" y="377.59" width="6.37" height="5.42" fill="#f0ecf0"/>
<rect x="54.96" y="377.59" width="6.37" height="5.42" fill="#f3e0de"/>
<rect x="61.28" y="377.59" width="6.37" height="5.42" fill="#f3e0de"/>
<rect x="67.61" y="377.59" width="6.37" height="5.42" fill="#f6d9d2"/>
<rect x="73.93" y="377.59" width="6.37" height="5.42" fill="#f0ecf0"/>
<rect x="82.25" y="377.59" width="6.37" height="5.42" fill="#aca0d8"/>
<rect x="88.58" y="377.59" width="6.37" height="5.42" fill="#aca0d8"/>
<rect x="94.90" y="377.59" width="6.37" height="5.42" fill="#c0b7e1"/>
<rect x="101.22" y="377.59" width="6.37" height="5.42" fill="#aca0d8"/>
<rect x="107.55" y="377.59" width="6.37" height="5.42" fill="#c0b7e1"/>
<rect x="113.87" y="377.59" width="6.37" height="5.42" fill="#d7d0e9"/>
<rect x="120.19" y="377.59" width="6.37" height="5.42" fill="#6266be"/>
<rect x="128.51" y="377.59" width="6.37" height="5.42" fill="#f9cdc0"/>
<rect x="134.84" y="377.59" width="6.37" height="5.42" fill="#f8bfb0"/>
<rect x="141.16" y="377.59" width="6.37" height="5.42" fill="#f8bfb0"/>
<rect x="147.48" y="377.59" width="6.37" height="5.42" fill="#f9cdc0"/>
<rect x="153.81" y="377.59" width="6.37" height="5.42" fill="#f6d9d2"/>
<rect x="160.13" y="377.59" width="6.37" height="5.42" fill="#f6d9d2"/>
<rect x="168.45" y="377.59" width="6.37" height="5.42" fill="#f49d87"/>
<rect x="174.78" y="377.59" width="6.37" height="5.42" fill="#f6b29f"/>
<rect x="181.10" y="377.59" width="6.37" height="5.42" fill="#f6b29f"/>
<rect x="187.42" y="377.59" width="6.37" height="5.42" fill="#f6b29f"/>
<rect x="193.74" y="377.59" width="6.37" height="5.42" fill="#f6b29f"/>
<rect x="200.07" y="377.59" width="6.37" height="5.42" fill="#f6b29f"/>
<rect x="206.39" y="377.59" width="6.37" height="5.42" fill="#f49d87"/>
<rect x="214.71" y="377.59" width="6.37" height="5.42" fill="#f6b29f"/>
<rect x="221.04" y="377.59" width="6.37" height="5.42" fill="#f6b29f"/>
<rect x="227.36" y="377.59" width="6.37" height="5.42" fill="#f49d87"/>
<rect x="233.68" y="377.59" width="6.37" height="5.42" fill="#f8bfb0"/>
<rect x="6.70" y="382.96" width="6.37" height="5.42" fill="#aca0d8"/>
<rect x="13.02" y="382.96" width="6.37" height="5.42" fill="#a094d2"/>
<rect x="21.35" y="382.96" width="6.37" height="5.42" fill="#c0b7e1"/>
<rect x="27.67" y="382.96" width="6.37" height="5.42" fill="#aca0d8"/>
<rect x="33.99" y="382.96" width="6.37" height="5.42" fill="#aca0d8"/>
<rect x="40.31" y="382.96" width="6.37" height="5.42" fill="#b8aede"/>
<rect x="48.64" y="382.96" width="6.37" height="5.42" fill="#f3e0de"/>
<rect x="54.96" y="382.96" width="6.37" height="5.42" fill="#f6d9d2"/>
<rect x="61.28" y="382.96" width="6.37" height="5.42" fill="#f3e0de"/>
<rect x="67.61" y="382.96" width="6.37" height="5.42" fill="#d7d0e9"/>
<rect x="73.93" y="382.96" width="6.37" height="5.42" fill="#f3e0de"/>
<rect x="82.25" y="382.96" width="6.37" height="5.42" fill="#aca0d8"/>
<rect x="88.58" y="382.96" width="6.37" height="5.42" fill="#c0b7e1"/>
<rect x="94.90" y="382.96" width="6.37" height="5.42" fill="#aca0d8"/>
<rect x="101.22" y="382.96" width="6.37" height="5.42" fill="#b8aede"/>
<rect x="107.55" y="382.96" width="6.37" height="5.42" fill="#aca0d8"/>
<rect x="113.87" y="382.96" width="6.37" height="5.42" fill="#d7d0e9"/>
<rect x="120.19" y="382.96" width="6.37" height="5.42" fill="#c8c0e5"/>
<rect x="128.51" y="382.96" width="6.37" height="5.42" fill="#f8bfb0"/>
<rect x="134.84" y="382.96" width="6.37" height="5.42" fill="#f6b29f"/>
<rect x="141.16" y="382.96" width="6.37" height="5.42" fill="#f49d87"/>
<rect x="147.48" y="382.96" width="6.37" height="5.42" fill="#f8bfb0"/>
<rect x="153.81" y="382.96" width="6.37" height="5.42" fill="#f6d9d2"/>
<rect x="160.13" y="382.96" width="6.37" height="5.42" fill="#f3e0de"/>
<rect x="168.45" y="382.96" width="6.37" height="5.42" fill="#f49d87"/>
<rect x="174.78" y="382.96" width="6.37" height="5.42" fill="#f18370"/>
<rect x="181.10" y="382.96" width="6.37" height="5.42" fill="#f49d87"/>
<rect x="187.42" y="382.96" width="6.37" height="5.42" fill="#f49d87"/>
<rect x="193.74" y="382.96" width="6.37" height="5.42" fill="#f49d87"/>
<rect x="200.07" y="382.96" width="6.37" height="5.42" fill="#f18370"/>
<rect x="206.39" y="382.96" width="6.37" height="5.42" fill="#f49d87"/>
<rect x="214.71" y="382.96" width="6.37" height="5.42" fill="#f3e0de"/>
<rect x="221.04" y="382.96" width="6.37" height="5.42" fill="#c0b7e1"/>
<rect x="227.36" y="382.96" width="6.37" height="5.42" fill="#f0ecf0"/>
<rect x="233.68" y="382.96" width="6.37" height="5.42" fill="#f0ecf0"/>
<rect x="6.70" y="388.33" width="6.37" height="5.42" fill="#998dcf"/>
<rect x="13.02" y="388.33" width="6.37" height="5.42" fill="#998dcf"/>
<rect x="21.35" y="388.33" width="6.37" height="5.42" fill="#e1dcec"/>
<rect x="27.67" y="388.33" width="6.37" height="5.42" fill="#f0ecf0"/>
<rect x="33.99" y="388.33" width="6.37" height="5.42" fill="#a094d2"/>
<rect x="40.31" y="388.33" width="6.37" height="5.42" fill="#c8c0e5"/>
<rect x="48.64" y="388.33" width="6.37" height="5.42" fill="#f3e0de"/>
<rect x="54.96" y="388.33" width="6.37" height="5.42" fill="#f3e0de"/>
<rect x="61.28" y="388.33" width="6.37" height="5.42" fill="#f3e0de"/>
<rect x="67.61" y="388.33" width="6.37" height="5.42" fill="#d7d0e9"/>
<rect x="73.93" y="388.33" width="6.37" height="5.42" fill="#f3e0de"/>
<rect x="82.25" y="388.33" width="6.37" height="5.42" fill="#c8c0e5"/>
<rect x="88.58" y="388.33" width="6.37" height="5.42" fill="#aca0d8"/>
<rect x="94.90" y="388.33" width="6.37" height="5.42" fill="#c0b7e1"/>
<rect x="101.22" y="388.33" width="6.37" height="5.42" fill="#c0b7e1"/>
<rect x="107.55" y="388.33" width="6.37" height="5.42" fill="#aca0d8"/>
<rect x="113.87" y="388.33" width="6.37" height="5.42" fill="#aca0d8"/>
<rect x="120.19" y="388.33" width="6.37" height="5.42" fill="#d7d0e9"/>
<rect x="128.51" y="388.33" width="6.37" height="5.42" fill="#f6d9d2"/>
<rect x="134.84" y="388.33" width="6.37" height="5.42" fill="#f6d9d2"/>
<rect x="141.16" y="388.33" width="6.37" height="5.42" fill="#f9cdc0"/>
<rect x="147.48" y="388.33" width="6.37" height="5.42" fill="#f6d9d2"/>
<rect x="153.81" y="388.33" width="6.37" height="5.42" fill="#f3e0de"/>
<rect x="160.13" y="388.33" width="6.37" height="5.42" fill="#f3e0de"/>
<rect x="168.45" y="388.33" width="6.37" height="5.42" fill="#f8bfb0"/>
<rect x="174.78" y="388.33" width="6.37" height="5.42" fill="#f8bfb0"/>
<rect x="181.10" y="388.33" width="6.37" height="5.42" fill="#f8bfb0"/>
<rect x="187.42" y="388.33" width="6.37" height="5.42" fill="#f8bfb0"/>
<rect x="193.74" y="388.33" width="6.37" height="5.42" fill="#f8bfb0"/>
<rect x="200.07" y="388.33" width="6.37" height="5.42" fill="#f8bfb0"/>
<rect x="206.39" y="388.33" width="6.37" height="5.42" fill="#f9cdc0"/>
<rect x="214.71" y="388.33" width="6.37" height="5.42" fill="#e95247"/>
<rect x="221.04" y="388.33" width="6.37" height="5.42" fill="#ee7261"/>
<rect x="227.36" y="388.33" width="6.37" height="5.42" fill="#ee7261"/>
<rect x="233.68" y="388.33" width="6.37" height="5.42" fill="#f8bfb0"/>
<rect x="6.70" y="395.71" width="6.37" height="5.42" fill="#c0b7e1"/>
<rect x="13.02" y="395.71" width="6.37" height="5.42" fill="#c0b7e1"/>
<rect x="21.35" y="395.71" width="6.37" height="5.42" fill="#c0b7e1"/>
<rect x="27.67" y="395.71" width="6.37" height="5.42" fill="#c0b7e1"/>
<rect x="33.99" y="395.71" width="6.37" height="5.42" fill="#d7d0e9"/>
<rect x="40.31" y="395.71" width="6.37" height="5.42" fill="#f3e0de"/>
<rect x="48.64" y="395.71" width="6.37" height="5.42" fill="#f0ecf0"/>
<rect x="54.96" y="395.71" width="6.37" height="5.42" fill="#f9cdc0"/>
<rect x="61.28" y="395.71" width="6.37" height="5.42" fill="#c8c0e5"/>
<rect x="67.61" y="395.71" width="6.37" height="5.42" fill="#c8c0e5"/>
<rect x="73.93" y="395.71" width="6.37" height="5.42" fill="#c8c0e5"/>
<rect x="82.25" y="395.71" width="6.37" height="5.42" fill="#f9cdc0"/>
<rect x="88.58" y="395.71" width="6.37" height="5.42" fill="#f6d9d2"/>
<rect x="94.90" y="395.71" width="6.37" height="5.42" fill="#c8c0e5"/>
<rect x="101.22" y="395.71" width="6.37" height="5.42" fill="#c8c0e5"/>
<rect x="107.55" y="395.71" width="6.37" height="5.42" fill="#f9cdc0"/>
<rect x="113.87" y="395.71" width="6.37" height="5.42" fill="#c8c0e5"/>
<rect x="120.19" y="395.71" width="6.37" height="5.42" fill="#c8c0e5"/>
<rect x="128.51" y="395.71" width="6.37" height="5.42" fill="#f0ecf0"/>
<rect x="134.84" y="395.71" width="6.37" height="5.42" fill="#c8c0e5"/>
<rect x="141.16" y="395.71" width="6.37" height="5.42" fill="#c8c0e5"/>
<rect x="147.48" y="395.71" width="6.37" height="5.42" fill="#c8c0e5"/>
<rect x="153.81" y="395.71" width="6.37" height="5.42" fill="#f9cdc0"/>
<rect x="160.13" y="395.71" width="6.37" height="5.42" fill="#f0ecf0"/>
<rect x="168.45" y="395.71" width="6.37" height="5.42" fill="#c8c0e5"/>
<rect x="174.78" y="395.71" width="6.37" height="5.42" fill="#f6d9d2"/>
<rect x="181.10" y="395.71" width="6.37" height="5.42" fill="#c8c0e5"/>
<rect x="187.42" y="395.71" width="6.37" height="5.42" fill="#c8c0e5"/>
<rect x="193.74" y="395.71" width="6.37" height="5.42" fill="#f6d9d2"/>
<rect x="200.07" y="395.71" width="6.37" height="5.42" fill="#c8c0e5"/>
<rect x="206.39" y="395.71" width="6.37" height="5.42" fill="#d7d0e9"/>
<rect x="214.71" y="395.71" width="6.37" height="5.42" fill="#e95247"/>
<rect x="221.04" y="395.71" width="6.37" height="5.42" fill="#e95247"/>
<rect x="227.36" y="395.71" width="6.37" height="5.42" fill="#e95247"/>
<rect x="233.68" y="395.71" width="6.37" height="5.42" fill="#f18370"/>
<rect x="6.70" y="401.08" width="6.37" height="5.42" fill="#c0b7e1"/>
<rect x="13.02" y="401.08" width="6.37" height="5.42" fill="#c8c0e5"/>
<rect x="21.35" y="401.08" width="6.37" height="5.42" fill="#c0b7e1"/>
<rect x="27.67" y="401.08" width="6.37" height="5.42" fill="#c8c0e5"/>
<rect x="33.99" y="401.08" width="6.37" height="5.42" fill="#c0b7e1"/>
<rect x="40.31" y="401.08" width="6.37" height="5.42" fill="#c8c0e5"/>
<rect x="48.64" y="401.08" width="6.37" height="5.42" fill="#f0ecf0"/>
<rect x="54.96" y="401.08" width="6.37" height="5.42" fill="#c8c0e5"/>
<rect x="61.28" y="401.08" width="6.37" height="5.42" fill="#c8c0e5"/>
<rect x="67.61" y="401.08" width="6.37" height="5.42" fill="#f0ecf0"/>
<rect x="73.93" y="401.08" width="6.37" height="5.42" fill="#e1dcec"/>
<rect x="82.25" y="401.08" width="6.37" height="5.42" fill="#d7d0e9"/>
<rect x="88.58" y="401.08" width="6.37" height="5.42" fill="#c8c0e5"/>
<rect x="94.90" y="401.08" width="6.37" height="5.42" fill="#d7d0e9"/>
<rect x="101.22" y="401.08" width="6.37" height="5.42" fill="#c8c0e5"/>
<rect x="107.55" y="401.08" width="6.37" height="5.42" fill="#d7d0e9"/>
<rect x="113.87" y="401.08" width="6.37" height="5.42" fill="#d7d0e9"/>
<rect x="120.19" y="401.08" width="6.37" height="5.42" fill="#a094d2"/>
<rect x="128.51" y="401.08" width="6.37" height="5.42" fill="#f0ecf0"/>
<rect x="134.84" y="401.08" width="6.37" height="5.42" fill="#f0ecf0"/>
<rect x="141.16" y="401.08" width="6.37" height="5.42" fill="#f6d9d2"/>
<rect x="147.48" y="401.08" width="6.37" height="5.42" fill="#f0ecf0"/>
<rect x="153.81" y="401.08" width="6.37" height="5.42" fill="#d7d0e9"/>
<rect x="160.13" y="401.08" width="6.37" height="5.42" fill="#f0ecf0"/>
<rect x="168.45" y="401.08" width="6.37" height="5.42" fill="#f8bfb0"/>
<rect x="174.78" y="401.08" width="6.37" height="5.42" fill="#f9cdc0"/>
<rect x="181.10" y="401.08" width="6.37" height="5.42" fill="#f9cdc0"/>
<rect x="187.42" y="401.08" width="6.37" height="5.42" fill="#f3e0de"/>
<rect x="193.74" y="401.08" width="6.37" height="5.42" fill="#f9cdc0"/>
<rect x="200.07" y="401.08" width="6.37" height="5.42" fill="#f9cdc0"/>
<rect x="206.39" y="401.08" width="6.37" height="5.42" fill="#b8aede"/>
<rect x="214.71" y="401.08" width="6.37" height="5.42" fill="#e95247"/>
<rect x="221.04" y="401.08" width="6.37" height="5.42" fill="#e95247"/>
<rect x="227.36" y="401.08" width="6.37" height="5.42" fill="#ec6152"/>
<rect x="233.68" y="401.08" width="6.37" height="5.42" fill="#f49d87"/>
<rect x="6.70" y="406.45" width="6.37" height="5.42" fill="#aca0d8"/>
<rect x="13.02" y="406.45" width="6.37" height="5.42" fill="#c0b7e1"/>
<rect x="21.35" y="406.45" width="6.37" height="5.42" fill="#aca0d8"/>
<rect x="27.67" y="406.45" width="6.37" height="5.42" fill="#f0ecf0"/>
<rect x="33.99" y="406.45" width="6.37" height="5.42" fill="#f0ecf0"/>
<rect x="40.31" y="406.45" width="6.37" height="5.42" fill="#c0b7e1"/>
<rect x="48.64" y="406.45" width="6.37" height="5.42" fill="#f8bfb0"/>
<rect x="54.96" y="406.45" width="6.37" height="5.42" fill="#f0ecf0"/>
<rect x="61.28" y="406.45" width="6.37" height="5.42" fill="#f8bfb0"/>
<rect x="67.61" y="406.45" width="6.37" height="5.42" fill="#f8bfb0"/>
<rect x="73.93" y="406.45" width="6.37" height="5.42" fill="#f3e0de"/>
<rect x="82.25" y="406.45" width="6.37" height="5.42" fill="#d7d0e9"/>
<rect x="88.58" y="406.45" width="6.37" height="5.42" fill="#c8c0e5"/>
<rect x="94.90" y="406.45" width="6.37" height="5.42" fill="#d7d0e9"/>
<rect x="101.22" y="406.45" width="6.37" height="5.42" fill="#d7d0e9"/>
<rect x="107.55" y="406.45" width="6.37" height="5.42" fill="#d7d0e9"/>
<rect x="113.87" y="406.45" width="6.37" height="5.42" fill="#f0ecf0"/>
<rect x="120.19" y="406.45" width="6.37" height="5.42" fill="#998dcf"/>
<rect x="128.51" y="406.45" width="6.37" height="5.42" fill="#f6d9d2"/>
<rect x="134.84" y="406.45" width="6.37" height="5.42" fill="#f6d9d2"/>
<rect x="141.16" y="406.45" width="6.37" height="5.42" fill="#f9cdc0"/>
<rect x="147.48" y="406.45" width="6.37" height="5.42" fill="#f3e0de"/>
<rect x="153.81" y="406.45" width="6.37" height="5.42" fill="#f6d9d2"/>
<rect x="160.13" y="406.45" width="6.37" height="5.42" fill="#f3e0de"/>
<rect x="168.45" y="406.45" width="6.37" height="5.42" fill="#f9cdc0"/>
<rect x="174.78" y="406.45" width="6.37" height="5.42" fill="#f9cdc0"/>
<rect x="181.10" y="406.45" width="6.37" height="5.42" fill="#f9cdc0"/>
<rect x="187.42" y="406.45" width="6.37" height="5.42" fill="#f0ecf0"/>
<rect x="193.74" y="406.45" width="6.37" height="5.42" fill="#f9cdc0"/>
<rect x="200.07" y="406.45" width="6.37" height="5.42" fill="#f6d9d2"/>
<rect x="206.39" y="406.45" width="6.37" height="5.42" fill="#f49d87"/>
<rect x="214.71" y="406.45" width="6.37" height="5.42" fill="#ee7261"/>
<rect x="221.04" y="406.45" width="6.37" height="5.42" fill="#ee7261"/>
<rect x="227.36" y="406.45" width="6.37" height="5.42" fill="#ee7261"/>
<rect x="233.68" y="406.45" width="6.37" height="5.42" fill="#f49d87"/>
<rect x="6.70" y="411.83" width="6.37" height="5.42" fill="#aca0d8"/>
<rect x="13.02" y="411.83" width="6.37" height="5.42" fill="#c8c0e5"/>
<rect x="21.35" y="411.83" width="6.37" height="5.42" fill="#f0ecf0"/>
<rect x="27.67" y="411.83" width="6.37" height="5.42" fill="#e1dcec"/>
<rect x="33.99" y="411.83" width="6.37" height="5.42" fill="#e1dcec"/>
<rect x="40.31" y="411.83" width="6.37" height="5.42" fill="#f6d9d2"/>
<rect x="48.64" y="411.83" width="6.37" height="5.42" fill="#f3e0de"/>
<rect x="54.96" y="411.83" width="6.37" height="5.42" fill="#f49d87"/>
<rect x="61.28" y="411.83" width="6.37" height="5.42" fill="#998dcf"/>
<rect x="67.61" y="411.83" width="6.37" height="5.42" fill="#e1dcec"/>
<rect x="73.93" y="411.83" width="6.37" height="5.42" fill="#f0ecf0"/>
<rect x="82.25" y="411.83" width="6.37" height="5.42" fill="#e1dcec"/>
<rect x="88.58" y="411.83" width="6.37" height="5.42" fill="#d7d0e9"/>
<rect x="94.90" y="411.83" width="6.37" height="5.42" fill="#d7d0e9"/>
<rect x="101.22" y="411.83" width="6.37" height="5.42" fill="#aca0d8"/>
<rect x="107.55" y="411.83" width="6.37" height="5.42" fill="#f0ecf0"/>
<rect x="113.87" y="411.83" width="6.37" height="5.42" fill="#f6b29f"/>
<rect x="120.19" y="411.83" width="6.37" height="5.42" fill="#e95247"/>
<rect x="128.51" y="411.83" width="6.37" height="5.42" fill="#f3e0de"/>
<rect x="134.84" y="411.83" width="6.37" height="5.42" fill="#c8c0e5"/>
<rect x="141.16" y="411.83" width="6.37" height="5.42" fill="#f0ecf0"/>
<rect x="147.48" y="411.83" width="6.37" height="5.42" fill="#f3e0de"/>
<rect x="153.81" y="411.83" width="6.37" height="5.42" fill="#f0ecf0"/>
<rect x="160.13" y="411.83" width="6.37" height="5.42" fill="#aca0d8"/>
<rect x="168.45" y="411.83" width="6.37" height="5.42" fill="#f9cdc0"/>
<rect x="174.78" y="411.83" width="6.37" height="5.42" fill="#d7d0e9"/>
<rect x="181.10" y="411.83" width="6.37" height="5.42" fill="#f9cdc0"/>
<rect x="187.42" y="411.83" width="6.37" height="5.42" fill="#f9cdc0"/>
<rect x="193.74" y="411.83" width="6.37" height="5.42" fill="#f3e0de"/>
<rect x="200.07" y="411.83" width="6.37" height="5.42" fill="#e6443c"/>
<rect x="206.39" y="411.83" width="6.37" height="5.42" fill="#c0b7e1"/>
<rect x="214.71" y="411.83" width="6.37" height="5.42" fill="#f49d87"/>
<rect x="221.04" y="411.83" width="6.37" height="5.42" fill="#f49d87"/>
<rect x="227.36" y="411.83" width="6.37" height="5.42" fill="#f49d87"/>
<rect x="233.68" y="411.83" width="6.37" height="5.42" fill="#f6b29f"/>
<rect x="6.70" y="419.20" width="6.37" height="5.42" fill="#c0b7e1"/>
<rect x="13.02" y="419.20" width="6.37" height="5.42" fill="#aca0d8"/>
<rect x="21.35" y="419.20" width="6.37" height="5.42" fill="#b8aede"/>
<rect x="27.67" y="419.20" width="6.37" height="5.42" fill="#b8aede"/>
<rect x="33.99" y="419.20" width="6.37" height="5.42" fill="#b8aede"/>
<rect x="40.31" y="419.20" width="6.37" height="5.42" fill="#f0ecf0"/>
<rect x="48.64" y="419.20" width="6.37" height="5.42" fill="#d7d0e9"/>
<rect x="54.96" y="419.20" width="6.37" height="5.42" fill="#d7d0e9"/>
<rect x="61.28" y="419.20" width="6.37" height="5.42" fill="#d7d0e9"/>
<rect x="67.61" y="419.20" width="6.37" height="5.42" fill="#e1dcec"/>
<rect x="73.93" y="419.20" width="6.37" height="5.42" fill="#d7d0e9"/>
<rect x="82.25" y="419.20" width="6.37" height="5.42" fill="#d7d0e9"/>
<rect x="88.58" y="419.20" width="6.37" height="5.42" fill="#d7d0e9"/>
<rect x="94.90" y="419.20" width="6.37" height="5.42" fill="#c8c0e5"/>
<rect x="101.22" y="419.20" width="6.37" height="5.42" fill="#c8c0e5"/>
<rect x="107.55" y="419.20" width="6.37" height="5.42" fill="#d7d0e9"/>
<rect x="113.87" y="419.20" width="6.37" height="5.42" fill="#c8c0e5"/>
<rect x="120.19" y="419.20" width="6.37" height="5.42" fill="#998dcf"/>
<rect x="128.51" y="419.20" width="6.37" height="5.42" fill="#f49d87"/>
<rect x="134.84" y="419.20" width="6.37" height="5.42" fill="#f49d87"/>
<rect x="141.16" y="419.20" width="6.37" height="5.42" fill="#f18370"/>
<rect x="147.48" y="419.20" width="6.37" height="5.42" fill="#f6b29f"/>
<rect x="153.81" y="419.20" width="6.37" height="5.42" fill="#f6b29f"/>
<rect x="160.13" y="419.20" width="6.37" height="5.42" fill="#f8bfb0"/>
<rect x="168.45" y="419.20" width="6.37" height="5.42" fill="#f18370"/>
<rect x="174.78" y="419.20" width="6.37" height="5.42" fill="#f18370"/>
<rect x="181.10" y="419.20" width="6.37" height="5.42" fill="#f18370"/>
<rect x="187.42" y="419.20" width="6.37" height="5.42" fill="#f18370"/>
<rect x="193.74" y="419.20" width="6.37" height="5.42" fill="#f18370"/>
<rect x="200.07" y="419.20" width="6.37" height="5.42" fill="#f49d87"/>
<rect x="206.39" y="419.20" width="6.37" height="5.42" fill="#f49d87"/>
<rect x="214.71" y="419.20" width="6.37" height="5.42" fill="#d7d0e9"/>
<rect x="221.04" y="419.20" width="6.37" height="5.42" fill="#c8c0e5"/>
<rect x="227.36" y="419.20" width="6.37" height="5.42" fill="#c8c0e5"/>
<rect x="233.68" y="419.20" width="6.37" height="5.42" fill="#9185cb"/>
<rect x="6.70" y="424.57" width="6.37" height="5.42" fill="#b8aede"/>
<rect x="13.02" y="424.57" width="6.37" height="5.42" fill="#c0b7e1"/>
<rect x="21.35" y="424.57" width="6.37" height="5.42" fill="#b8aede"/>
<rect x="27.67" y="424.57" width="6.37" height="5.42" fill="#aca0d8"/>
<rect x="33.99" y="424.57" width="6.37" height="5.42" fill="#b8aede"/>
<rect x="40.31" y="424.57" width="6.37" height="5.42" fill="#c0b7e1"/>
<rect x="48.64" y="424.57" width="6.37" height="5.42" fill="#f3e0de"/>
<rect x="54.96" y="424.57" width="6.37" height="5.42" fill="#f3e0de"/>
<rect x="61.28" y="424.57" width="6.37" height="5.42" fill="#f3e0de"/>
<rect x="67.61" y="424.57" width="6.37" height="5.42" fill="#e1dcec"/>
<rect x="73.93" y="424.57" width="6.37" height="5.42" fill="#f3e0de"/>
<rect x="82.25" y="424.57" width="6.37" height="5.42" fill="#aca0d8"/>
<rect x="88.58" y="424.57" width="6.37" height="5.42" fill="#c8c0e5"/>
<rect x="94.90" y="424.57" width="6.37" height="5.42" fill="#c8c0e5"/>
<rect x="101.22" y="424.57" width="6.37" height="5.42" fill="#c0b7e1"/>
<rect x="107.55" y="424.57" width="6.37" height="5.42" fill="#aca0d8"/>
<rect x="113.87" y="424.57" width="6.37" height="5.42" fill="#c0b7e1"/>
<rect x="120.19" y="424.57" width="6.37" height="5.42" fill="#998dcf"/>
<rect x="128.51" y="424.57" width="6.37" height="5.42" fill="#f49d87"/>
<rect x="134.84" y="424.57" width="6.37" height="5.42" fill="#f6b29f"/>
<rect x="141.16" y="424.57" width="6.37" height="5.42" fill="#f18370"/>
<rect x="147.48" y="424.57" width="6.37" height="5.42" fill="#f8bfb0"/>
<rect x="153.81" y="424.57" width="6.37" height="5.42" fill="#f6d9d2"/>
<rect x="160.13" y="424.57" width="6.37" height="5.42" fill="#f8bfb0"/>
<rect x="168.45" y="424.57" width="6.37" height="5.42" fill="#f49d87"/>
<rect x="174.78" y="424.57" width="6.37" height="5.42" fill="#ee7261"/>
<rect x="181.10" y="424.57" width="6.37" height="5.42" fill="#f18370"/>
<rect x="187.42" y="424.57" width="6.37" height="5.42" fill="#f18370"/>
<rect x="193.74" y="424.57" width="6.37" height="5.42" fill="#f49d87"/>
<rect x="200.07" y="424.57" width="6.37" height="5.42" fill="#f49d87"/>
<rect x="206.39" y="424.57" width="6.37" height="5.42" fill="#f6b29f"/>
<rect x="214.71" y="424.57" width="6.37" height="5.42" fill="#f4dcd8"/>
<rect x="221.04" y="424.57" width="6.37" height="5.42" fill="#aca0d8"/>
<rect x="227.36" y="424.57" width="6.37" height="5.42" fill="#e6e1ed"/>
<rect x="233.68" y="424.57" width="6.37" height="5.42" fill="#e1dcec"/>
<rect x="6.70" y="429.94" width="6.37" height="5.42" fill="#c0b7e1"/>
<rect x="13.02" y="429.94" width="6.37" height="5.42" fill="#aca0d8"/>
<rect x="21.35" y="429.94" width="6.37" height="5.42" fill="#c0b7e1"/>
<rect x="27.67" y="429.94" width="6.37" height="5.42" fill="#b8aede"/>
<rect x="33.99" y="429.94" width="6.37" height="5.42" fill="#aca0d8"/>
<rect x="40.31" y="429.94" width="6.37" height="5.42" fill="#c8c0e5"/>
<rect x="48.64" y="429.94" width="6.37" height="5.42" fill="#e1dcec"/>
<rect x="54.96" y="429.94" width="6.37" height="5.42" fill="#d7d0e9"/>
<rect x="61.28" y="429.94" width="6.37" height="5.42" fill="#e1dcec"/>
<rect x="67.61" y="429.94" width="6.37" height="5.42" fill="#d7d0e9"/>
<rect x="73.93" y="429.94" width="6.37" height="5.42" fill="#e1dcec"/>
<rect x="82.25" y="429.94" width="6.37" height="5.42" fill="#c8c0e5"/>
<rect x="88.58" y="429.94" width="6.37" height="5.42" fill="#d7d0e9"/>
<rect x="94.90" y="429.94" width="6.37" height="5.42" fill="#f0ecf0"/>
<rect x="101.22" y="429.94" width="6.37" height="5.42" fill="#c8c0e5"/>
<rect x="107.55" y="429.94" width="6.37" height="5.42" fill="#d7d0e9"/>
<rect x="113.87" y="429.94" width="6.37" height="5.42" fill="#e1dcec"/>
<rect x="120.19" y="429.94" width="6.37" height="5.42" fill="#c0b7e1"/>
<rect x="128.51" y="429.94" width="6.37" height="5.42" fill="#f18370"/>
<rect x="134.84" y="429.94" width="6.37" height="5.42" fill="#f49d87"/>
<rect x="141.16" y="429.94" width="6.37" height="5.42" fill="#f49d87"/>
<rect x="147.48" y="429.94" width="6.37" height="5.42" fill="#f8bfb0"/>
<rect x="153.81" y="429.94" width="6.37" height="5.42" fill="#f9cdc0"/>
<rect x="160.13" y="429.94" width="6.37" height="5.42" fill="#f9cdc0"/>
<rect x="168.45" y="429.94" width="6.37" height="5.42" fill="#f49d87"/>
<rect x="174.78" y="429.94" width="6.37" height="5.42" fill="#f18370"/>
<rect x="181.10" y="429.94" width="6.37" height="5.42" fill="#f18370"/>
<rect x="187.42" y="429.94" width="6.37" height="5.42" fill="#f18370"/>
<rect x="193.74" y="429.94" width="6.37" height="5.42" fill="#f18370"/>
<rect x="200.07" y="429.94" width="6.37" height="5.42" fill="#f49d87"/>
<rect x="206.39" y="429.94" width="6.37" height="5.42" fill="#f6b29f"/>
<rect x="214.71" y="429.94" width="6.37" height="5.42" fill="#e1dcec"/>
<rect x="221.04" y="429.94" width="6.37" height="5.42" fill="#d2cbe8"/>
<rect x="227.36" y="429.94" width="6.37" height="5.42" fill="#c0b7e1"/>
<rect x="233.68" y="429.94" width="6.37" height="5.42" fill="#aca0d8"/>
<rect x="6.70" y="435.32" width="6.37" height="5.42" fill="#f6b29f"/>
<rect x="13.02" y="435.32" width="6.37" height="5.42" fill="#c8c0e5"/>
<rect x="21.35" y="435.32" width="6.37" height="5.42" fill="#f6b29f"/>
<rect x="27.67" y="435.32" width="6.37" height="5.42" fill="#c0b7e1"/>
<rect x="33.99" y="435.32" width="6.37" height="5.42" fill="#c8c0e5"/>
<rect x="40.31" y="435.32" width="6.37" height="5.42" fill="#c8c0e5"/>
<rect x="48.64" y="435.32" width="6.37" height="5.42" fill="#f3e0de"/>
<rect x="54.96" y="435.32" width="6.37" height="5.42" fill="#c8c0e5"/>
<rect x="61.28" y="435.32" width="6.37" height="5.42" fill="#c8c0e5"/>
<rect x="67.61" y="435.32" width="6.37" height="5.42" fill="#f9cdc0"/>
<rect x="73.93" y="435.32" width="6.37" height="5.42" fill="#f3e0de"/>
<rect x="82.25" y="435.32" width="6.37" height="5.42" fill="#c8c0e5"/>
<rect x="88.58" y="435.32" width="6.37" height="5.42" fill="#c0b7e1"/>
<rect x="94.90" y="435.32" width="6.37" height="5.42" fill="#d7d0e9"/>
<rect x="101.22" y="435.32" width="6.37" height="5.42" fill="#c8c0e5"/>
<rect x="107.55" y="435.32" width="6.37" height="5.42" fill="#c8c0e5"/>
<rect x="113.87" y="435.32" width="6.37" height="5.42" fill="#f49d87"/>
<rect x="120.19" y="435.32" width="6.37" height="5.42" fill="#c0b7e1"/>
<rect x="128.51" y="435.32" width="6.37" height="5.42" fill="#f8bfb0"/>
<rect x="134.84" y="435.32" width="6.37" height="5.42" fill="#f8bfb0"/>
<rect x="141.16" y="435.32" width="6.37" height="5.42" fill="#f9cdc0"/>
<rect x="147.48" y="435.32" width="6.37" height="5.42" fill="#f6d9d2"/>
<rect x="153.81" y="435.32" width="6.37" height="5.42" fill="#f6d9d2"/>
<rect x="160.13" y="435.32" width="6.37" height="5.42" fill="#f6d9d2"/>
<rect x="168.45" y="435.32" width="6.37" height="5.42" fill="#ec6152"/>
<rect x="174.78" y="435.32" width="6.37" height="5.42" fill="#ec6152"/>
<rect x="181.10" y="435.32" width="6.37" height="5.42" fill="#f9cdc0"/>
<rect x="187.42" y="435.32" width="6.37" height="5.42" fill="#ec6152"/>
<rect x="193.74" y="435.32" width="6.37" height="5.42" fill="#f3e0de"/>
<rect x="200.07" y="435.32" width="6.37" height="5.42" fill="#c8c0e5"/>
<rect x="206.39" y="435.32" width="6.37" height="5.42" fill="#d7d0e9"/>
<rect x="214.71" y="435.32" width="6.37" height="5.42" fill="#c0b7e1"/>
<rect x="221.04" y="435.32" width="6.37" height="5.42" fill="#c0b7e1"/>
<rect x="227.36" y="435.32" width="6.37" height="5.42" fill="#f5ab97"/>
<rect x="233.68" y="435.32" width="6.37" height="5.42" fill="#b8aede"/>
<rect x="6.70" y="440.69" width="6.37" height="5.42" fill="#c0b7e1"/>
<rect x="13.02" y="440.69" width="6.37" height="5.42" fill="#d7d0e9"/>
<rect x="21.35" y="440.69" width="6.37" height="5.42" fill="#c8c0e5"/>
<rect x="27.67" y="440.69" width="6.37" height="5.42" fill="#f0ecf0"/>
<rect x="33.99" y="440.69" width="6.37" height="5.42" fill="#f0ecf0"/>
<rect x="40.31" y="440.69" width="6.37" height="5.42" fill="#c8c0e5"/>
<rect x="48.64" y="440.69" width="6.37" height="5.42" fill="#f49d87"/>
<rect x="54.96" y="440.69" width="6.37" height="5.42" fill="#c8c0e5"/>
<rect x="61.28" y="440.69" width="6.37" height="5.42" fill="#f18370"/>
<rect x="67.61" y="440.69" width="6.37" height="5.42" fill="#f0ecf0"/>
<rect x="73.93" y="440.69" width="6.37" height="5.42" fill="#f6d9d2"/>
<rect x="82.25" y="440.69" width="6.37" height="5.42" fill="#d7d0e9"/>
<rect x="88.58" y="440.69" width="6.37" height="5.42" fill="#d7d0e9"/>
<rect x="94.90" y="440.69" width="6.37" height="5.42" fill="#c8c0e5"/>
<rect x="101.22" y="440.69" width="6.37" height="5.42" fill="#c0b7e1"/>
<rect x="107.55" y="440.69" width="6.37" height="5.42" fill="#d7d0e9"/>
<rect x="113.87" y="440.69" width="6.37" height="5.42" fill="#f8bfb0"/>
<rect x="120.19" y="440.69" width="6.37" height="5.42" fill="#a094d2"/>
<rect x="128.51" y="440.69" width="6.37" height="5.42" fill="#d7d0e9"/>
<rect x="134.84" y="440.69" width="6.37" height="5.42" fill="#f9cdc0"/>
<rect x="141.16" y="440.69" width="6.37" height="5.42" fill="#f9cdc0"/>
<rect x="147.48" y="440.69" width="6.37" height="5.42" fill="#f3e0de"/>
<rect x="153.81" y="440.69" width="6.37" height="5.42" fill="#f3e0de"/>
<rect x="160.13" y="440.69" width="6.37" height="5.42" fill="#f6d9d2"/>
<rect x="168.45" y="440.69" width="6.37" height="5.42" fill="#f9cdc0"/>
<rect x="174.78" y="440.69" width="6.37" height="5.42" fill="#f0ecf0"/>
<rect x="181.10" y="440.69" width="6.37" height="5.42" fill="#c8c0e5"/>
<rect x="187.42" y="440.69" width="6.37" height="5.42" fill="#f9cdc0"/>
<rect x="193.74" y="440.69" width="6.37" height="5.42" fill="#7f79c6"/>
<rect x="200.07" y="440.69" width="6.37" height="5.42" fill="#f0ecf0"/>
<rect x="206.39" y="440.69" width="6.37" height="5.42" fill="#7f79c6"/>
<rect x="214.71" y="440.69" width="6.37" height="5.42" fill="#e6443c"/>
<rect x="221.04" y="440.69" width="6.37" height="5.42" fill="#f8bfb0"/>
<rect x="227.36" y="440.69" width="6.37" height="5.42" fill="#e1dcec"/>
<rect x="233.68" y="440.69" width="6.37" height="5.42" fill="#f6d9d2"/>
<rect x="6.70" y="446.06" width="6.37" height="5.42" fill="#c8c0e5"/>
<rect x="13.02" y="446.06" width="6.37" height="5.42" fill="#e1dcec"/>
<rect x="21.35" y="446.06" width="6.37" height="5.42" fill="#c8c0e5"/>
<rect x="27.67" y="446.06" width="6.37" height="5.42" fill="#d7d0e9"/>
<rect x="33.99" y="446.06" width="6.37" height="5.42" fill="#d7d0e9"/>
<rect x="40.31" y="446.06" width="6.37" height="5.42" fill="#d7d0e9"/>
<rect x="48.64" y="446.06" width="6.37" height="5.42" fill="#d7d0e9"/>
<rect x="54.96" y="446.06" width="6.37" height="5.42" fill="#f0ecf0"/>
<rect x="61.28" y="446.06" width="6.37" height="5.42" fill="#f6d9d2"/>
<rect x="67.61" y="446.06" width="6.37" height="5.42" fill="#f0ecf0"/>
<rect x="73.93" y="446.06" width="6.37" height="5.42" fill="#d7d0e9"/>
<rect x="82.25" y="446.06" width="6.37" height="5.42" fill="#c0b7e1"/>
<rect x="88.58" y="446.06" width="6.37" height="5.42" fill="#b8aede"/>
<rect x="94.90" y="446.06" width="6.37" height="5.42" fill="#d7d0e9"/>
<rect x="101.22" y="446.06" width="6.37" height="5.42" fill="#c0b7e1"/>
<rect x="107.55" y="446.06" width="6.37" height="5.42" fill="#c0b7e1"/>
<rect x="113.87" y="446.06" width="6.37" height="5.42" fill="#d7d0e9"/>
<rect x="120.19" y="446.06" width="6.37" height="5.42" fill="#b8aede"/>
<rect x="128.51" y="446.06" width="6.37" height="5.42" fill="#f3e0de"/>
<rect x="134.84" y="446.06" width="6.37" height="5.42" fill="#f3e0de"/>
<rect x="141.16" y="446.06" width="6.37" height="5.42" fill="#f0ecf0"/>
<rect x="147.48" y="446.06" width="6.37" height="5.42" fill="#e1dcec"/>
<rect x="153.81" y="446.06" width="6.37" height="5.42" fill="#f3e0de"/>
<rect x="160.13" y="446.06" width="6.37" height="5.42" fill="#f0ecf0"/>
<rect x="168.45" y="446.06" width="6.37" height="5.42" fill="#f49d87"/>
<rect x="174.78" y="446.06" width="6.37" height="5.42" fill="#f6b29f"/>
<rect x="181.10" y="446.06" width="6.37" height="5.42" fill="#f6b29f"/>
<rect x="187.42" y="446.06" width="6.37" height="5.42" fill="#f49d87"/>
<rect x="193.74" y="446.06" width="6.37" height="5.42" fill="#f8bfb0"/>
<rect x="200.07" y="446.06" width="6.37" height="5.42" fill="#f8bfb0"/>
<rect x="206.39" y="446.06" width="6.37" height="5.42" fill="#f18370"/>
<rect x="214.71" y="446.06" width="6.37" height="5.42" fill="#e6443c"/>
<rect x="221.04" y="446.06" width="6.37" height="5.42" fill="#f18370"/>
<rect x="227.36" y="446.06" width="6.37" height="5.42" fill="#f18370"/>
<rect x="233.68" y="446.06" width="6.37" height="5.42" fill="#f49d87"/>
<rect x="6.70" y="451.44" width="6.37" height="5.42" fill="#f0ecf0"/>
<rect x="13.02" y="451.44" width="6.37" height="5.42" fill="#e1dcec"/>
<rect x="21.35" y="451.44" width="6.37" height="5.42" fill="#f6d9d2"/>
<rect x="27.67" y="451.44" width="6.37" height="5.42" fill="#e1dcec"/>
<rect x="33.99" y="451.44" width="6.37" height="5.42" fill="#c8c0e5"/>
<rect x="40.31" y="451.44" width="6.37" height="5.42" fill="#d7d0e9"/>
<rect x="48.64" y="451.44" width="6.37" height="5.42" fill="#d7d0e9"/>
<rect x="54.96" y="451.44" width="6.37" height="5.42" fill="#6e6ec1"/>
<rect x="61.28" y="451.44" width="6.37" height="5.42" fill="#f0ecf0"/>
<rect x="67.61" y="451.44" width="6.37" height="5.42" fill="#f0ecf0"/>
<rect x="73.93" y="451.44" width="6.37" height="5.42" fill="#d7d0e9"/>
<rect x="82.25" y="451.44" width="6.37" height="5.42" fill="#c8c0e5"/>
<rect x="88.58" y="451.44" width="6.37" height="5.42" fill="#d7d0e9"/>
<rect x="94.90" y="451.44" width="6.37" height="5.42" fill="#f0ecf0"/>
<rect x="101.22" y="451.44" width="6.37" height="5.42" fill="#c0b7e1"/>
<rect x="107.55" y="451.44" width="6.37" height="5.42" fill="#c0b7e1"/>
<rect x="113.87" y="451.44" width="6.37" height="5.42" fill="#f3e0de"/>
<rect x="120.19" y="451.44" width="6.37" height="5.42" fill="#e6443c"/>
<rect x="128.51" y="451.44" width="6.37" height="5.42" fill="#f3e0de"/>
<rect x="134.84" y="451.44" width="6.37" height="5.42" fill="#f0ecf0"/>
<rect x="141.16" y="451.44" width="6.37" height="5.42" fill="#f3e0de"/>
<rect x="147.48" y="451.44" width="6.37" height="5.42" fill="#d7d0e9"/>
<rect x="153.81" y="451.44" width="6.37" height="5.42" fill="#f3e0de"/>
<rect x="160.13" y="451.44" width="6.37" height="5.42" fill="#d7d0e9"/>
<rect x="168.45" y="451.44" width="6.37" height="5.42" fill="#f0ecf0"/>
<rect x="174.78" y="451.44" width="6.37" height="5.42" fill="#d7d0e9"/>
<rect x="181.10" y="451.44" width="6.37" height="5.42" fill="#f6d9d2"/>
<rect x="187.42" y="451.44" width="6.37" height="5.42" fill="#f49d87"/>
<rect x="193.74" y="451.44" width="6.37" height="5.42" fill="#d7d0e9"/>
<rect x="200.07" y="451.44" width="6.37" height="5.42" fill="#c0b7e1"/>
<rect x="206.39" y="451.44" width="6.37" height="5.42" fill="#ec6152"/>
<rect x="214.71" y="451.44" width="6.37" height="5.42" fill="#e6443c"/>
<rect x="221.04" y="451.44" width="6.37" height="5.42" fill="#f9cdc0"/>
<rect x="227.36" y="451.44" width="6.37" height="5.42" fill="#f9cdc0"/>
<rect x="233.68" y="451.44" width="6.37" height="5.42" fill="#f9cdc0"/>
<rect x="6.70" y="456.81" width="6.37" height="5.42" fill="#aca0d8"/>
<rect x="13.02" y="456.81" width="6.37" height="5.42" fill="#b8aede"/>
<rect x="21.35" y="456.81" width="6.37" height="5.42" fill="#aca0d8"/>
<rect x="27.67" y="456.81" width="6.37" height="5.42" fill="#aca0d8"/>
<rect x="33.99" y="456.81" width="6.37" height="5.42" fill="#b8aede"/>
<rect x="40.31" y="456.81" width="6.37" height="5.42" fill="#c0b7e1"/>
<rect x="48.64" y="456.81" width="6.37" height="5.42" fill="#f3e0de"/>
<rect x="54.96" y="456.81" width="6.37" height="5.42" fill="#d7d0e9"/>
<rect x="61.28" y="456.81" width="6.37" height="5.42" fill="#f0ecf0"/>
<rect x="67.61" y="456.81" width="6.37" height="5.42" fill="#f6d9d2"/>
<rect x="73.93" y="456.81" width="6.37" height="5.42" fill="#d7d0e9"/>
<rect x="82.25" y="456.81" width="6.37" height="5.42" fill="#d7d0e9"/>
<rect x="88.58" y="456.81" width="6.37" height="5.42" fill="#c0b7e1"/>
<rect x="94.90" y="456.81" width="6.37" height="5.42" fill="#c0b7e1"/>
<rect x="101.22" y="456.81" width="6.37" height="5.42" fill="#c8c0e5"/>
<rect x="107.55" y="456.81" width="6.37" height="5.42" fill="#b8aede"/>
<rect x="113.87" y="456.81" width="6.37" height="5.42" fill="#c8c0e5"/>
<rect x="120.19" y="456.81" width="6.37" height="5.42" fill="#998dcf"/>
<rect x="128.51" y="456.81" width="6.37" height="5.42" fill="#f49d87"/>
<rect x="134.84" y="456.81" width="6.37" height="5.42" fill="#f6b29f"/>
<rect x="141.16" y="456.81" width="6.37" height="5.42" fill="#f6b29f"/>
<rect x="147.48" y="456.81" width="6.37" height="5.42" fill="#f9cdc0"/>
<rect x="153.81" y="456.81" width="6.37" height="5.42" fill="#f9cdc0"/>
<rect x="160.13" y="456.81" width="6.37" height="5.42" fill="#f6d9d2"/>
<rect x="168.45" y="456.81" width="6.37" height="5.42" fill="#f49d87"/>
<rect x="174.78" y="456.81" width="6.37" height="5.42" fill="#f49d87"/>
<rect x="181.10" y="456.81" width="6.37" height="5.42" fill="#f49d87"/>
<rect x="187.42" y="456.81" width="6.37" height="5.42" fill="#f6b29f"/>
<rect x="193.74" y="456.81" width="6.37" height="5.42" fill="#f49d87"/>
<rect x="200.07" y="456.81" width="6.37" height="5.42" fill="#f49d87"/>
<rect x="206.39" y="456.81" width="6.37" height="5.42" fill="#f6b29f"/>
<rect x="214.71" y="456.81" width="6.37" height="5.42" fill="#f6d9d2"/>
<rect x="221.04" y="456.81" width="6.37" height="5.42" fill="#f18370"/>
<rect x="227.36" y="456.81" width="6.37" height="5.42" fill="#f18370"/>
<rect x="233.68" y="456.81" width="6.37" height="5.42" fill="#f8bfb0"/>
<rect x="6.70" y="462.18" width="6.37" height="5.42" fill="#aca0d8"/>
<rect x="13.02" y="462.18" width="6.37" height="5.42" fill="#aca0d8"/>
<rect x="21.35" y="462.18" width="6.37" height="5.42" fill="#aca0d8"/>
<rect x="27.67" y="462.18" width="6.37" height="5.42" fill="#b8aede"/>
<rect x="33.99" y="462.18" width="6.37" height="5.42" fill="#aca0d8"/>
<rect x="40.31" y="462.18" width="6.37" height="5.42" fill="#c0b7e1"/>
<rect x="48.64" y="462.18" width="6.37" height="5.42" fill="#f3e0de"/>
<rect x="54.96" y="462.18" width="6.37" height="5.42" fill="#f0ecf0"/>
<rect x="61.28" y="462.18" width="6.37" height="5.42" fill="#f49d87"/>
<rect x="67.61" y="462.18" width="6.37" height="5.42" fill="#f3e0de"/>
<rect x="73.93" y="462.18" width="6.37" height="5.42" fill="#f0ecf0"/>
<rect x="82.25" y="462.18" width="6.37" height="5.42" fill="#f6d9d2"/>
<rect x="88.58" y="462.18" width="6.37" height="5.42" fill="#f9cdc0"/>
<rect x="94.90" y="462.18" width="6.37" height="5.42" fill="#f3e0de"/>
<rect x="101.22" y="462.18" width="6.37" height="5.42" fill="#f8bfb0"/>
<rect x="107.55" y="462.18" width="6.37" height="5.42" fill="#f3e0de"/>
<rect x="113.87" y="462.18" width="6.37" height="5.42" fill="#f6b29f"/>
<rect x="120.19" y="462.18" width="6.37" height="5.42" fill="#f9cdc0"/>
<rect x="128.51" y="462.18" width="6.37" height="5.42" fill="#f9cdc0"/>
<rect x="134.84" y="462.18" width="6.37" height="5.42" fill="#f6d9d2"/>
<rect x="141.16" y="462.18" width="6.37" height="5.42" fill="#f9cdc0"/>
<rect x="147.48" y="462.18" width="6.37" height="5.42" fill="#f6d9d2"/>
<rect x="153.81" y="462.18" width="6.37" height="5.42" fill="#f6d9d2"/>
<rect x="160.13" y="462.18" width="6.37" height="5.42" fill="#f3e0de"/>
<rect x="168.45" y="462.18" width="6.37" height="5.42" fill="#f8bfb0"/>
<rect x="174.78" y="462.18" width="6.37" height="5.42" fill="#f8bfb0"/>
<rect x="181.10" y="462.18" width="6.37" height="5.42" fill="#f8bfb0"/>
<rect x="187.42" y="462.18" width="6.37" height="5.42" fill="#f9cdc0"/>
<rect x="193.74" y="462.18" width="6.37" height="5.42" fill="#f0ecf0"/>
<rect x="200.07" y="462.18" width="6.37" height="5.42" fill="#f9cdc0"/>
<rect x="206.39" y="462.18" width="6.37" height="5.42" fill="#7f79c6"/>
<rect x="214.71" y="462.18" width="6.37" height="5.42" fill="#ee7261"/>
<rect x="221.04" y="462.18" width="6.37" height="5.42" fill="#eb5c4e"/>
<rect x="227.36" y="462.18" width="6.37" height="5.42" fill="#eb5c4e"/>
<rect x="233.68" y="462.18" width="6.37" height="5.42" fill="#f8bfb0"/>
<rect x="6.70" y="467.56" width="6.37" height="5.42" fill="#aca0d8"/>
<rect x="13.02" y="467.56" width="6.37" height="5.42" fill="#a094d2"/>
<rect x="21.35" y="467.56" width="6.37" height="5.42" fill="#c0b7e1"/>
<rect x="27.67" y="467.56" width="6.37" height="5.42" fill="#f0ecf0"/>
<rect x="33.99" y="467.56" width="6.37" height="5.42" fill="#aca0d8"/>
<rect x="40.31" y="467.56" width="6.37" height="5.42" fill="#c8c0e5"/>
<rect x="48.64" y="467.56" width="6.37" height="5.42" fill="#f0ecf0"/>
<rect x="54.96" y="467.56" width="6.37" height="5.42" fill="#f3e0de"/>
<rect x="61.28" y="467.56" width="6.37" height="5.42" fill="#f0ecf0"/>
<rect x="67.61" y="467.56" width="6.37" height="5.42" fill="#d7d0e9"/>
<rect x="73.93" y="467.56" width="6.37" height="5.42" fill="#f0ecf0"/>
<rect x="82.25" y="467.56" width="6.37" height="5.42" fill="#c0b7e1"/>
<rect x="88.58" y="467.56" width="6.37" height="5.42" fill="#c8c0e5"/>
<rect x="94.90" y="467.56" width="6.37" height="5.42" fill="#d7d0e9"/>
<rect x="101.22" y="467.56" width="6.37" height="5.42" fill="#c0b7e1"/>
<rect x="107.55" y="467.56" width="6.37" height="5.42" fill="#d7d0e9"/>
<rect x="113.87" y="467.56" width="6.37" height="5.42" fill="#d7d0e9"/>
<rect x="120.19" y="467.56" width="6.37" height="5.42" fill="#c8c0e5"/>
<rect x="128.51" y="467.56" width="6.37" height="5.42" fill="#f9cdc0"/>
<rect x="134.84" y="467.56" width="6.37" height="5.42" fill="#f3e0de"/>
<rect x="141.16" y="467.56" width="6.37" height="5.42" fill="#f3e0de"/>
<rect x="147.48" y="467.56" width="6.37" height="5.42" fill="#f3e0de"/>
<rect x="153.81" y="467.56" width="6.37" height="5.42" fill="#f6d9d2"/>
<rect x="160.13" y="467.56" width="6.37" height="5.42" fill="#f3e0de"/>
<rect x="168.45" y="467.56" width="6.37" height="5.42" fill="#f9cdc0"/>
<rect x="174.78" y="467.56" width="6.37" height="5.42" fill="#f8bfb0"/>
<rect x="181.10" y="467.56" width="6.37" height="5.42" fill="#f9cdc0"/>
<rect x="187.42" y="467.56" width="6.37" height="5.42" fill="#f9cdc0"/>
<rect x="193.74" y="467.56" width="6.37" height="5.42" fill="#f9cdc0"/>
<rect x="200.07" y="467.56" width="6.37" height="5.42" fill="#f3e0de"/>
<rect x="206.39" y="467.56" width="6.37" height="5.42" fill="#f6d9d2"/>
<rect x="214.71" y="467.56" width="6.37" height="5.42" fill="#e95247"/>
<rect x="221.04" y="467.56" width="6.37" height="5.42" fill="#ee7261"/>
<rect x="227.36" y="467.56" width="6.37" height="5.42" fill="#ee7261"/>
<rect x="233.68" y="467.56" width="6.37" height="5.42" fill="#f8bfb0"/>
<rect x="6.70" y="472.93" width="6.37" height="5.42" fill="#c0b7e1"/>
<rect x="13.02" y="472.93" width="6.37" height="5.42" fill="#b8aede"/>
<rect x="21.35" y="472.93" width="6.37" height="5.42" fill="#aca0d8"/>
<rect x="27.67" y="472.93" width="6.37" height="5.42" fill="#aca0d8"/>
<rect x="33.99" y="472.93" width="6.37" height="5.42" fill="#aca0d8"/>
<rect x="40.31" y="472.93" width="6.37" height="5.42" fill="#c8c0e5"/>
<rect x="48.64" y="472.93" width="6.37" height="5.42" fill="#f6d9d2"/>
<rect x="54.96" y="472.93" width="6.37" height="5.42" fill="#f6d9d2"/>
<rect x="61.28" y="472.93" width="6.37" height="5.42" fill="#f0ecf0"/>
<rect x="67.61" y="472.93" width="6.37" height="5.42" fill="#d7d0e9"/>
<rect x="73.93" y="472.93" width="6.37" height="5.42" fill="#f0ecf0"/>
<rect x="82.25" y="472.93" width="6.37" height="5.42" fill="#c8c0e5"/>
<rect x="88.58" y="472.93" width="6.37" height="5.42" fill="#d7d0e9"/>
<rect x="94.90" y="472.93" width="6.37" height="5.42" fill="#f0ecf0"/>
<rect x="101.22" y="472.93" width="6.37" height="5.42" fill="#c8c0e5"/>
<rect x="107.55" y="472.93" width="6.37" height="5.42" fill="#c0b7e1"/>
<rect x="113.87" y="472.93" width="6.37" height="5.42" fill="#c0b7e1"/>
<rect x="120.19" y="472.93" width="6.37" height="5.42" fill="#c0b7e1"/>
<rect x="128.51" y="472.93" width="6.37" height="5.42" fill="#f9cdc0"/>
<rect x="134.84" y="472.93" width="6.37" height="5.42" fill="#f6d9d2"/>
<rect x="141.16" y="472.93" width="6.37" height="5.42" fill="#f3e0de"/>
<rect x="147.48" y="472.93" width="6.37" height="5.42" fill="#f3e0de"/>
<rect x="153.81" y="472.93" width="6.37" height="5.42" fill="#f3e0de"/>
<rect x="160.13" y="472.93" width="6.37" height="5.42" fill="#f0ecf0"/>
<rect x="168.45" y="472.93" width="6.37" height="5.42" fill="#f6b29f"/>
<rect x="174.78" y="472.93" width="6.37" height="5.42" fill="#f8bfb0"/>
<rect x="181.10" y="472.93" width="6.37" height="5.42" fill="#f8bfb0"/>
<rect x="187.42" y="472.93" width="6.37" height="5.42" fill="#f6b29f"/>
<rect x="193.74" y="472.93" width="6.37" height="5.42" fill="#f9cdc0"/>
<rect x="200.07" y="472.93" width="6.37" height="5.42" fill="#f6b29f"/>
<rect x="206.39" y="472.93" width="6.37" height="5.42" fill="#f6d9d2"/>
<rect x="214.71" y="472.93" width="6.37" height="5.42" fill="#f49d87"/>
<rect x="221.04" y="472.93" width="6.37" height="5.42" fill="#e7493f"/>
<rect x="227.36" y="472.93" width="6.37" height="5.42" fill="#e7493f"/>
<rect x="233.68" y="472.93" width="6.37" height="5.42" fill="#f8bfb0"/>
<rect x="6.70" y="478.30" width="6.37" height="5.42" fill="#aca0d8"/>
<rect x="13.02" y="478.30" width="6.37" height="5.42" fill="#c0b7e1"/>
<rect x="21.35" y="478.30" width="6.37" height="5.42" fill="#f0ecf0"/>
<rect x="27.67" y="478.30" width="6.37" height="5.42" fill="#d7d0e9"/>
<rect x="33.99" y="478.30" width="6.37" height="5.42" fill="#d7d0e9"/>
<rect x="40.31" y="478.30" width="6.37" height="5.42" fill="#f3e0de"/>
<rect x="48.64" y="478.30" width="6.37" height="5.42" fill="#e1dcec"/>
<rect x="54.96" y="478.30" width="6.37" height="5.42" fill="#f9cdc0"/>
<rect x="61.28" y="478.30" width="6.37" height="5.42" fill="#aca0d8"/>
<rect x="67.61" y="478.30" width="6.37" height="5.42" fill="#d7d0e9"/>
<rect x="73.93" y="478.30" width="6.37" height="5.42" fill="#f0ecf0"/>
<rect x="82.25" y="478.30" width="6.37" height="5.42" fill="#c8c0e5"/>
<rect x="88.58" y="478.30" width="6.37" height="5.42" fill="#c8c0e5"/>
<rect x="94.90" y="478.30" width="6.37" height="5.42" fill="#d7d0e9"/>
<rect x="101.22" y="478.30" width="6.37" height="5.42" fill="#c0b7e1"/>
<rect x="107.55" y="478.30" width="6.37" height="5.42" fill="#e1dcec"/>
<rect x="113.87" y="478.30" width="6.37" height="5.42" fill="#c8c0e5"/>
<rect x="120.19" y="478.30" width="6.37" height="5.42" fill="#ee7261"/>
<rect x="128.51" y="478.30" width="6.37" height="5.42" fill="#f3e0de"/>
<rect x="134.84" y="478.30" width="6.37" height="5.42" fill="#c8c0e5"/>
<rect x="141.16" y="478.30" width="6.37" height="5.42" fill="#f0ecf0"/>
<rect x="147.48" y="478.30" width="6.37" height="5.42" fill="#f0ecf0"/>
<rect x="153.81" y="478.30" width="6.37" height="5.42" fill="#e1dcec"/>
<rect x="160.13" y="478.30" width="6.37" height="5.42" fill="#aca0d8"/>
<rect x="168.45" y="478.30" width="6.37" height="5.42" fill="#f9cdc0"/>
<rect x="174.78" y="478.30" width="6.37" height="5.42" fill="#c8c0e5"/>
<rect x="181.10" y="478.30" width="6.37" height="5.42" fill="#f9cdc0"/>
<rect x="187.42" y="478.30" width="6.37" height="5.42" fill="#f6d9d2"/>
<rect x="193.74" y="478.30" width="6.37" height="5.42" fill="#f9cdc0"/>
<rect x="200.07" y="478.30" width="6.37" height="5.42" fill="#e95247"/>
<rect x="206.39" y="478.30" width="6.37" height="5.42" fill="#c0b7e1"/>
<rect x="214.71" y="478.30" width="6.37" height="5.42" fill="#f49d87"/>
<rect x="221.04" y="478.30" width="6.37" height="5.42" fill="#f49d87"/>
<rect x="227.36" y="478.30" width="6.37" height="5.42" fill="#f49d87"/>
<rect x="233.68" y="478.30" width="6.37" height="5.42" fill="#f6b29f"/>
<rect x="6.70" y="485.67" width="6.37" height="5.42" fill="#c8c0e5"/>
<rect x="13.02" y="485.67" width="6.37" height="5.42" fill="#d7d0e9"/>
<rect x="21.35" y="485.67" width="6.37" height="5.42" fill="#d7d0e9"/>
<rect x="27.67" y="485.67" width="6.37" height="5.42" fill="#f0ecf0"/>
<rect x="33.99" y="485.67" width="6.37" height="5.42" fill="#c0b7e1"/>
<rect x="40.31" y="485.67" width="6.37" height="5.42" fill="#f0ecf0"/>
<rect x="48.64" y="485.67" width="6.37" height="5.42" fill="#d7d0e9"/>
<rect x="54.96" y="485.67" width="6.37" height="5.42" fill="#f0ecf0"/>
<rect x="61.28" y="485.67" width="6.37" height="5.42" fill="#b8aede"/>
<rect x="67.61" y="485.67" width="6.37" height="5.42" fill="#f6d9d2"/>
<rect x="73.93" y="485.67" width="6.37" height="5.42" fill="#c8c0e5"/>
<rect x="82.25" y="485.67" width="6.37" height="5.42" fill="#f0ecf0"/>
<rect x="88.58" y="485.67" width="6.37" height="5.42" fill="#f0ecf0"/>
<rect x="94.90" y="485.67" width="6.37" height="5.42" fill="#b8aede"/>
<rect x="101.22" y="485.67" width="6.37" height="5.42" fill="#c0b7e1"/>
<rect x="107.55" y="485.67" width="6.37" height="5.42" fill="#f6d9d2"/>
<rect x="113.87" y="485.67" width="6.37" height="5.42" fill="#f0ecf0"/>
<rect x="120.19" y="485.67" width="6.37" height="5.42" fill="#e95247"/>
<rect x="128.51" y="485.67" width="6.37" height="5.42" fill="#c8c0e5"/>
<rect x="134.84" y="485.67" width="6.37" height="5.42" fill="#c8c0e5"/>
<rect x="141.16" y="485.67" width="6.37" height="5.42" fill="#d7d0e9"/>
<rect x="147.48" y="485.67" width="6.37" height="5.42" fill="#d7d0e9"/>
<rect x="153.81" y="485.67" width="6.37" height="5.42" fill="#d7d0e9"/>
<rect x="160.13" y="485.67" width="6.37" height="5.42" fill="#d7d0e9"/>
<rect x="168.45" y="485.67" width="6.37" height="5.42" fill="#b8aede"/>
<rect x="174.78" y="485.67" width="6.37" height="5.42" fill="#aca0d8"/>
<rect x="181.10" y="485.67" width="6.37" height="5.42" fill="#aca0d8"/>
<rect x="187.42" y="485.67" width="6.37" height="5.42" fill="#aca0d8"/>
<rect x="193.74" y="485.67" width="6.37" height="5.42" fill="#aca0d8"/>
<rect x="200.07" y="485.67" width="6.37" height="5.42" fill="#b8aede"/>
<rect x="206.39" y="485.67" width="6.37" height="5.42" fill="#f6b29f"/>
<rect x="214.71" y="485.67" width="6.37" height="5.42" fill="#ee7261"/>
<rect x="221.04" y="485.67" width="6.37" height="5.42" fill="#f49d87"/>
<rect x="227.36" y="485.67" width="6.37" height="5.42" fill="#f49d87"/>
<rect x="233.68" y="485.67" width="6.37" height="5.42" fill="#f5ab97"/>
<rect x="6.70" y="491.05" width="6.37" height="5.42" fill="#e1dcec"/>
<rect x="13.02" y="491.05" width="6.37" height="5.42" fill="#e1dcec"/>
<rect x="21.35" y="491.05" width="6.37" height="5.42" fill="#aca0d8"/>
<rect x="27.67" y="491.05" width="6.37" height="5.42" fill="#f0ecf0"/>
<rect x="33.99" y="491.05" width="6.37" height="5.42" fill="#f6d9d2"/>
<rect x="40.31" y="491.05" width="6.37" height="5.42" fill="#f0ecf0"/>
<rect x="48.64" y="491.05" width="6.37" height="5.42" fill="#f0ecf0"/>
<rect x="54.96" y="491.05" width="6.37" height="5.42" fill="#f0ecf0"/>
<rect x="61.28" y="491.05" width="6.37" height="5.42" fill="#c8c0e5"/>
<rect x="67.61" y="491.05" width="6.37" height="5.42" fill="#f9cdc0"/>
<rect x="73.93" y="491.05" width="6.37" height="5.42" fill="#f0ecf0"/>
<rect x="82.25" y="491.05" width="6.37" height="5.42" fill="#f9cdc0"/>
<rect x="88.58" y="491.05" width="6.37" height="5.42" fill="#f0ecf0"/>
<rect x="94.90" y="491.05" width="6.37" height="5.42" fill="#c8c0e5"/>
<rect x="101.22" y="491.05" width="6.37" height="5.42" fill="#f0ecf0"/>
<rect x="107.55" y="491.05" width="6.37" height="5.42" fill="#f8bfb0"/>
<rect x="113.87" y="491.05" width="6.37" height="5.42" fill="#c8c0e5"/>
<rect x="120.19" y="491.05" width="6.37" height="5.42" fill="#aca0d8"/>
<rect x="128.51" y="491.05" width="6.37" height="5.42" fill="#d7d0e9"/>
<rect x="134.84" y="491.05" width="6.37" height="5.42" fill="#f0ecf0"/>
<rect x="141.16" y="491.05" width="6.37" height="5.42" fill="#c0b7e1"/>
<rect x="147.48" y="491.05" width="6.37" height="5.42" fill="#f0ecf0"/>
<rect x="153.81" y="491.05" width="6.37" height="5.42" fill="#f6d9d2"/>
<rect x="160.13" y="491.05" width="6.37" height="5.42" fill="#e1dcec"/>
<rect x="168.45" y="491.05" width="6.37" height="5.42" fill="#b8aede"/>
<rect x="174.78" y="491.05" width="6.37" height="5.42" fill="#aca0d8"/>
<rect x="181.10" y="491.05" width="6.37" height="5.42" fill="#aca0d8"/>
<rect x="187.42" y="491.05" width="6.37" height="5.42" fill="#aca0d8"/>
<rect x="193.74" y="491.05" width="6.37" height="5.42" fill="#f0ecf0"/>
<rect x="200.07" y="491.05" width="6.37" height="5.42" fill="#b8aede"/>
<rect x="206.39" y="491.05" width="6.37" height="5.42" fill="#aca0d8"/>
<rect x="214.71" y="491.05" width="6.37" height="5.42" fill="#f18370"/>
<rect x="221.04" y="491.05" width="6.37" height="5.42" fill="#ec6152"/>
<rect x="227.36" y="491.05" width="6.37" height="5.42" fill="#ec6152"/>
<rect x="233.68" y="491.05" width="6.37" height="5.42" fill="#f18370"/>
<rect x="6.70" y="496.42" width="6.37" height="5.42" fill="#aca0d8"/>
<rect x="13.02" y="496.42" width="6.37" height="5.42" fill="#aca0d8"/>
<rect x="21.35" y="496.42" width="6.37" height="5.42" fill="#f6d9d2"/>
<rect x="27.67" y="496.42" width="6.37" height="5.42" fill="#f6d9d2"/>
<rect x="33.99" y="496.42" width="6.37" height="5.42" fill="#f3e0de"/>
<rect x="40.31" y="496.42" width="6.37" height="5.42" fill="#c8c0e5"/>
<rect x="48.64" y="496.42" width="6.37" height="5.42" fill="#f9cdc0"/>
<rect x="54.96" y="496.42" width="6.37" height="5.42" fill="#f0ecf0"/>
<rect x="61.28" y="496.42" width="6.37" height="5.42" fill="#c0b7e1"/>
<rect x="67.61" y="496.42" width="6.37" height="5.42" fill="#f9cdc0"/>
<rect x="73.93" y="496.42" width="6.37" height="5.42" fill="#f3e0de"/>
<rect x="82.25" y="496.42" width="6.37" height="5.42" fill="#f8bfb0"/>
<rect x="88.58" y="496.42" width="6.37" height="5.42" fill="#f6b29f"/>
<rect x="94.90" y="496.42" width="6.37" height="5.42" fill="#f0ecf0"/>
<rect x="101.22" y="496.42" width="6.37" height="5.42" fill="#c8c0e5"/>
<rect x="107.55" y="496.42" width="6.37" height="5.42" fill="#f6b29f"/>
<rect x="113.87" y="496.42" width="6.37" height="5.42" fill="#c0b7e1"/>
<rect x="120.19" y="496.42" width="6.37" height="5.42" fill="#c0b7e1"/>
<rect x="128.51" y="496.42" width="6.37" height="5.42" fill="#d7d0e9"/>
<rect x="134.84" y="496.42" width="6.37" height="5.42" fill="#f0ecf0"/>
<rect x="141.16" y="496.42" width="6.37" height="5.42" fill="#c0b7e1"/>
<rect x="147.48" y="496.42" width="6.37" height="5.42" fill="#d7d0e9"/>
<rect x="153.81" y="496.42" width="6.37" height="5.42" fill="#f0ecf0"/>
<rect x="160.13" y="496.42" width="6.37" height="5.42" fill="#f0ecf0"/>
<rect x="168.45" y="496.42" width="6.37" height="5.42" fill="#b8aede"/>
<rect x="174.78" y="496.42" width="6.37" height="5.42" fill="#aca0d8"/>
<rect x="181.10" y="496.42" width="6.37" height="5.42" fill="#aca0d8"/>
<rect x="187.42" y="496.42" width="6.37" height="5.42" fill="#aca0d8"/>
<rect x="193.74" y="496.42" width="6.37" height="5.42" fill="#f6d9d2"/>
<rect x="200.07" y="496.42" width="6.37" height="5.42" fill="#b8aede"/>
<rect x="206.39" y="496.42" width="6.37" height="5.42" fill="#aca0d8"/>
<rect x="214.71" y="496.42" width="6.37" height="5.42" fill="#e95247"/>
<rect x="221.04" y="496.42" width="6.37" height="5.42" fill="#f18370"/>
<rect x="227.36" y="496.42" width="6.37" height="5.42" fill="#ec6152"/>
<rect x="233.68" y="496.42" width="6.37" height="5.42" fill="#f6d9d2"/>
<rect x="6.70" y="501.79" width="6.37" height="5.42" fill="#aca0d8"/>
<rect x="13.02" y="501.79" width="6.37" height="5.42" fill="#c0b7e1"/>
<rect x="21.35" y="501.79" width="6.37" height="5.42" fill="#c8c0e5"/>
<rect x="27.67" y="501.79" width="6.37" height="5.42" fill="#f0ecf0"/>
<rect x="33.99" y="501.79" width="6.37" height="5.42" fill="#f6d9d2"/>
<rect x="40.31" y="501.79" width="6.37" height="5.42" fill="#f0ecf0"/>
<rect x="48.64" y="501.79" width="6.37" height="5.42" fill="#f6d9d2"/>
<rect x="54.96" y="501.79" width="6.37" height="5.42" fill="#f49d87"/>
<rect x="61.28" y="501.79" width="6.37" height="5.42" fill="#f0ecf0"/>
<rect x="67.61" y="501.79" width="6.37" height="5.42" fill="#f9cdc0"/>
<rect x="73.93" y="501.79" width="6.37" height="5.42" fill="#f3e0de"/>
<rect x="82.25" y="501.79" width="6.37" height="5.42" fill="#f8bfb0"/>
<rect x="88.58" y="501.79" width="6.37" height="5.42" fill="#f9cdc0"/>
<rect x="94.90" y="501.79" width="6.37" height="5.42" fill="#f9cdc0"/>
<rect x="101.22" y="501.79" width="6.37" height="5.42" fill="#f3e0de"/>
<rect x="107.55" y="501.79" width="6.37" height="5.42" fill="#f9cdc0"/>
<rect x="113.87" y="501.79" width="6.37" height="5.42" fill="#f0ecf0"/>
<rect x="120.19" y="501.79" width="6.37" height="5.42" fill="#f8bfb0"/>
<rect x="128.51" y="501.79" width="6.37" height="5.42" fill="#b8aede"/>
<rect x="134.84" y="501.79" width="6.37" height="5.42" fill="#f0ecf0"/>
<rect x="141.16" y="501.79" width="6.37" height="5.42" fill="#c8c0e5"/>
<rect x="147.48" y="501.79" width="6.37" height="5.42" fill="#f0ecf0"/>
<rect x="153.81" y="501.79" width="6.37" height="5.42" fill="#f6d9d2"/>
<rect x="160.13" y="501.79" width="6.37" height="5.42" fill="#d7d0e9"/>
<rect x="168.45" y="501.79" width="6.37" height="5.42" fill="#aca0d8"/>
<rect x="174.78" y="501.79" width="6.37" height="5.42" fill="#998dcf"/>
<rect x="181.10" y="501.79" width="6.37" height="5.42" fill="#aca0d8"/>
<rect x="187.42" y="501.79" width="6.37" height="5.42" fill="#998dcf"/>
<rect x="193.74" y="501.79" width="6.37" height="5.42" fill="#aca0d8"/>
<rect x="200.07" y="501.79" width="6.37" height="5.42" fill="#998dcf"/>
<rect x="206.39" y="501.79" width="6.37" height="5.42" fill="#9185cb"/>
<rect x="214.71" y="501.79" width="6.37" height="5.42" fill="#f6b29f"/>
<rect x="221.04" y="501.79" width="6.37" height="5.42" fill="#f49d87"/>
<rect x="227.36" y="501.79" width="6.37" height="5.42" fill="#f8bfb0"/>
<rect x="233.68" y="501.79" width="6.37" height="5.42" fill="#c8c0e5"/>
<rect x="6.70" y="507.17" width="6.37" height="5.42" fill="#f9cdc0"/>
<rect x="13.02" y="507.17" width="6.37" height="5.42" fill="#f9cdc0"/>
<rect x="21.35" y="507.17" width="6.37" height="5.42" fill="#c8c0e5"/>
<rect x="27.67" y="507.17" width="6.37" height="5.42" fill="#c8c0e5"/>
<rect x="33.99" y="507.17" width="6.37" height="5.42" fill="#c0b7e1"/>
<rect x="40.31" y="507.17" width="6.37" height="5.42" fill="#c8c0e5"/>
<rect x="48.64" y="507.17" width="6.37" height="5.42" fill="#c8c0e5"/>
<rect x="54.96" y="507.17" width="6.37" height="5.42" fill="#c8c0e5"/>
<rect x="61.28" y="507.17" width="6.37" height="5.42" fill="#c8c0e5"/>
<rect x="67.61" y="507.17" width="6.37" height="5.42" fill="#c8c0e5"/>
<rect x="73.93" y="507.17" width="6.37" height="5.42" fill="#d7d0e9"/>
<rect x="82.25" y="507.17" width="6.37" height="5.42" fill="#c8c0e5"/>
<rect x="88.58" y="507.17" width="6.37" height="5.42" fill="#c8c0e5"/>
<rect x="94.90" y="507.17" width="6.37" height="5.42" fill="#d7d0e9"/>
<rect x="101.22" y="507.17" width="6.37" height="5.42" fill="#c0b7e1"/>
<rect x="107.55" y="507.17" width="6.37" height="5.42" fill="#b8aede"/>
<rect x="113.87" y="507.17" width="6.37" height="5.42" fill="#e1dcec"/>
<rect x="120.19" y="507.17" width="6.37" height="5.42" fill="#f0ecf0"/>
<rect x="128.51" y="507.17" width="6.37" height="5.42" fill="#f0ecf0"/>
<rect x="134.84" y="507.17" width="6.37" height="5.42" fill="#c8c0e5"/>
<rect x="141.16" y="507.17" width="6.37" height="5.42" fill="#f0ecf0"/>
<rect x="147.48" y="507.17" width="6.37" height="5.42" fill="#f0ecf0"/>
<rect x="153.81" y="507.17" width="6.37" height="5.42" fill="#f0ecf0"/>
<rect x="160.13" y="507.17" width="6.37" height="5.42" fill="#d7d0e9"/>
<rect x="168.45" y="507.17" width="6.37" height="5.42" fill="#f6d9d2"/>
<rect x="174.78" y="507.17" width="6.37" height="5.42" fill="#f0ecf0"/>
<rect x="181.10" y="507.17" width="6.37" height="5.42" fill="#f0ecf0"/>
<rect x="187.42" y="507.17" width="6.37" height="5.42" fill="#e1dcec"/>
<rect x="193.74" y="507.17" width="6.37" height="5.42" fill="#f3e0de"/>
<rect x="200.07" y="507.17" width="6.37" height="5.42" fill="#f0ecf0"/>
<rect x="206.39" y="507.17" width="6.37" height="5.42" fill="#7f79c6"/>
<rect x="214.71" y="507.17" width="6.37" height="5.42" fill="#ec6152"/>
<rect x="221.04" y="507.17" width="6.37" height="5.42" fill="#e84e43"/>
<rect x="227.36" y="507.17" width="6.37" height="5.42" fill="#e84e43"/>
<rect x="233.68" y="507.17" width="6.37" height="5.42" fill="#f49d87"/>
<rect x="6.70" y="512.54" width="6.37" height="5.42" fill="#c0b7e1"/>
<rect x="13.02" y="512.54" width="6.37" height="5.42" fill="#c8c0e5"/>
<rect x="21.35" y="512.54" width="6.37" height="5.42" fill="#f6d9d2"/>
<rect x="27.67" y="512.54" width="6.37" height="5.42" fill="#f0ecf0"/>
<rect x="33.99" y="512.54" width="6.37" height="5.42" fill="#f9cdc0"/>
<rect x="40.31" y="512.54" width="6.37" height="5.42" fill="#f0ecf0"/>
<rect x="48.64" y="512.54" width="6.37" height="5.42" fill="#f0ecf0"/>
<rect x="54.96" y="512.54" width="6.37" height="5.42" fill="#f0ecf0"/>
<rect x="61.28" y="512.54" width="6.37" height="5.42" fill="#c8c0e5"/>
<rect x="67.61" y="512.54" width="6.37" height="5.42" fill="#f3e0de"/>
<rect x="73.93" y="512.54" width="6.37" height="5.42" fill="#d7d0e9"/>
<rect x="82.25" y="512.54" width="6.37" height="5.42" fill="#c8c0e5"/>
<rect x="88.58" y="512.54" width="6.37" height="5.42" fill="#f0ecf0"/>
<rect x="94.90" y="512.54" width="6.37" height="5.42" fill="#c8c0e5"/>
<rect x="101.22" y="512.54" width="6.37" height="5.42" fill="#f0ecf0"/>
<rect x="107.55" y="512.54" width="6.37" height="5.42" fill="#f0ecf0"/>
<rect x="113.87" y="512.54" width="6.37" height="5.42" fill="#f0ecf0"/>
<rect x="120.19" y="512.54" width="6.37" height="5.42" fill="#c0b7e1"/>
<rect x="128.51" y="512.54" width="6.37" height="5.42" fill="#c8c0e5"/>
<rect x="134.84" y="512.54" width="6.37" height="5.42" fill="#c8c0e5"/>
<rect x="141.16" y="512.54" width="6.37" height="5.42" fill="#d7d0e9"/>
<rect x="147.48" y="512.54" width="6.37" height="5.42" fill="#e1dcec"/>
<rect x="153.81" y="512.54" width="6.37" height="5.42" fill="#e1dcec"/>
<rect x="160.13" y="512.54" width="6.37" height="5.42" fill="#c8c0e5"/>
<rect x="168.45" y="512.54" width="6.37" height="5.42" fill="#c8c0e5"/>
<rect x="174.78" y="512.54" width="6.37" height="5.42" fill="#f0ecf0"/>
<rect x="181.10" y="512.54" width="6.37" height="5.42" fill="#d7d0e9"/>
<rect x="187.42" y="512.54" width="6.37" height="5.42" fill="#c8c0e5"/>
<rect x="193.74" y="512.54" width="6.37" height="5.42" fill="#c8c0e5"/>
<rect x="200.07" y="512.54" width="6.37" height="5.42" fill="#c8c0e5"/>
<rect x="206.39" y="512.54" width="6.37" height="5.42" fill="#6266be"/>
<rect x="214.71" y="512.54" width="6.37" height="5.42" fill="#eb5c4e"/>
<rect x="221.04" y="512.54" width="6.37" height="5.42" fill="#f18370"/>
<rect x="227.36" y="512.54" width="6.37" height="5.42" fill="#ec6152"/>
<rect x="233.68" y="512.54" width="6.37" height="5.42" fill="#f6d9d2"/>
<rect x="6.70" y="517.91" width="6.37" height="5.42" fill="#c0b7e1"/>
<rect x="13.02" y="517.91" width="6.37" height="5.42" fill="#6266be"/>
<rect x="21.35" y="517.91" width="6.37" height="5.42" fill="#c8c0e5"/>
<rect x="27.67" y="517.91" width="6.37" height="5.42" fill="#6266be"/>
<rect x="33.99" y="517.91" width="6.37" height="5.42" fill="#c8c0e5"/>
<rect x="40.31" y="517.91" width="6.37" height="5.42" fill="#d7d0e9"/>
<rect x="48.64" y="517.91" width="6.37" height="5.42" fill="#f6d9d2"/>
<rect x="54.96" y="517.91" width="6.37" height="5.42" fill="#f9cdc0"/>
<rect x="61.28" y="517.91" width="6.37" height="5.42" fill="#f3e0de"/>
<rect x="67.61" y="517.91" width="6.37" height="5.42" fill="#c8c0e5"/>
<rect x="73.93" y="517.91" width="6.37" height="5.42" fill="#f6d9d2"/>
<rect x="82.25" y="517.91" width="6.37" height="5.42" fill="#f0ecf0"/>
<rect x="88.58" y="517.91" width="6.37" height="5.42" fill="#f6d9d2"/>
<rect x="94.90" y="517.91" width="6.37" height="5.42" fill="#d7d0e9"/>
<rect x="101.22" y="517.91" width="6.37" height="5.42" fill="#e1dcec"/>
<rect x="107.55" y="517.91" width="6.37" height="5.42" fill="#d7d0e9"/>
<rect x="113.87" y="517.91" width="6.37" height="5.42" fill="#e95247"/>
<rect x="120.19" y="517.91" width="6.37" height="5.42" fill="#7f79c6"/>
<rect x="128.51" y="517.91" width="6.37" height="5.42" fill="#f0ecf0"/>
<rect x="134.84" y="517.91" width="6.37" height="5.42" fill="#f6d9d2"/>
<rect x="141.16" y="517.91" width="6.37" height="5.42" fill="#f6d9d2"/>
<rect x="147.48" y="517.91" width="6.37" height="5.42" fill="#f0ecf0"/>
<rect x="153.81" y="517.91" width="6.37" height="5.42" fill="#f0ecf0"/>
<rect x="160.13" y="517.91" width="6.37" height="5.42" fill="#f0ecf0"/>
<rect x="168.45" y="517.91" width="6.37" height="5.42" fill="#f0ecf0"/>
<rect x="174.78" y="517.91" width="6.37" height="5.42" fill="#b8aede"/>
<rect x="181.10" y="517.91" width="6.37" height="5.42" fill="#c8c0e5"/>
<rect x="187.42" y="517.91" width="6.37" height="5.42" fill="#f8bfb0"/>
<rect x="193.74" y="517.91" width="6.37" height="5.42" fill="#b8aede"/>
<rect x="200.07" y="517.91" width="6.37" height="5.42" fill="#f0ecf0"/>
<rect x="206.39" y="517.91" width="6.37" height="5.42" fill="#f6b29f"/>
<rect x="214.71" y="517.91" width="6.37" height="5.42" fill="#f18370"/>
<rect x="221.04" y="517.91" width="6.37" height="5.42" fill="#f0ecf0"/>
<rect x="227.36" y="517.91" width="6.37" height="5.42" fill="#f18370"/>
<rect x="233.68" y="517.91" width="6.37" height="5.42" fill="#f3e0de"/>
<rect x="6.70" y="523.29" width="6.37" height="5.42" fill="#c0b7e1"/>
<rect x="13.02" y="523.29" width="6.37" height="5.42" fill="#d7d0e9"/>
<rect x="21.35" y="523.29" width="6.37" height="5.42" fill="#c8c0e5"/>
<rect x="27.67" y="523.29" width="6.37" height="5.42" fill="#9185cb"/>
<rect x="33.99" y="523.29" width="6.37" height="5.42" fill="#d7d0e9"/>
<rect x="40.31" y="523.29" width="6.37" height="5.42" fill="#f0ecf0"/>
<rect x="48.64" y="523.29" width="6.37" height="5.42" fill="#d7d0e9"/>
<rect x="54.96" y="523.29" width="6.37" height="5.42" fill="#c8c0e5"/>
<rect x="61.28" y="523.29" width="6.37" height="5.42" fill="#998dcf"/>
<rect x="67.61" y="523.29" width="6.37" height="5.42" fill="#f9cdc0"/>
<rect x="73.93" y="523.29" width="6.37" height="5.42" fill="#f3e0de"/>
<rect x="82.25" y="523.29" width="6.37" height="5.42" fill="#e1dcec"/>
<rect x="88.58" y="523.29" width="6.37" height="5.42" fill="#c0b7e1"/>
<rect x="94.90" y="523.29" width="6.37" height="5.42" fill="#d7d0e9"/>
<rect x="101.22" y="523.29" width="6.37" height="5.42" fill="#aca0d8"/>
<rect x="107.55" y="523.29" width="6.37" height="5.42" fill="#f0ecf0"/>
<rect x="113.87" y="523.29" width="6.37" height="5.42" fill="#d7d0e9"/>
<rect x="120.19" y="523.29" width="6.37" height="5.42" fill="#998dcf"/>
<rect x="128.51" y="523.29" width="6.37" height="5.42" fill="#f0ecf0"/>
<rect x="134.84" y="523.29" width="6.37" height="5.42" fill="#f6d9d2"/>
<rect x="141.16" y="523.29" width="6.37" height="5.42" fill="#f0ecf0"/>
<rect x="147.48" y="523.29" width="6.37" height="5.42" fill="#f6d9d2"/>
<rect x="153.81" y="523.29" width="6.37" height="5.42" fill="#f6d9d2"/>
<rect x="160.13" y="523.29" width="6.37" height="5.42" fill="#f0ecf0"/>
<rect x="168.45" y="523.29" width="6.37" height="5.42" fill="#f9cdc0"/>
<rect x="174.78" y="523.29" width="6.37" height="5.42" fill="#f6b29f"/>
<rect x="181.10" y="523.29" width="6.37" height="5.42" fill="#f9cdc0"/>
<rect x="187.42" y="523.29" width="6.37" height="5.42" fill="#f8bfb0"/>
<rect x="193.74" y="523.29" width="6.37" height="5.42" fill="#f6b29f"/>
<rect x="200.07" y="523.29" width="6.37" height="5.42" fill="#f0ecf0"/>
<rect x="206.39" y="523.29" width="6.37" height="5.42" fill="#f6b29f"/>
<rect x="214.71" y="523.29" width="6.37" height="5.42" fill="#e95247"/>
<rect x="221.04" y="523.29" width="6.37" height="5.42" fill="#f18370"/>
<rect x="227.36" y="523.29" width="6.37" height="5.42" fill="#ec6152"/>
<rect x="233.68" y="523.29" width="6.37" height="5.42" fill="#f9cdc0"/>
<rect x="6.70" y="528.66" width="6.37" height="5.42" fill="#e1dcec"/>
<rect x="13.02" y="528.66" width="6.37" height="5.42" fill="#c8c0e5"/>
<rect x="21.35" y="528.66" width="6.37" height="5.42" fill="#f6d9d2"/>
<rect x="27.67" y="528.66" width="6.37" height="5.42" fill="#f0ecf0"/>
<rect x="33.99" y="528.66" width="6.37" height="5.42" fill="#f0ecf0"/>
<rect x="40.31" y="528.66" width="6.37" height="5.42" fill="#f0ecf0"/>
<rect x="48.64" y="528.66" width="6.37" height="5.42" fill="#d7d0e9"/>
<rect x="54.96" y="528.66" width="6.37" height="5.42" fill="#d7d0e9"/>
<rect x="61.28" y="528.66" width="6.37" height="5.42" fill="#c8c0e5"/>
<rect x="67.61" y="528.66" width="6.37" height="5.42" fill="#d7d0e9"/>
<rect x="73.93" y="528.66" width="6.37" height="5.42" fill="#c8c0e5"/>
<rect x="82.25" y="528.66" width="6.37" height="5.42" fill="#c8c0e5"/>
<rect x="88.58" y="528.66" width="6.37" height="5.42" fill="#c8c0e5"/>
<rect x="94.90" y="528.66" width="6.37" height="5.42" fill="#c8c0e5"/>
<rect x="101.22" y="528.66" width="6.37" height="5.42" fill="#c0b7e1"/>
<rect x="107.55" y="528.66" width="6.37" height="5.42" fill="#c0b7e1"/>
<rect x="113.87" y="528.66" width="6.37" height="5.42" fill="#c8c0e5"/>
<rect x="120.19" y="528.66" width="6.37" height="5.42" fill="#c0b7e1"/>
<rect x="128.51" y="528.66" width="6.37" height="5.42" fill="#d7d0e9"/>
<rect x="134.84" y="528.66" width="6.37" height="5.42" fill="#f0ecf0"/>
<rect x="141.16" y="528.66" width="6.37" height="5.42" fill="#c8c0e5"/>
<rect x="147.48" y="528.66" width="6.37" height="5.42" fill="#d7d0e9"/>
<rect x="153.81" y="528.66" width="6.37" height="5.42" fill="#d7d0e9"/>
<rect x="160.13" y="528.66" width="6.37" height="5.42" fill="#d7d0e9"/>
<rect x="168.45" y="528.66" width="6.37" height="5.42" fill="#f0ecf0"/>
<rect x="174.78" y="528.66" width="6.37" height="5.42" fill="#f0ecf0"/>
<rect x="181.10" y="528.66" width="6.37" height="5.42" fill="#f0ecf0"/>
<rect x="187.42" y="528.66" width="6.37" height="5.42" fill="#f3e0de"/>
<rect x="193.74" y="528.66" width="6.37" height="5.42" fill="#f0ecf0"/>
<rect x="200.07" y="528.66" width="6.37" height="5.42" fill="#f0ecf0"/>
<rect x="206.39" y="528.66" width="6.37" height="5.42" fill="#d7d0e9"/>
<rect x="214.71" y="528.66" width="6.37" height="5.42" fill="#e6443c"/>
<rect x="221.04" y="528.66" width="6.37" height="5.42" fill="#e6443c"/>
<rect x="227.36" y="528.66" width="6.37" height="5.42" fill="#e6443c"/>
<rect x="233.68" y="528.66" width="6.37" height="5.42" fill="#ec6152"/>
<rect x="6.70" y="534.03" width="6.37" height="5.42" fill="#aca0d8"/>
<rect x="13.02" y="534.03" width="6.37" height="5.42" fill="#b8aede"/>
<rect x="21.35" y="534.03" width="6.37" height="5.42" fill="#f6d9d2"/>
<rect x="27.67" y="534.03" width="6.37" height="5.42" fill="#f8bfb0"/>
<rect x="33.99" y="534.03" width="6.37" height="5.42" fill="#f0ecf0"/>
<rect x="40.31" y="534.03" width="6.37" height="5.42" fill="#f6d9d2"/>
<rect x="48.64" y="534.03" width="6.37" height="5.42" fill="#f49d87"/>
<rect x="54.96" y="534.03" width="6.37" height="5.42" fill="#f49d87"/>
<rect x="61.28" y="534.03" width="6.37" height="5.42" fill="#f6b29f"/>
<rect x="67.61" y="534.03" width="6.37" height="5.42" fill="#f49d87"/>
<rect x="73.93" y="534.03" width="6.37" height="5.42" fill="#f49d87"/>
<rect x="82.25" y="534.03" width="6.37" height="5.42" fill="#f18370"/>
<rect x="88.58" y="534.03" width="6.37" height="5.42" fill="#ee7261"/>
<rect x="94.90" y="534.03" width="6.37" height="5.42" fill="#f49d87"/>
<rect x="101.22" y="534.03" width="6.37" height="5.42" fill="#f49d87"/>
<rect x="107.55" y="534.03" width="6.37" height="5.42" fill="#f49d87"/>
<rect x="113.87" y="534.03" width="6.37" height="5.42" fill="#f49d87"/>
<rect x="120.19" y="534.03" width="6.37" height="5.42" fill="#f49d87"/>
<rect x="128.51" y="534.03" width="6.37" height="5.42" fill="#f9cdc0"/>
<rect x="134.84" y="534.03" width="6.37" height="5.42" fill="#f9cdc0"/>
<rect x="141.16" y="534.03" width="6.37" height="5.42" fill="#f6d9d2"/>
<rect x="147.48" y="534.03" width="6.37" height="5.42" fill="#f9cdc0"/>
<rect x="153.81" y="534.03" width="6.37" height="5.42" fill="#f9cdc0"/>
<rect x="160.13" y="534.03" width="6.37" height="5.42" fill="#f6d9d2"/>
<rect x="168.45" y="534.03" width="6.37" height="5.42" fill="#aca0d8"/>
<rect x="174.78" y="534.03" width="6.37" height="5.42" fill="#c0b7e1"/>
<rect x="181.10" y="534.03" width="6.37" height="5.42" fill="#aca0d8"/>
<rect x="187.42" y="534.03" width="6.37" height="5.42" fill="#c0b7e1"/>
<rect x="193.74" y="534.03" width="6.37" height="5.42" fill="#b8aede"/>
<rect x="200.07" y="534.03" width="6.37" height="5.42" fill="#c0b7e1"/>
<rect x="206.39" y="534.03" width="6.37" height="5.42" fill="#c8c0e5"/>
<rect x="214.71" y="534.03" width="6.37" height="5.42" fill="#aca0d8"/>
<rect x="221.04" y="534.03" width="6.37" height="5.42" fill="#aca0d8"/>
<rect x="227.36" y="534.03" width="6.37" height="5.42" fill="#c0b7e1"/>
<rect x="233.68" y="534.03" width="6.37" height="5.42" fill="#aca0d8"/>
<rect x="6.70" y="539.40" width="6.37" height="5.42" fill="#b8aede"/>
<rect x="13.02" y="539.40" width="6.37" height="5.42" fill="#c0b7e1"/>
<rect x="21.35" y="539.40" width="6.37" height="5.42" fill="#f0ecf0"/>
<rect x="27.67" y="539.40" width="6.37" height="5.42" fill="#d7d0e9"/>
<rect x="33.99" y="539.40" width="6.37" height="5.42" fill="#d7d0e9"/>
<rect x="40.31" y="539.40" width="6.37" height="5.42" fill="#d7d0e9"/>
<rect x="48.64" y="539.40" width="6.37" height="5.42" fill="#f49d87"/>
<rect x="54.96" y="539.40" width="6.37" height="5.42" fill="#f49d87"/>
<rect x="61.28" y="539.40" width="6.37" height="5.42" fill="#f49d87"/>
<rect x="67.61" y="539.40" width="6.37" height="5.42" fill="#f49d87"/>
<rect x="73.93" y="539.40" width="6.37" height="5.42" fill="#f49d87"/>
<rect x="82.25" y="539.40" width="6.37" height="5.42" fill="#f49d87"/>
<rect x="88.58" y="539.40" width="6.37" height="5.42" fill="#f49d87"/>
<rect x="94.90" y="539.40" width="6.37" height="5.42" fill="#f49d87"/>
<rect x="101.22" y="539.40" width="6.37" height="5.42" fill="#f6b29f"/>
<rect x="107.55" y="539.40" width="6.37" height="5.42" fill="#f49d87"/>
<rect x="113.87" y="539.40" width="6.37" height="5.42" fill="#f49d87"/>
<rect x="120.19" y="539.40" width="6.37" height="5.42" fill="#f6b29f"/>
<rect x="128.51" y="539.40" width="6.37" height="5.42" fill="#f9cdc0"/>
<rect x="134.84" y="539.40" width="6.37" height="5.42" fill="#f9cdc0"/>
<rect x="141.16" y="539.40" width="6.37" height="5.42" fill="#f6d9d2"/>
<rect x="147.48" y="539.40" width="6.37" height="5.42" fill="#f9cdc0"/>
<rect x="153.81" y="539.40" width="6.37" height="5.42" fill="#f9cdc0"/>
<rect x="160.13" y="539.40" width="6.37" height="5.42" fill="#f6d9d2"/>
<rect x="168.45" y="539.40" width="6.37" height="5.42" fill="#b8aede"/>
<rect x="174.78" y="539.40" width="6.37" height="5.42" fill="#b8aede"/>
<rect x="181.10" y="539.40" width="6.37" height="5.42" fill="#c0b7e1"/>
<rect x="187.42" y="539.40" width="6.37" height="5.42" fill="#b8aede"/>
<rect x="193.74" y="539.40" width="6.37" height="5.42" fill="#b8aede"/>
<rect x="200.07" y="539.40" width="6.37" height="5.42" fill="#b8aede"/>
<rect x="206.39" y="539.40" width="6.37" height="5.42" fill="#c8c0e5"/>
<rect x="214.71" y="539.40" width="6.37" height="5.42" fill="#e1dcec"/>
<rect x="221.04" y="539.40" width="6.37" height="5.42" fill="#c8c0e5"/>
<rect x="227.36" y="539.40" width="6.37" height="5.42" fill="#c8c0e5"/>
<rect x="233.68" y="539.40" width="6.37" height="5.42" fill="#c0b7e1"/>
<rect x="245.4" y="271.50" width="6.6" height="5.37" fill="#5c6064" stroke="#33373b" stroke-width="0.6"/>
<text x="257.6" y="275.80" font-family="Liberation Sans, Arial, sans-serif" font-weight="bold" font-size="5.3" fill="#222">ESAM</text>
<rect x="245.4" y="276.87" width="6.6" height="5.37" fill="#5c6064" stroke="#33373b" stroke-width="0.6"/>
<text x="257.6" y="281.17" font-family="Liberation Sans, Arial, sans-serif" font-weight="bold" font-size="5.3" fill="#222">MEIS2</text>
<rect x="245.4" y="282.25" width="6.6" height="5.37" fill="#5c6064" stroke="#33373b" stroke-width="0.6"/>
<text x="257.6" y="286.55" font-family="Liberation Sans, Arial, sans-serif" font-weight="bold" font-size="5.3" fill="#222">RUNX1T1</text>
<rect x="245.4" y="287.62" width="6.6" height="5.37" fill="#5c6064" stroke="#33373b" stroke-width="0.6"/>
<text x="257.6" y="291.92" font-family="Liberation Sans, Arial, sans-serif" font-weight="bold" font-size="5.3" fill="#222">HOXB9</text>
<rect x="245.4" y="292.99" width="6.6" height="5.37" fill="#5c6064" stroke="#33373b" stroke-width="0.6"/>
<text x="257.6" y="297.29" font-family="Liberation Sans, Arial, sans-serif" font-weight="bold" font-size="5.3" fill="#222">CD24</text>
<rect x="245.4" y="298.37" width="6.6" height="5.37" fill="#5c6064" stroke="#33373b" stroke-width="0.6"/>
<text x="257.6" y="302.67" font-family="Liberation Sans, Arial, sans-serif" font-weight="bold" font-size="5.3" fill="#222">PLVAP</text>
<rect x="245.4" y="303.74" width="6.6" height="5.37" fill="#5c6064" stroke="#33373b" stroke-width="0.6"/>
<text x="257.6" y="308.04" font-family="Liberation Sans, Arial, sans-serif" font-weight="bold" font-size="5.3" fill="#222">HMGA2</text>
<rect x="245.4" y="309.11" width="6.6" height="5.37" fill="#5c6064" stroke="#33373b" stroke-width="0.6"/>
<text x="257.6" y="313.41" font-family="Liberation Sans, Arial, sans-serif" font-weight="bold" font-size="5.3" fill="#222">MKI67</text>
<rect x="245.4" y="314.48" width="6.6" height="5.37" fill="#5c6064" stroke="#33373b" stroke-width="0.6"/>
<text x="257.6" y="318.78" font-family="Liberation Sans, Arial, sans-serif" font-weight="bold" font-size="5.3" fill="#222">TOP2A</text>
<rect x="245.4" y="319.86" width="6.6" height="5.37" fill="#5c6064" stroke="#33373b" stroke-width="0.6"/>
<text x="257.6" y="324.16" font-family="Liberation Sans, Arial, sans-serif" font-weight="bold" font-size="5.3" fill="#222">CDH5</text>
<rect x="245.4" y="325.23" width="6.6" height="5.37" fill="#5c6064" stroke="#33373b" stroke-width="0.6"/>
<text x="257.6" y="329.53" font-family="Liberation Sans, Arial, sans-serif" font-weight="bold" font-size="5.3" fill="#222">ITGA2B</text>
<rect x="245.4" y="332.60" width="6.6" height="5.37" fill="#5c6064" stroke="#33373b" stroke-width="0.6"/>
<text x="257.6" y="336.90" font-family="Liberation Sans, Arial, sans-serif" font-weight="bold" font-size="5.3" fill="#222">LIN28A</text>
<rect x="245.4" y="337.98" width="6.6" height="5.37" fill="#5c6064" stroke="#33373b" stroke-width="0.6"/>
<text x="257.6" y="342.28" font-family="Liberation Sans, Arial, sans-serif" font-weight="bold" font-size="5.3" fill="#222">GAD1</text>
<rect x="245.4" y="343.35" width="6.6" height="5.37" fill="#5c6064" stroke="#33373b" stroke-width="0.6"/>
<text x="257.6" y="347.65" font-family="Liberation Sans, Arial, sans-serif" font-weight="bold" font-size="5.3" fill="#222">CA2</text>
<rect x="245.4" y="348.72" width="6.6" height="5.37" fill="#5c6064" stroke="#33373b" stroke-width="0.6"/>
<text x="257.6" y="353.02" font-family="Liberation Sans, Arial, sans-serif" font-weight="bold" font-size="5.3" fill="#222">KRT19</text>
<rect x="245.4" y="354.10" width="6.6" height="5.37" fill="#5c6064" stroke="#33373b" stroke-width="0.6"/>
<text x="257.6" y="358.40" font-family="Liberation Sans, Arial, sans-serif" font-weight="bold" font-size="5.3" fill="#222">APLNR</text>
<rect x="245.4" y="361.47" width="6.6" height="5.37" fill="#5c6064" stroke="#33373b" stroke-width="0.6"/>
<text x="257.6" y="365.77" font-family="Liberation Sans, Arial, sans-serif" font-weight="bold" font-size="5.3" fill="#222">CDH5</text>
<rect x="245.4" y="366.84" width="6.6" height="5.37" fill="#5c6064" stroke="#33373b" stroke-width="0.6"/>
<text x="257.6" y="371.14" font-family="Liberation Sans, Arial, sans-serif" font-weight="bold" font-size="5.3" fill="#222">RUNX1</text>
<rect x="245.4" y="372.21" width="6.6" height="5.37" fill="#5c6064" stroke="#33373b" stroke-width="0.6"/>
<text x="257.6" y="376.51" font-family="Liberation Sans, Arial, sans-serif" font-weight="bold" font-size="5.3" fill="#222">PTPRC</text>
<rect x="245.4" y="377.59" width="6.6" height="5.37" fill="#5c6064" stroke="#33373b" stroke-width="0.6"/>
<text x="257.6" y="381.89" font-family="Liberation Sans, Arial, sans-serif" font-weight="bold" font-size="5.3" fill="#222">SPN</text>
<rect x="245.4" y="382.96" width="6.6" height="5.37" fill="#5c6064" stroke="#33373b" stroke-width="0.6"/>
<text x="257.6" y="387.26" font-family="Liberation Sans, Arial, sans-serif" font-weight="bold" font-size="5.3" fill="#222">ITGA2B</text>
<rect x="245.4" y="388.33" width="6.6" height="5.37" fill="#5c6064" stroke="#33373b" stroke-width="0.6"/>
<text x="257.6" y="392.63" font-family="Liberation Sans, Arial, sans-serif" font-weight="bold" font-size="5.3" fill="#222">CD44</text>
<rect x="245.4" y="395.71" width="6.6" height="5.37" fill="#5c6064" stroke="#33373b" stroke-width="0.6"/>
<text x="257.6" y="400.01" font-family="Liberation Sans, Arial, sans-serif" font-weight="bold" font-size="5.3" fill="#222">HLF</text>
<rect x="245.4" y="401.08" width="6.6" height="5.37" fill="#5c6064" stroke="#33373b" stroke-width="0.6"/>
<text x="257.6" y="405.38" font-family="Liberation Sans, Arial, sans-serif" font-weight="bold" font-size="5.3" fill="#222">SPINK2</text>
<rect x="245.4" y="406.45" width="6.6" height="5.37" fill="#5c6064" stroke="#33373b" stroke-width="0.6"/>
<text x="257.6" y="410.75" font-family="Liberation Sans, Arial, sans-serif" font-weight="bold" font-size="5.3" fill="#222">MYB</text>
<rect x="245.4" y="411.83" width="6.6" height="5.37" fill="#5c6064" stroke="#33373b" stroke-width="0.6"/>
<text x="257.6" y="416.13" font-family="Liberation Sans, Arial, sans-serif" font-weight="bold" font-size="5.3" fill="#222">GFI1</text>
<rect x="245.4" y="419.20" width="6.6" height="5.37" fill="#5c6064" stroke="#33373b" stroke-width="0.6"/>
<text x="257.6" y="423.50" font-family="Liberation Sans, Arial, sans-serif" font-weight="bold" font-size="5.3" fill="#222">CSF1R</text>
<rect x="245.4" y="424.57" width="6.6" height="5.37" fill="#5c6064" stroke="#33373b" stroke-width="0.6"/>
<text x="257.6" y="428.87" font-family="Liberation Sans, Arial, sans-serif" font-weight="bold" font-size="5.3" fill="#222">ITGA2B</text>
<rect x="245.4" y="429.94" width="6.6" height="5.37" fill="#5c6064" stroke="#33373b" stroke-width="0.6"/>
<text x="257.6" y="434.24" font-family="Liberation Sans, Arial, sans-serif" font-weight="bold" font-size="5.3" fill="#222">GP9</text>
<rect x="245.4" y="435.32" width="6.6" height="5.37" fill="#5c6064" stroke="#33373b" stroke-width="0.6"/>
<text x="257.6" y="439.62" font-family="Liberation Sans, Arial, sans-serif" font-weight="bold" font-size="5.3" fill="#222">CD7</text>
<rect x="245.4" y="440.69" width="6.6" height="5.37" fill="#5c6064" stroke="#33373b" stroke-width="0.6"/>
<text x="257.6" y="444.99" font-family="Liberation Sans, Arial, sans-serif" font-weight="bold" font-size="5.3" fill="#222">IL7R</text>
<rect x="245.4" y="446.06" width="6.6" height="5.37" fill="#5c6064" stroke="#33373b" stroke-width="0.6"/>
<text x="257.6" y="450.36" font-family="Liberation Sans, Arial, sans-serif" font-weight="bold" font-size="5.3" fill="#222">IKZF1</text>
<rect x="245.4" y="451.44" width="6.6" height="5.37" fill="#5c6064" stroke="#33373b" stroke-width="0.6"/>
<text x="257.6" y="455.74" font-family="Liberation Sans, Arial, sans-serif" font-weight="bold" font-size="5.3" fill="#222">IKZF3</text>
<rect x="245.4" y="456.81" width="6.6" height="5.37" fill="#5c6064" stroke="#33373b" stroke-width="0.6"/>
<text x="257.6" y="461.11" font-family="Liberation Sans, Arial, sans-serif" font-weight="bold" font-size="5.3" fill="#222">GFI1B</text>
<rect x="245.4" y="462.18" width="6.6" height="5.37" fill="#5c6064" stroke="#33373b" stroke-width="0.6"/>
<text x="257.6" y="466.48" font-family="Liberation Sans, Arial, sans-serif" font-weight="bold" font-size="5.3" fill="#222">ITGA4</text>
<rect x="245.4" y="467.56" width="6.6" height="5.37" fill="#5c6064" stroke="#33373b" stroke-width="0.6"/>
<text x="257.6" y="471.86" font-family="Liberation Sans, Arial, sans-serif" font-weight="bold" font-size="5.3" fill="#222">CD44</text>
<rect x="245.4" y="472.93" width="6.6" height="5.37" fill="#5c6064" stroke="#33373b" stroke-width="0.6"/>
<text x="257.6" y="477.23" font-family="Liberation Sans, Arial, sans-serif" font-weight="bold" font-size="5.3" fill="#222">IL1B</text>
<rect x="245.4" y="478.30" width="6.6" height="5.37" fill="#5c6064" stroke="#33373b" stroke-width="0.6"/>
<text x="257.6" y="482.60" font-family="Liberation Sans, Arial, sans-serif" font-weight="bold" font-size="5.3" fill="#222">GFI1</text>
<rect x="245.4" y="485.67" width="6.6" height="5.37" fill="#5c6064" stroke="#33373b" stroke-width="0.6"/>
<text x="257.6" y="489.97" font-family="Liberation Sans, Arial, sans-serif" font-weight="bold" font-size="5.3" fill="#222">HOXA5</text>
<rect x="245.4" y="491.05" width="6.6" height="5.37" fill="#5c6064" stroke="#33373b" stroke-width="0.6"/>
<text x="257.6" y="495.35" font-family="Liberation Sans, Arial, sans-serif" font-weight="bold" font-size="5.3" fill="#222">HOXA7</text>
<rect x="245.4" y="496.42" width="6.6" height="5.37" fill="#5c6064" stroke="#33373b" stroke-width="0.6"/>
<text x="257.6" y="500.72" font-family="Liberation Sans, Arial, sans-serif" font-weight="bold" font-size="5.3" fill="#222">HOXA9</text>
<rect x="245.4" y="501.79" width="6.6" height="5.37" fill="#5c6064" stroke="#33373b" stroke-width="0.6"/>
<text x="257.6" y="506.09" font-family="Liberation Sans, Arial, sans-serif" font-weight="bold" font-size="5.3" fill="#222">HOXA10</text>
<rect x="245.4" y="507.17" width="6.6" height="5.37" fill="#5c6064" stroke="#33373b" stroke-width="0.6"/>
<text x="257.6" y="511.47" font-family="Liberation Sans, Arial, sans-serif" font-weight="bold" font-size="5.3" fill="#222">BCL11A</text>
<rect x="245.4" y="512.54" width="6.6" height="5.37" fill="#5c6064" stroke="#33373b" stroke-width="0.6"/>
<text x="257.6" y="516.84" font-family="Liberation Sans, Arial, sans-serif" font-weight="bold" font-size="5.3" fill="#222">MLLT3</text>
<rect x="245.4" y="517.91" width="6.6" height="5.37" fill="#5c6064" stroke="#33373b" stroke-width="0.6"/>
<text x="257.6" y="522.21" font-family="Liberation Sans, Arial, sans-serif" font-weight="bold" font-size="5.3" fill="#222">LCOR</text>
<rect x="245.4" y="523.29" width="6.6" height="5.37" fill="#5c6064" stroke="#33373b" stroke-width="0.6"/>
<text x="257.6" y="527.59" font-family="Liberation Sans, Arial, sans-serif" font-weight="bold" font-size="5.3" fill="#222">SVOPL</text>
<rect x="245.4" y="528.66" width="6.6" height="5.37" fill="#5c6064" stroke="#33373b" stroke-width="0.6"/>
<text x="257.6" y="532.96" font-family="Liberation Sans, Arial, sans-serif" font-weight="bold" font-size="5.3" fill="#222">CD74</text>
<rect x="245.4" y="534.03" width="6.6" height="5.37" fill="#5c6064" stroke="#33373b" stroke-width="0.6"/>
<text x="257.6" y="538.33" font-family="Liberation Sans, Arial, sans-serif" font-weight="bold" font-size="5.3" fill="#222">PROCR</text>
<rect x="245.4" y="539.40" width="6.6" height="5.37" fill="#5c6064" stroke="#33373b" stroke-width="0.6"/>
<text x="257.6" y="543.70" font-family="Liberation Sans, Arial, sans-serif" font-weight="bold" font-size="5.3" fill="#222">EMCN</text>
<line x1="285.3" y1="273.50" x2="285.3" y2="327.60" stroke="#bbb" stroke-width="0.9"/>
<text x="291.6" y="302.55" font-family="Liberation Sans, Arial, sans-serif" font-weight="bold" font-size="7.45" fill="#222">Endothelium markers</text>
<line x1="285.3" y1="334.60" x2="285.3" y2="356.47" stroke="#bbb" stroke-width="0.9"/>
<text x="291.6" y="347.54" font-family="Liberation Sans, Arial, sans-serif" font-weight="bold" font-size="7.45" fill="#222">Early HSPC markers</text>
<line x1="285.3" y1="363.47" x2="285.3" y2="390.71" stroke="#bbb" stroke-width="0.9"/>
<text x="291.6" y="379.09" font-family="Liberation Sans, Arial, sans-serif" font-weight="bold" font-size="7.45" fill="#222">Landmark markers</text>
<line x1="285.3" y1="397.71" x2="285.3" y2="414.20" stroke="#bbb" stroke-width="0.9"/>
<text x="291.6" y="407.95" font-family="Liberation Sans, Arial, sans-serif" font-weight="bold" font-size="7.45" fill="#222">Common HSPC markers</text>
<line x1="285.3" y1="421.20" x2="285.3" y2="480.67" stroke="#bbb" stroke-width="0.9"/>
<text x="338.8" y="452.24" font-family="Liberation Sans, Arial, sans-serif" font-weight="bold" font-size="7.45" text-anchor="middle" fill="#222">Hematopoietic cell lineage</text>
<text x="338.8" y="462.34" font-family="Liberation Sans, Arial, sans-serif" font-weight="bold" font-size="7.45" text-anchor="middle" fill="#222">markers</text>
<line x1="285.3" y1="487.67" x2="285.3" y2="541.78" stroke="#bbb" stroke-width="0.9"/>
<text x="291.6" y="516.73" font-family="Liberation Sans, Arial, sans-serif" font-weight="bold" font-size="7.45" fill="#222">Definitive HSC markers</text>
<text x="336.9" y="251.8" font-family="Liberation Sans, Arial, sans-serif" font-weight="bold" font-size="6.6" text-anchor="middle" fill="#222">Relative expression</text>
<rect x="317.7" y="256.3" width="41.2" height="8.2" fill="url(#eg)"/>
<text x="317.7" y="277.8" font-family="Liberation Sans, Arial, sans-serif" font-size="7.2" text-anchor="middle" fill="#333">-4</text>
<text x="328.0" y="277.8" font-family="Liberation Sans, Arial, sans-serif" font-size="7.2" text-anchor="middle" fill="#333">-2</text>
<text x="338.3" y="277.8" font-family="Liberation Sans, Arial, sans-serif" font-size="7.2" text-anchor="middle" fill="#333">0</text>
<text x="348.6" y="277.8" font-family="Liberation Sans, Arial, sans-serif" font-size="7.2" text-anchor="middle" fill="#333">2</text>
<text x="358.9" y="277.8" font-family="Liberation Sans, Arial, sans-serif" font-size="7.2" text-anchor="middle" fill="#333">4</text>
<rect x="292.3" y="530.6" width="10.7" height="7.7" fill="#5c6064" stroke="#33373b" stroke-width="0.6"/>
<text x="306" y="537.3" font-family="Liberation Sans, Arial, sans-serif" font-weight="bold" font-size="6.8" fill="#222">Differentially expressed genes</text>
<text x="306" y="545" font-family="Liberation Sans, Arial, sans-serif" font-weight="bold" font-size="6.8" fill="#222">between all of the groups</text>
<line x1="0" y1="549.1" x2="404" y2="549.1" stroke="#c8c8c8" stroke-width="0.9"/></svg>
</body></html>
